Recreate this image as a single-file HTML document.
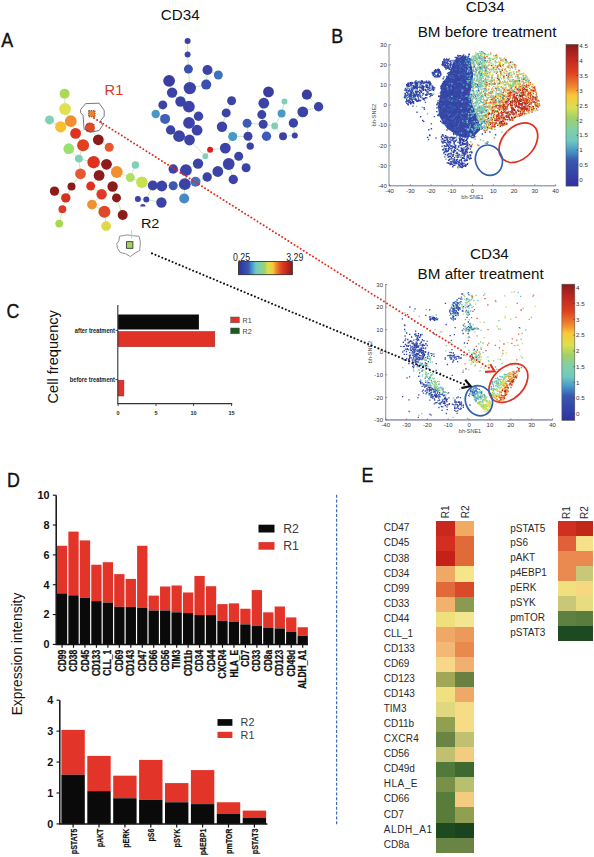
<!DOCTYPE html><html><head><meta charset="utf-8"><style>html,body{margin:0;padding:0;background:#fff;}body{width:594px;height:857px;overflow:hidden;}svg{display:block;}text{font-family:"Liberation Sans", sans-serif;}</style></head><body>
<svg width="594" height="857" viewBox="0 0 594 857">
<defs><linearGradient id="cb" x1="0" y1="0" x2="0" y2="1"><stop offset="0.000" stop-color="#8b1a1a"/><stop offset="0.100" stop-color="#c02820"/><stop offset="0.200" stop-color="#e04020"/><stop offset="0.300" stop-color="#f08830"/><stop offset="0.360" stop-color="#f8c838"/><stop offset="0.450" stop-color="#d8e050"/><stop offset="0.520" stop-color="#a0d068"/><stop offset="0.600" stop-color="#80d0a8"/><stop offset="0.680" stop-color="#70c8c0"/><stop offset="0.750" stop-color="#4898c8"/><stop offset="0.820" stop-color="#3858b0"/><stop offset="1.000" stop-color="#3030a0"/></linearGradient>
<linearGradient id="cbh" x1="0" y1="0" x2="1" y2="0"><stop offset="0.000" stop-color="#3030a0"/><stop offset="0.180" stop-color="#3858b0"/><stop offset="0.250" stop-color="#4898c8"/><stop offset="0.320" stop-color="#70c8c0"/><stop offset="0.400" stop-color="#80d0a8"/><stop offset="0.480" stop-color="#a0d068"/><stop offset="0.550" stop-color="#d8e050"/><stop offset="0.640" stop-color="#f8c838"/><stop offset="0.700" stop-color="#f08830"/><stop offset="0.800" stop-color="#e04020"/><stop offset="0.900" stop-color="#c02820"/><stop offset="1.000" stop-color="#8b1a1a"/></linearGradient></defs>
<text transform="translate(1.3,47.2) scale(0.87,1)" font-size="20.5" fill="#111" stroke="#111" stroke-width="0.35">A</text>
<text transform="translate(331.2,42.9) scale(0.87,1)" font-size="20.5" fill="#111" stroke="#111" stroke-width="0.35">B</text>
<text transform="translate(6.4,318.3) scale(0.87,1)" font-size="20.5" fill="#111" stroke="#111" stroke-width="0.35">C</text>
<text transform="translate(7.0,487.2) scale(0.87,1)" font-size="20.5" fill="#111" stroke="#111" stroke-width="0.35">D</text>
<text transform="translate(361.6,482) scale(0.87,1)" font-size="20.5" fill="#111" stroke="#111" stroke-width="0.35">E</text>
<text transform="translate(160.8,20.4) scale(1.05,1)" font-size="14.5" fill="#111">CD34</text>
<text transform="translate(465.8,12.1) scale(1.05,1)" font-size="14.5" fill="#111">CD34</text>
<text transform="translate(417.7,36.9) scale(1.05,1)" font-size="14.5" fill="#111">BM before treatment</text>
<text transform="translate(469.9,258.7) scale(1.05,1)" font-size="14.5" fill="#111">CD34</text>
<text transform="translate(417.6,278.6) scale(1.05,1)" font-size="14.5" fill="#111">BM after treatment</text>
<g>
<text transform="translate(58,356.8) rotate(-90)" text-anchor="middle" font-size="14.6" fill="#111">Cell frequency</text>
<rect x="118.1" y="314.5" width="80.8" height="15" fill="#0a0a0a"/>
<rect x="118.1" y="331.5" width="96.7" height="15.2" fill="#e03228" stroke="#9a2018" stroke-width="0.5"/>
<rect x="118.1" y="380.2" width="5.8" height="15.8" fill="#e03228" stroke="#9a2018" stroke-width="0.5"/>
<path d="M117.8 305 V403.6 H232.2" fill="none" stroke="#333" stroke-width="1.1"/>
<path d="M115.5 330.4 H118 M115.5 379.6 H118 M118.1 403.6 v2.5 M156 403.6 v2.5 M193.6 403.6 v2.5 M231.6 403.6 v2.5" stroke="#333" stroke-width="0.9"/>
<text x="115" y="333" text-anchor="end" font-size="7" font-weight="bold" fill="#222" transform="translate(115,0) scale(0.82,1) translate(-115,0)">after treatment</text>
<text x="115" y="382.3" text-anchor="end" font-size="7" font-weight="bold" fill="#222" transform="translate(115,0) scale(0.82,1) translate(-115,0)">before treatment</text>
<text x="118.1" y="415" text-anchor="middle" font-size="5.5" font-weight="bold" fill="#222">0</text>
<text x="156" y="415" text-anchor="middle" font-size="5.5" font-weight="bold" fill="#222">5</text>
<text x="193.6" y="415" text-anchor="middle" font-size="5.5" font-weight="bold" fill="#222">10</text>
<text x="231.6" y="415" text-anchor="middle" font-size="5.5" font-weight="bold" fill="#222">15</text>
<rect x="230.7" y="317" width="8.6" height="5.8" fill="#e03228" stroke="#555" stroke-width="0.5"/>
<rect x="230.7" y="328" width="8.6" height="5.8" fill="#1d5a20" stroke="#555" stroke-width="0.5"/>
<text x="242.5" y="322.8" font-size="7.2" fill="#444">R1</text>
<text x="242.5" y="333.8" font-size="7.2" fill="#444">R2</text>
</g>
<g>
<rect x="56.90" y="545.78" width="10.3" height="47.59" fill="#e3342a"/>
<rect x="56.90" y="593.37" width="10.3" height="51.03" fill="#0a0a0a"/>
<path d="M62.05 644.4 v3.4" stroke="#111" stroke-width="1.2"/>
<text transform="translate(65.65,649.8) rotate(-90) scale(0.83,1)" text-anchor="end" font-size="10.2" font-weight="bold" fill="#111" stroke="#111" stroke-width="0.25">CD99</text>
<rect x="68.36" y="531.60" width="10.3" height="63.71" fill="#e3342a"/>
<rect x="68.36" y="595.31" width="10.3" height="49.09" fill="#0a0a0a"/>
<path d="M73.51 644.4 v3.4" stroke="#111" stroke-width="1.2"/>
<text transform="translate(77.11,649.8) rotate(-90) scale(0.83,1)" text-anchor="end" font-size="10.2" font-weight="bold" fill="#111" stroke="#111" stroke-width="0.25">CD38</text>
<rect x="79.82" y="540.41" width="10.3" height="57.29" fill="#e3342a"/>
<rect x="79.82" y="597.70" width="10.3" height="46.70" fill="#0a0a0a"/>
<path d="M84.97 644.4 v3.4" stroke="#111" stroke-width="1.2"/>
<text transform="translate(88.57,649.8) rotate(-90) scale(0.83,1)" text-anchor="end" font-size="10.2" font-weight="bold" fill="#111" stroke="#111" stroke-width="0.25">CD45</text>
<rect x="91.28" y="564.73" width="10.3" height="36.40" fill="#e3342a"/>
<rect x="91.28" y="601.13" width="10.3" height="43.27" fill="#0a0a0a"/>
<path d="M96.43 644.4 v3.4" stroke="#111" stroke-width="1.2"/>
<text transform="translate(100.03,649.8) rotate(-90) scale(0.83,1)" text-anchor="end" font-size="10.2" font-weight="bold" fill="#111" stroke="#111" stroke-width="0.25">CD133</text>
<rect x="102.74" y="562.19" width="10.3" height="40.43" fill="#e3342a"/>
<rect x="102.74" y="602.62" width="10.3" height="41.78" fill="#0a0a0a"/>
<path d="M107.89 644.4 v3.4" stroke="#111" stroke-width="1.2"/>
<text transform="translate(111.49,649.8) rotate(-90) scale(0.83,1)" text-anchor="end" font-size="10.2" font-weight="bold" fill="#111" stroke="#111" stroke-width="0.25">CLL_1</text>
<rect x="114.20" y="574.13" width="10.3" height="32.67" fill="#e3342a"/>
<rect x="114.20" y="606.80" width="10.3" height="37.60" fill="#0a0a0a"/>
<path d="M119.35 644.4 v3.4" stroke="#111" stroke-width="1.2"/>
<text transform="translate(122.95,649.8) rotate(-90) scale(0.83,1)" text-anchor="end" font-size="10.2" font-weight="bold" fill="#111" stroke="#111" stroke-width="0.25">CD69</text>
<rect x="125.66" y="578.90" width="10.3" height="28.05" fill="#e3342a"/>
<rect x="125.66" y="606.95" width="10.3" height="37.45" fill="#0a0a0a"/>
<path d="M130.81 644.4 v3.4" stroke="#111" stroke-width="1.2"/>
<text transform="translate(134.41,649.8) rotate(-90) scale(0.83,1)" text-anchor="end" font-size="10.2" font-weight="bold" fill="#111" stroke="#111" stroke-width="0.25">CD143</text>
<rect x="137.12" y="545.78" width="10.3" height="61.92" fill="#e3342a"/>
<rect x="137.12" y="607.70" width="10.3" height="36.70" fill="#0a0a0a"/>
<path d="M142.27 644.4 v3.4" stroke="#111" stroke-width="1.2"/>
<text transform="translate(145.87,649.8) rotate(-90) scale(0.83,1)" text-anchor="end" font-size="10.2" font-weight="bold" fill="#111" stroke="#111" stroke-width="0.25">CD47</text>
<rect x="148.58" y="595.61" width="10.3" height="14.92" fill="#e3342a"/>
<rect x="148.58" y="610.53" width="10.3" height="33.87" fill="#0a0a0a"/>
<path d="M153.73 644.4 v3.4" stroke="#111" stroke-width="1.2"/>
<text transform="translate(157.33,649.8) rotate(-90) scale(0.83,1)" text-anchor="end" font-size="10.2" font-weight="bold" fill="#111" stroke="#111" stroke-width="0.25">CD66</text>
<rect x="160.04" y="586.51" width="10.3" height="24.02" fill="#e3342a"/>
<rect x="160.04" y="610.53" width="10.3" height="33.87" fill="#0a0a0a"/>
<path d="M165.19 644.4 v3.4" stroke="#111" stroke-width="1.2"/>
<text transform="translate(168.79,649.8) rotate(-90) scale(0.83,1)" text-anchor="end" font-size="10.2" font-weight="bold" fill="#111" stroke="#111" stroke-width="0.25">CD56</text>
<rect x="171.50" y="585.47" width="10.3" height="26.86" fill="#e3342a"/>
<rect x="171.50" y="612.32" width="10.3" height="32.08" fill="#0a0a0a"/>
<path d="M176.65 644.4 v3.4" stroke="#111" stroke-width="1.2"/>
<text transform="translate(180.25,649.8) rotate(-90) scale(0.83,1)" text-anchor="end" font-size="10.2" font-weight="bold" fill="#111" stroke="#111" stroke-width="0.25">TIM3</text>
<rect x="182.96" y="592.48" width="10.3" height="20.59" fill="#e3342a"/>
<rect x="182.96" y="613.07" width="10.3" height="31.33" fill="#0a0a0a"/>
<path d="M188.11 644.4 v3.4" stroke="#111" stroke-width="1.2"/>
<text transform="translate(191.71,649.8) rotate(-90) scale(0.83,1)" text-anchor="end" font-size="10.2" font-weight="bold" fill="#111" stroke="#111" stroke-width="0.25">CD11b</text>
<rect x="194.42" y="575.92" width="10.3" height="39.09" fill="#e3342a"/>
<rect x="194.42" y="615.01" width="10.3" height="29.39" fill="#0a0a0a"/>
<path d="M199.57 644.4 v3.4" stroke="#111" stroke-width="1.2"/>
<text transform="translate(203.17,649.8) rotate(-90) scale(0.83,1)" text-anchor="end" font-size="10.2" font-weight="bold" fill="#111" stroke="#111" stroke-width="0.25">CD34</text>
<rect x="205.88" y="586.21" width="10.3" height="28.80" fill="#e3342a"/>
<rect x="205.88" y="615.01" width="10.3" height="29.39" fill="#0a0a0a"/>
<path d="M211.03 644.4 v3.4" stroke="#111" stroke-width="1.2"/>
<text transform="translate(214.63,649.8) rotate(-90) scale(0.83,1)" text-anchor="end" font-size="10.2" font-weight="bold" fill="#111" stroke="#111" stroke-width="0.25">CD44</text>
<rect x="217.34" y="604.12" width="10.3" height="16.71" fill="#e3342a"/>
<rect x="217.34" y="620.83" width="10.3" height="23.57" fill="#0a0a0a"/>
<path d="M222.49 644.4 v3.4" stroke="#111" stroke-width="1.2"/>
<text transform="translate(226.09,649.8) rotate(-90) scale(0.83,1)" text-anchor="end" font-size="10.2" font-weight="bold" fill="#111" stroke="#111" stroke-width="0.25">CXCR4</text>
<rect x="228.80" y="603.37" width="10.3" height="18.50" fill="#e3342a"/>
<rect x="228.80" y="621.87" width="10.3" height="22.53" fill="#0a0a0a"/>
<path d="M233.95 644.4 v3.4" stroke="#111" stroke-width="1.2"/>
<text transform="translate(237.55,649.8) rotate(-90) scale(0.83,1)" text-anchor="end" font-size="10.2" font-weight="bold" fill="#111" stroke="#111" stroke-width="0.25">HLA_E</text>
<rect x="240.26" y="608.74" width="10.3" height="15.67" fill="#e3342a"/>
<rect x="240.26" y="624.41" width="10.3" height="19.99" fill="#0a0a0a"/>
<path d="M245.41 644.4 v3.4" stroke="#111" stroke-width="1.2"/>
<text transform="translate(249.01,649.8) rotate(-90) scale(0.83,1)" text-anchor="end" font-size="10.2" font-weight="bold" fill="#111" stroke="#111" stroke-width="0.25">CD7</text>
<rect x="251.72" y="590.09" width="10.3" height="35.96" fill="#e3342a"/>
<rect x="251.72" y="626.05" width="10.3" height="18.35" fill="#0a0a0a"/>
<path d="M256.87 644.4 v3.4" stroke="#111" stroke-width="1.2"/>
<text transform="translate(260.47,649.8) rotate(-90) scale(0.83,1)" text-anchor="end" font-size="10.2" font-weight="bold" fill="#111" stroke="#111" stroke-width="0.25">CD33</text>
<rect x="263.18" y="612.32" width="10.3" height="15.67" fill="#e3342a"/>
<rect x="263.18" y="627.99" width="10.3" height="16.41" fill="#0a0a0a"/>
<path d="M268.33 644.4 v3.4" stroke="#111" stroke-width="1.2"/>
<text transform="translate(271.93,649.8) rotate(-90) scale(0.83,1)" text-anchor="end" font-size="10.2" font-weight="bold" fill="#111" stroke="#111" stroke-width="0.25">CD8a</text>
<rect x="274.64" y="606.50" width="10.3" height="21.93" fill="#e3342a"/>
<rect x="274.64" y="628.44" width="10.3" height="15.96" fill="#0a0a0a"/>
<path d="M279.79 644.4 v3.4" stroke="#111" stroke-width="1.2"/>
<text transform="translate(283.39,649.8) rotate(-90) scale(0.83,1)" text-anchor="end" font-size="10.2" font-weight="bold" fill="#111" stroke="#111" stroke-width="0.25">CD123</text>
<rect x="286.10" y="617.39" width="10.3" height="14.32" fill="#e3342a"/>
<rect x="286.10" y="631.72" width="10.3" height="12.68" fill="#0a0a0a"/>
<path d="M291.25 644.4 v3.4" stroke="#111" stroke-width="1.2"/>
<text transform="translate(294.85,649.8) rotate(-90) scale(0.83,1)" text-anchor="end" font-size="10.2" font-weight="bold" fill="#111" stroke="#111" stroke-width="0.25">CD49d</text>
<rect x="297.56" y="627.24" width="10.3" height="8.50" fill="#e3342a"/>
<rect x="297.56" y="635.75" width="10.3" height="8.65" fill="#0a0a0a"/>
<path d="M302.71 644.4 v3.4" stroke="#111" stroke-width="1.2"/>
<text transform="translate(306.31,649.8) rotate(-90) scale(0.83,1)" text-anchor="end" font-size="10.2" font-weight="bold" fill="#111" stroke="#111" stroke-width="0.25">ALDH_A1</text>
<path d="M56.2 495.2 V644.4 H308" fill="none" stroke="#111" stroke-width="1.5"/>
<path d="M52.8 644.40 H56.2" stroke="#111" stroke-width="1.1"/>
<text x="49.6" y="648.30" text-anchor="end" font-size="10.8" font-weight="bold" fill="#111">0</text>
<path d="M52.8 614.56 H56.2" stroke="#111" stroke-width="1.1"/>
<text x="49.6" y="618.46" text-anchor="end" font-size="10.8" font-weight="bold" fill="#111">2</text>
<path d="M52.8 584.72 H56.2" stroke="#111" stroke-width="1.1"/>
<text x="49.6" y="588.62" text-anchor="end" font-size="10.8" font-weight="bold" fill="#111">4</text>
<path d="M52.8 554.88 H56.2" stroke="#111" stroke-width="1.1"/>
<text x="49.6" y="558.78" text-anchor="end" font-size="10.8" font-weight="bold" fill="#111">6</text>
<path d="M52.8 525.04 H56.2" stroke="#111" stroke-width="1.1"/>
<text x="49.6" y="528.94" text-anchor="end" font-size="10.8" font-weight="bold" fill="#111">8</text>
<path d="M52.8 495.20 H56.2" stroke="#111" stroke-width="1.1"/>
<text x="49.6" y="499.10" text-anchor="end" font-size="10.8" font-weight="bold" fill="#111">10</text>
<rect x="258.5" y="524.7" width="16" height="7.8" fill="#0a0a0a"/>
<rect x="258.5" y="542.1" width="16" height="7.6" fill="#e3342a"/>
<text transform="translate(283.2,532.6) scale(0.94,1)" font-size="13" fill="#3a3a3a">R2</text>
<text transform="translate(283.2,550.1) scale(0.94,1)" font-size="13" fill="#3a3a3a">R1</text>
</g>
<text transform="translate(21.5,654) rotate(-90)" text-anchor="middle" font-size="13.8" fill="#111">Expression intensity</text>
<g>
<rect x="61.40" y="729.90" width="23.4" height="44.83" fill="#e3342a"/>
<rect x="61.40" y="774.74" width="23.4" height="49.16" fill="#0a0a0a"/>
<path d="M73.10 823.9 v3.6" stroke="#111" stroke-width="1.2"/>
<text transform="translate(76.70,828.6) rotate(-90) scale(0.75,1)" text-anchor="end" font-size="9.4" font-weight="bold" fill="#111" stroke="#111" stroke-width="0.2">pSTAT5</text>
<rect x="87.30" y="755.88" width="23.4" height="35.25" fill="#e3342a"/>
<rect x="87.30" y="791.12" width="23.4" height="32.78" fill="#0a0a0a"/>
<path d="M99.00 823.9 v3.6" stroke="#111" stroke-width="1.2"/>
<text transform="translate(102.60,828.6) rotate(-90) scale(0.75,1)" text-anchor="end" font-size="9.4" font-weight="bold" fill="#111" stroke="#111" stroke-width="0.2">pAKT</text>
<rect x="113.20" y="775.66" width="23.4" height="22.57" fill="#e3342a"/>
<rect x="113.20" y="798.24" width="23.4" height="25.66" fill="#0a0a0a"/>
<path d="M124.90 823.9 v3.6" stroke="#111" stroke-width="1.2"/>
<text transform="translate(128.50,828.6) rotate(-90) scale(0.75,1)" text-anchor="end" font-size="9.4" font-weight="bold" fill="#111" stroke="#111" stroke-width="0.2">pERK</text>
<rect x="139.10" y="759.90" width="23.4" height="39.89" fill="#e3342a"/>
<rect x="139.10" y="799.78" width="23.4" height="24.12" fill="#0a0a0a"/>
<path d="M150.80 823.9 v3.6" stroke="#111" stroke-width="1.2"/>
<text transform="translate(154.40,828.6) rotate(-90) scale(0.75,1)" text-anchor="end" font-size="9.4" font-weight="bold" fill="#111" stroke="#111" stroke-width="0.2">pS6</text>
<rect x="165.00" y="783.09" width="23.4" height="19.17" fill="#e3342a"/>
<rect x="165.00" y="802.26" width="23.4" height="21.64" fill="#0a0a0a"/>
<path d="M176.70 823.9 v3.6" stroke="#111" stroke-width="1.2"/>
<text transform="translate(180.30,828.6) rotate(-90) scale(0.75,1)" text-anchor="end" font-size="9.4" font-weight="bold" fill="#111" stroke="#111" stroke-width="0.2">pSYK</text>
<rect x="190.90" y="770.10" width="23.4" height="34.01" fill="#e3342a"/>
<rect x="190.90" y="804.11" width="23.4" height="19.79" fill="#0a0a0a"/>
<path d="M202.60 823.9 v3.6" stroke="#111" stroke-width="1.2"/>
<text transform="translate(206.20,828.6) rotate(-90) scale(0.75,1)" text-anchor="end" font-size="9.4" font-weight="bold" fill="#111" stroke="#111" stroke-width="0.2">p4EBP1</text>
<rect x="216.80" y="802.26" width="23.4" height="11.75" fill="#e3342a"/>
<rect x="216.80" y="814.01" width="23.4" height="9.89" fill="#0a0a0a"/>
<path d="M228.50 823.9 v3.6" stroke="#111" stroke-width="1.2"/>
<text transform="translate(232.10,828.6) rotate(-90) scale(0.75,1)" text-anchor="end" font-size="9.4" font-weight="bold" fill="#111" stroke="#111" stroke-width="0.2">pmTOR</text>
<rect x="242.70" y="810.60" width="23.4" height="7.42" fill="#e3342a"/>
<rect x="242.70" y="818.03" width="23.4" height="5.87" fill="#0a0a0a"/>
<path d="M254.40 823.9 v3.6" stroke="#111" stroke-width="1.2"/>
<text transform="translate(258.00,828.6) rotate(-90) scale(0.75,1)" text-anchor="end" font-size="9.4" font-weight="bold" fill="#111" stroke="#111" stroke-width="0.2">pSTAT3</text>
<path d="M59.8 700.2 V823.9 H267.4" fill="none" stroke="#111" stroke-width="1.5"/>
<path d="M56.5 823.90 H59.8" stroke="#111" stroke-width="1.1"/>
<text x="53.2" y="827.80" text-anchor="end" font-size="10.8" font-weight="bold" fill="#111">0</text>
<path d="M56.5 792.98 H59.8" stroke="#111" stroke-width="1.1"/>
<text x="53.2" y="796.88" text-anchor="end" font-size="10.8" font-weight="bold" fill="#111">1</text>
<path d="M56.5 762.06 H59.8" stroke="#111" stroke-width="1.1"/>
<text x="53.2" y="765.96" text-anchor="end" font-size="10.8" font-weight="bold" fill="#111">2</text>
<path d="M56.5 731.14 H59.8" stroke="#111" stroke-width="1.1"/>
<text x="53.2" y="735.04" text-anchor="end" font-size="10.8" font-weight="bold" fill="#111">3</text>
<path d="M56.5 700.22 H59.8" stroke="#111" stroke-width="1.1"/>
<text x="53.2" y="704.12" text-anchor="end" font-size="10.8" font-weight="bold" fill="#111">4</text>
<rect x="217.5" y="719.1" width="14.9" height="6.7" fill="#0a0a0a"/>
<rect x="217.5" y="731.8" width="14.9" height="6.2" fill="#e3342a"/>
<text transform="translate(240.6,726.2) scale(0.94,1)" font-size="11.5" fill="#3a3a3a">R2</text>
<text transform="translate(240.6,738.7) scale(0.94,1)" font-size="11.5" fill="#3a3a3a">R1</text>
</g>
<path d="M336.6 494.8 V824.4" stroke="#3a6cc0" stroke-width="1.2" stroke-dasharray="3,1.8"/>
<g shape-rendering="crispEdges">
<g>
<rect x="436" y="521.30" width="18.9" height="15.3" fill="#c8281e"/>
<rect x="454.8" y="521.30" width="19.4" height="15.3" fill="#f0aa62"/>
<rect x="436" y="536.36" width="18.9" height="15.3" fill="#d42e20"/>
<rect x="454.8" y="536.36" width="19.4" height="15.3" fill="#e06a38"/>
<rect x="436" y="551.42" width="18.9" height="15.3" fill="#c42218"/>
<rect x="454.8" y="551.42" width="19.4" height="15.3" fill="#e06a38"/>
<rect x="436" y="566.48" width="18.9" height="15.3" fill="#f0a866"/>
<rect x="454.8" y="566.48" width="19.4" height="15.3" fill="#f5e68a"/>
<rect x="436" y="581.54" width="18.9" height="15.3" fill="#e06a3a"/>
<rect x="454.8" y="581.54" width="19.4" height="15.3" fill="#d84a2a"/>
<rect x="436" y="596.60" width="18.9" height="15.3" fill="#f0b26e"/>
<rect x="454.8" y="596.60" width="19.4" height="15.3" fill="#8a9a52"/>
<rect x="436" y="611.66" width="18.9" height="15.3" fill="#efe07e"/>
<rect x="454.8" y="611.66" width="19.4" height="15.3" fill="#f3e690"/>
<rect x="436" y="626.72" width="18.9" height="15.3" fill="#f0a866"/>
<rect x="454.8" y="626.72" width="19.4" height="15.3" fill="#eb9a5c"/>
<rect x="436" y="641.78" width="18.9" height="15.3" fill="#f3b876"/>
<rect x="454.8" y="641.78" width="19.4" height="15.3" fill="#e88a4c"/>
<rect x="436" y="656.84" width="18.9" height="15.3" fill="#f7d888"/>
<rect x="454.8" y="656.84" width="19.4" height="15.3" fill="#f0b070"/>
<rect x="436" y="671.90" width="18.9" height="15.3" fill="#a0a858"/>
<rect x="454.8" y="671.90" width="19.4" height="15.3" fill="#6a8040"/>
<rect x="436" y="686.96" width="18.9" height="15.3" fill="#f0e080"/>
<rect x="454.8" y="686.96" width="19.4" height="15.3" fill="#f0a868"/>
<rect x="436" y="702.02" width="18.9" height="15.3" fill="#e0d880"/>
<rect x="454.8" y="702.02" width="19.4" height="15.3" fill="#f7dc88"/>
<rect x="436" y="717.08" width="18.9" height="15.3" fill="#90a050"/>
<rect x="454.8" y="717.08" width="19.4" height="15.3" fill="#f7dc88"/>
<rect x="436" y="732.14" width="18.9" height="15.3" fill="#6a8444"/>
<rect x="454.8" y="732.14" width="19.4" height="15.3" fill="#c0c070"/>
<rect x="436" y="747.20" width="18.9" height="15.3" fill="#c0c070"/>
<rect x="454.8" y="747.20" width="19.4" height="15.3" fill="#f3cc80"/>
<rect x="436" y="762.26" width="18.9" height="15.3" fill="#507a3a"/>
<rect x="454.8" y="762.26" width="19.4" height="15.3" fill="#3e6a30"/>
<rect x="436" y="777.32" width="18.9" height="15.3" fill="#7a9048"/>
<rect x="454.8" y="777.32" width="19.4" height="15.3" fill="#b8c070"/>
<rect x="436" y="792.38" width="18.9" height="15.3" fill="#587c3a"/>
<rect x="454.8" y="792.38" width="19.4" height="15.3" fill="#f3cc80"/>
<rect x="436" y="807.44" width="18.9" height="15.3" fill="#5a7c3a"/>
<rect x="454.8" y="807.44" width="19.4" height="15.3" fill="#90a050"/>
<rect x="436" y="822.50" width="18.9" height="15.3" fill="#1e4a20"/>
<rect x="454.8" y="822.50" width="19.4" height="15.3" fill="#1a4420"/>
<rect x="436" y="837.56" width="18.9" height="15.3" fill="#6a8444"/>
<rect x="454.8" y="837.56" width="19.4" height="15.3" fill="#6a8444"/>
</g>
<text transform="translate(449.2,518.3) rotate(-90)" font-size="10" fill="#2a2a2a">R1</text>
<text transform="translate(469,518.3) rotate(-90)" font-size="10" fill="#2a2a2a">R2</text>
<g shape-rendering="crispEdges">
<rect x="558.1" y="521.40" width="17.6" height="15.2" fill="#d03020"/>
<rect x="575.5" y="521.40" width="17.3" height="15.2" fill="#c02818"/>
<rect x="558.1" y="536.34" width="17.6" height="15.2" fill="#e0603a"/>
<rect x="575.5" y="536.34" width="17.3" height="15.2" fill="#f7e08a"/>
<rect x="558.1" y="551.28" width="17.6" height="15.2" fill="#eb8a50"/>
<rect x="575.5" y="551.28" width="17.3" height="15.2" fill="#eb8a50"/>
<rect x="558.1" y="566.22" width="17.6" height="15.2" fill="#eb8a50"/>
<rect x="575.5" y="566.22" width="17.3" height="15.2" fill="#c8c878"/>
<rect x="558.1" y="581.16" width="17.6" height="15.2" fill="#f0e080"/>
<rect x="575.5" y="581.16" width="17.3" height="15.2" fill="#f7d880"/>
<rect x="558.1" y="596.10" width="17.6" height="15.2" fill="#c8c878"/>
<rect x="575.5" y="596.10" width="17.3" height="15.2" fill="#e8dc80"/>
<rect x="558.1" y="611.04" width="17.6" height="15.2" fill="#5e8040"/>
<rect x="575.5" y="611.04" width="17.3" height="15.2" fill="#5a7c3c"/>
<rect x="558.1" y="625.98" width="17.6" height="15.2" fill="#1e4a22"/>
<rect x="575.5" y="625.98" width="17.3" height="15.2" fill="#1e4a22"/>
</g>
<text transform="translate(570.3,519) rotate(-90)" font-size="10" fill="#2a2a2a">R1</text>
<text transform="translate(588,519) rotate(-90)" font-size="10" fill="#2a2a2a">R2</text>
</g>
<text x="383.7" y="531.40" font-size="10" fill="#2a2a2a">CD47</text>
<text x="383.7" y="546.46" font-size="10" fill="#2a2a2a">CD45</text>
<text x="383.7" y="561.52" font-size="10" fill="#2a2a2a">CD38</text>
<text x="383.7" y="576.58" font-size="10" fill="#2a2a2a">CD34</text>
<text x="383.7" y="591.64" font-size="10" fill="#2a2a2a">CD99</text>
<text x="383.7" y="606.70" font-size="10" fill="#2a2a2a">CD33</text>
<text x="383.7" y="621.76" font-size="10" fill="#2a2a2a">CD44</text>
<text x="383.7" y="636.82" font-size="10" fill="#2a2a2a">CLL_1</text>
<text x="383.7" y="651.88" font-size="10" fill="#2a2a2a">CD133</text>
<text x="383.7" y="666.94" font-size="10" fill="#2a2a2a">CD69</text>
<text x="383.7" y="682.00" font-size="10" fill="#2a2a2a">CD123</text>
<text x="383.7" y="697.06" font-size="10" fill="#2a2a2a">CD143</text>
<text x="383.7" y="712.12" font-size="10" fill="#2a2a2a">TIM3</text>
<text x="383.7" y="727.18" font-size="10" fill="#2a2a2a">CD11b</text>
<text x="383.7" y="742.24" font-size="10" fill="#2a2a2a" letter-spacing="0.3">CXCR4</text>
<text x="383.7" y="757.30" font-size="10" fill="#2a2a2a">CD56</text>
<text x="383.7" y="772.36" font-size="10" fill="#2a2a2a">CD49d</text>
<text x="383.7" y="787.42" font-size="10" fill="#2a2a2a" letter-spacing="0.5">HLA_E</text>
<text x="383.7" y="802.48" font-size="10" fill="#2a2a2a">CD66</text>
<text x="383.7" y="817.54" font-size="10" fill="#2a2a2a">CD7</text>
<text x="383.7" y="832.60" font-size="10" fill="#2a2a2a" letter-spacing="0.65">ALDH_A1</text>
<text x="383.7" y="847.66" font-size="10" fill="#2a2a2a">CD8a</text>
<text x="510.2" y="531.50" font-size="10" fill="#2a2a2a">pSTAT5</text>
<text x="510.2" y="546.44" font-size="10" fill="#2a2a2a">pS6</text>
<text x="510.2" y="561.38" font-size="10" fill="#2a2a2a">pAKT</text>
<text x="510.2" y="576.32" font-size="10" fill="#2a2a2a">p4EBP1</text>
<text x="510.2" y="591.26" font-size="10" fill="#2a2a2a">pERK</text>
<text x="510.2" y="606.20" font-size="10" fill="#2a2a2a">pSYK</text>
<text x="510.2" y="621.14" font-size="10" fill="#2a2a2a">pmTOR</text>
<text x="510.2" y="636.08" font-size="10" fill="#2a2a2a">pSTAT3</text>
<path d="M456.8 58.0 L463.9 56.2 L469.8 58.0 L471.0 62.7 L473.3 74.5 L472.1 83.9 L469.8 94.5 L472.1 103.9 L475.7 113.3 L479.2 122.8 L480.4 129.8 L474.5 135.7 L465.1 138.1 L455.6 134.6 L446.2 127.5 L439.1 115.7 L438.0 106.3 L440.3 94.5 L441.5 83.9 L448.6 74.5 L453.3 62.7 Z" fill="#3844a4"/>
<path d="M389 44 V185.7 H555.8" fill="none" stroke="#999" stroke-width="1.1"/>
<path d="M389.5 185.7 H555.8" stroke="#9a9ac8" stroke-width="1.1"/>
<path d="M389.5 44.6 h1.5" stroke="#555" stroke-width="0.6"/>
<text x="386.8" y="46.7" text-anchor="end" font-size="6" fill="#333">30</text>
<path d="M389.5 64.8 h1.5" stroke="#555" stroke-width="0.6"/>
<text x="386.8" y="66.9" text-anchor="end" font-size="6" fill="#333">20</text>
<path d="M389.5 84.9 h1.5" stroke="#555" stroke-width="0.6"/>
<text x="386.8" y="87.0" text-anchor="end" font-size="6" fill="#333">10</text>
<path d="M389.5 105.1 h1.5" stroke="#555" stroke-width="0.6"/>
<text x="386.8" y="107.2" text-anchor="end" font-size="6" fill="#333">0</text>
<path d="M389.5 125.2 h1.5" stroke="#555" stroke-width="0.6"/>
<text x="386.8" y="127.3" text-anchor="end" font-size="6" fill="#333">-10</text>
<path d="M389.5 145.4 h1.5" stroke="#555" stroke-width="0.6"/>
<text x="386.8" y="147.5" text-anchor="end" font-size="6" fill="#333">-20</text>
<path d="M389.5 165.6 h1.5" stroke="#555" stroke-width="0.6"/>
<text x="386.8" y="167.7" text-anchor="end" font-size="6" fill="#333">-30</text>
<path d="M389.5 185.7 h1.5" stroke="#555" stroke-width="0.6"/>
<text x="386.8" y="187.8" text-anchor="end" font-size="6" fill="#333">-40</text>
<path d="M389.5 185.7 v-1.5" stroke="#555" stroke-width="0.6"/>
<text x="389.5" y="192.6" text-anchor="middle" font-size="6" fill="#333">-40</text>
<path d="M410.3 185.7 v-1.5" stroke="#555" stroke-width="0.6"/>
<text x="410.3" y="192.6" text-anchor="middle" font-size="6" fill="#333">-30</text>
<path d="M431.0 185.7 v-1.5" stroke="#555" stroke-width="0.6"/>
<text x="431.0" y="192.6" text-anchor="middle" font-size="6" fill="#333">-20</text>
<path d="M451.8 185.7 v-1.5" stroke="#555" stroke-width="0.6"/>
<text x="451.8" y="192.6" text-anchor="middle" font-size="6" fill="#333">-10</text>
<path d="M472.5 185.7 v-1.5" stroke="#555" stroke-width="0.6"/>
<text x="472.5" y="192.6" text-anchor="middle" font-size="6" fill="#333">0</text>
<path d="M493.3 185.7 v-1.5" stroke="#555" stroke-width="0.6"/>
<text x="493.3" y="192.6" text-anchor="middle" font-size="6" fill="#333">10</text>
<path d="M514.1 185.7 v-1.5" stroke="#555" stroke-width="0.6"/>
<text x="514.1" y="192.6" text-anchor="middle" font-size="6" fill="#333">20</text>
<path d="M534.8 185.7 v-1.5" stroke="#555" stroke-width="0.6"/>
<text x="534.8" y="192.6" text-anchor="middle" font-size="6" fill="#333">30</text>
<path d="M555.6 185.7 v-1.5" stroke="#555" stroke-width="0.6"/>
<text x="555.6" y="192.6" text-anchor="middle" font-size="6" fill="#333">40</text>
<text transform="translate(375.5,115) rotate(-90)" text-anchor="middle" font-size="5.5" fill="#444">bh-SNE2</text>
<text x="472.5" y="199" text-anchor="middle" font-size="5.5" fill="#444">bh-SNE1</text>
<ellipse cx="518.4" cy="142.7" rx="22.6" ry="15.9" transform="rotate(-47 518.4 142.7)" fill="none" stroke="#e03020" stroke-width="1.7"/>
<ellipse cx="488.9" cy="160.2" rx="13.3" ry="15.4" transform="rotate(-20 488.9 160.2)" fill="none" stroke="#3060b0" stroke-width="1.7"/>
<rect x="566" y="44.4" width="12.1" height="141.7" fill="url(#cb)" stroke="#555" stroke-width="0.6"/>
<path d="M578 45.7 h-1.5" stroke="#333" stroke-width="0.6"/>
<text x="579.3" y="47.9" font-size="6.2" fill="#333">4.5</text>
<path d="M578 60.6 h-1.5" stroke="#333" stroke-width="0.6"/>
<text x="579.3" y="62.8" font-size="6.2" fill="#333">4</text>
<path d="M578 75.5 h-1.5" stroke="#333" stroke-width="0.6"/>
<text x="579.3" y="77.7" font-size="6.2" fill="#333">3.5</text>
<path d="M578 90.4 h-1.5" stroke="#333" stroke-width="0.6"/>
<text x="579.3" y="92.6" font-size="6.2" fill="#333">3</text>
<path d="M578 105.3 h-1.5" stroke="#333" stroke-width="0.6"/>
<text x="579.3" y="107.5" font-size="6.2" fill="#333">2.5</text>
<path d="M578 120.2 h-1.5" stroke="#333" stroke-width="0.6"/>
<text x="579.3" y="122.5" font-size="6.2" fill="#333">2</text>
<path d="M578 135.2 h-1.5" stroke="#333" stroke-width="0.6"/>
<text x="579.3" y="137.4" font-size="6.2" fill="#333">1.5</text>
<path d="M578 150.1 h-1.5" stroke="#333" stroke-width="0.6"/>
<text x="579.3" y="152.3" font-size="6.2" fill="#333">1</text>
<path d="M578 165.0 h-1.5" stroke="#333" stroke-width="0.6"/>
<text x="579.3" y="167.2" font-size="6.2" fill="#333">0.5</text>
<path d="M578 179.9 h-1.5" stroke="#333" stroke-width="0.6"/>
<text x="579.3" y="182.1" font-size="6.2" fill="#333">0</text>
<path d="M385.7 284 V419.9 H552.5" fill="none" stroke="#999" stroke-width="1.1"/>
<path d="M385.7 419.9 H552.5" stroke="#9a9ac8" stroke-width="1.1"/>
<path d="M385.7 284.5 h1.5" stroke="#555" stroke-width="0.6"/>
<text x="383" y="286.6" text-anchor="end" font-size="6" fill="#333">30</text>
<path d="M385.7 307.1 h1.5" stroke="#555" stroke-width="0.6"/>
<text x="383" y="309.2" text-anchor="end" font-size="6" fill="#333">20</text>
<path d="M385.7 329.6 h1.5" stroke="#555" stroke-width="0.6"/>
<text x="383" y="331.7" text-anchor="end" font-size="6" fill="#333">10</text>
<path d="M385.7 352.2 h1.5" stroke="#555" stroke-width="0.6"/>
<text x="383" y="354.3" text-anchor="end" font-size="6" fill="#333">0</text>
<path d="M385.7 374.8 h1.5" stroke="#555" stroke-width="0.6"/>
<text x="383" y="376.9" text-anchor="end" font-size="6" fill="#333">-10</text>
<path d="M385.7 397.4 h1.5" stroke="#555" stroke-width="0.6"/>
<text x="383" y="399.5" text-anchor="end" font-size="6" fill="#333">-20</text>
<path d="M385.7 419.9 h1.5" stroke="#555" stroke-width="0.6"/>
<text x="383" y="422.0" text-anchor="end" font-size="6" fill="#333">-30</text>
<path d="M385.7 419.9 v-1.5" stroke="#555" stroke-width="0.6"/>
<text x="385.7" y="426.8" text-anchor="middle" font-size="6" fill="#333">-40</text>
<path d="M406.6 419.9 v-1.5" stroke="#555" stroke-width="0.6"/>
<text x="406.6" y="426.8" text-anchor="middle" font-size="6" fill="#333">-30</text>
<path d="M427.4 419.9 v-1.5" stroke="#555" stroke-width="0.6"/>
<text x="427.4" y="426.8" text-anchor="middle" font-size="6" fill="#333">-20</text>
<path d="M448.2 419.9 v-1.5" stroke="#555" stroke-width="0.6"/>
<text x="448.2" y="426.8" text-anchor="middle" font-size="6" fill="#333">-10</text>
<path d="M469.1 419.9 v-1.5" stroke="#555" stroke-width="0.6"/>
<text x="469.1" y="426.8" text-anchor="middle" font-size="6" fill="#333">0</text>
<path d="M489.9 419.9 v-1.5" stroke="#555" stroke-width="0.6"/>
<text x="489.9" y="426.8" text-anchor="middle" font-size="6" fill="#333">10</text>
<path d="M510.8 419.9 v-1.5" stroke="#555" stroke-width="0.6"/>
<text x="510.8" y="426.8" text-anchor="middle" font-size="6" fill="#333">20</text>
<path d="M531.6 419.9 v-1.5" stroke="#555" stroke-width="0.6"/>
<text x="531.6" y="426.8" text-anchor="middle" font-size="6" fill="#333">30</text>
<path d="M552.5 419.9 v-1.5" stroke="#555" stroke-width="0.6"/>
<text x="552.5" y="426.8" text-anchor="middle" font-size="6" fill="#333">40</text>
<text transform="translate(371.8,352) rotate(-90)" text-anchor="middle" font-size="5.5" fill="#444">bh-SNE2</text>
<text x="470" y="433" text-anchor="middle" font-size="5.5" fill="#444">bh-SNE1</text>
<rect x="561.9" y="284.2" width="12.9" height="136.1" fill="url(#cb)" stroke="#555" stroke-width="0.6"/>
<path d="M574.8 287.7 h-1.5" stroke="#333" stroke-width="0.6"/>
<text x="576" y="289.9" font-size="6.2" fill="#333">4</text>
<path d="M574.8 303.5 h-1.5" stroke="#333" stroke-width="0.6"/>
<text x="576" y="305.7" font-size="6.2" fill="#333">3.5</text>
<path d="M574.8 319.3 h-1.5" stroke="#333" stroke-width="0.6"/>
<text x="576" y="321.5" font-size="6.2" fill="#333">3</text>
<path d="M574.8 335.1 h-1.5" stroke="#333" stroke-width="0.6"/>
<text x="576" y="337.3" font-size="6.2" fill="#333">2.5</text>
<path d="M574.8 350.9 h-1.5" stroke="#333" stroke-width="0.6"/>
<text x="576" y="353.1" font-size="6.2" fill="#333">2</text>
<path d="M574.8 366.6 h-1.5" stroke="#333" stroke-width="0.6"/>
<text x="576" y="368.8" font-size="6.2" fill="#333">1.5</text>
<path d="M574.8 382.4 h-1.5" stroke="#333" stroke-width="0.6"/>
<text x="576" y="384.6" font-size="6.2" fill="#333">1</text>
<path d="M574.8 398.2 h-1.5" stroke="#333" stroke-width="0.6"/>
<text x="576" y="400.4" font-size="6.2" fill="#333">0.5</text>
<path d="M574.8 414.0 h-1.5" stroke="#333" stroke-width="0.6"/>
<text x="576" y="416.2" font-size="6.2" fill="#333">0</text>
<path d="M465.1 58.2h1.4M449.8 108.3h1.4M449.4 73.5h1.4M459.2 70.8h1.4M470.3 100.4h1.4M458.6 61.9h1.4M447.0 100.4h1.4M447.5 83.9h1.4M441.0 107.9h1.4M457.0 90.8h1.4M473.4 135.6h1.4M450.7 110.5h1.4M442.5 101.5h1.4M465.0 77.7h1.4M451.1 129.8h1.4M472.4 128.4h1.4M449.3 120.7h1.4M455.3 89.2h1.4M464.8 83.7h1.4M448.4 95.1h1.4M441.1 90.1h1.4M465.0 118.9h1.4M447.8 113.0h1.4M461.0 90.3h1.4M470.5 87.4h1.4M452.9 117.9h1.4M457.6 60.3h1.4M470.3 87.3h1.4M465.6 120.2h1.4M453.7 97.6h1.4M448.3 94.3h1.4M465.4 96.4h1.4M467.3 81.3h1.4M460.7 118.6h1.4M461.9 81.1h1.4M443.0 118.8h1.4M457.1 104.8h1.4M465.5 130.6h1.4M451.0 117.5h1.4M467.2 113.5h1.4M478.8 124.7h1.4M465.9 100.6h1.4M470.1 107.4h1.4M459.6 78.6h1.4M450.7 104.3h1.4M461.0 93.5h1.4M446.0 113.3h1.4M463.0 127.4h1.4M467.4 109.4h1.4M456.4 64.3h1.4M464.3 75.9h1.4M444.1 94.0h1.4M469.6 60.2h1.4M460.5 131.0h1.4M443.8 93.4h1.4M457.3 110.5h1.4M463.3 57.9h1.4M461.9 61.8h1.4M469.4 99.3h1.4M474.2 109.5h1.4M455.6 64.0h1.4M453.0 110.7h1.4M447.0 110.0h1.4M453.6 118.7h1.4M464.0 108.8h1.4M447.1 90.6h1.4M462.3 114.3h1.4M451.8 121.8h1.4M451.2 84.0h1.4M442.8 98.0h1.4M452.8 115.8h1.4M445.5 119.5h1.4M459.5 94.1h1.4M451.6 95.2h1.4M451.1 87.1h1.4M442.3 119.3h1.4M454.0 69.5h1.4M470.4 78.5h1.4M447.4 93.1h1.4M477.5 124.9h1.4M463.3 57.5h1.4M440.9 99.3h1.4M454.6 94.7h1.4M452.6 116.2h1.4M472.5 70.5h1.4M453.6 129.0h1.4M459.1 131.9h1.4M441.2 108.4h1.4M463.8 120.2h1.4M461.0 129.2h1.4M461.5 86.4h1.4M461.4 106.3h1.4M461.9 123.8h1.4M450.3 87.7h1.4M459.4 135.4h1.4M475.4 115.8h1.4M445.2 107.7h1.4M444.4 112.8h1.4M453.0 119.4h1.4M465.3 113.0h1.4M461.7 74.6h1.4M460.8 132.6h1.4M443.8 106.6h1.4M461.3 132.3h1.4M444.9 93.8h1.4M451.7 76.5h1.4M458.0 100.2h1.4M447.3 76.5h1.4M444.4 83.1h1.4M462.7 63.6h1.4M460.4 115.8h1.4M450.7 111.4h1.4M455.8 118.9h1.4M444.1 110.3h1.4M455.7 68.4h1.4M446.6 109.2h1.4M466.6 105.6h1.4M448.3 105.7h1.4M453.7 90.1h1.4M467.0 77.3h1.4M466.3 118.8h1.4M458.5 96.2h1.4M446.1 99.3h1.4M453.8 89.5h1.4M467.0 125.6h1.4M462.9 117.8h1.4M466.0 63.2h1.4M476.2 130.3h1.4M443.9 80.9h1.4M448.7 76.4h1.4M446.5 81.9h1.4M453.9 123.1h1.4M463.1 100.9h1.4M467.3 100.7h1.4M466.7 88.9h1.4M463.0 97.2h1.4M444.0 81.7h1.4M451.5 80.8h1.4M461.7 134.7h1.4M464.0 72.4h1.4M454.5 113.9h1.4M445.8 113.0h1.4M455.7 67.5h1.4M443.8 123.0h1.4M453.6 123.6h1.4M465.8 76.7h1.4M467.5 123.1h1.4M455.5 112.4h1.4M460.0 97.9h1.4M459.0 65.4h1.4M464.7 97.2h1.4M459.7 72.8h1.4M460.7 88.2h1.4M459.6 59.8h1.4M453.8 97.3h1.4M458.9 61.1h1.4M441.2 102.7h1.4M446.6 120.1h1.4M457.8 89.5h1.4M444.7 112.4h1.4M453.8 107.8h1.4M462.7 77.4h1.4M445.1 103.2h1.4M464.3 76.3h1.4M460.3 107.9h1.4M471.2 85.6h1.4M465.9 78.0h1.4M443.5 114.9h1.4M439.4 105.5h1.4M469.1 135.6h1.4M454.1 100.9h1.4M450.5 82.3h1.4M453.9 116.1h1.4M467.6 115.3h1.4M449.9 75.7h1.4M450.5 110.4h1.4M454.9 96.3h1.4M453.7 92.7h1.4M443.1 118.2h1.4M454.2 96.0h1.4M444.1 106.0h1.4M447.0 123.7h1.4M446.2 124.4h1.4M449.6 123.6h1.4M462.3 135.2h1.4M463.5 56.9h1.4M448.7 94.4h1.4M465.4 106.1h1.4M444.4 118.9h1.4M439.5 114.2h1.4M449.0 122.4h1.4M446.5 89.7h1.4M443.5 87.6h1.4M463.3 83.9h1.4M449.4 105.8h1.4M446.5 77.7h1.4M466.5 130.5h1.4M453.2 92.0h1.4M442.8 113.2h1.4M451.3 113.9h1.4M448.5 84.5h1.4M454.3 124.9h1.4M465.3 69.1h1.4M447.4 108.9h1.4M457.0 65.9h1.4M465.7 64.6h1.4M441.9 105.7h1.4M464.3 94.9h1.4M442.5 106.2h1.4M442.6 90.1h1.4M465.9 134.5h1.4M445.5 103.6h1.4M463.5 128.5h1.4M462.2 110.8h1.4M460.2 58.3h1.4M464.3 120.2h1.4M466.1 96.4h1.4M459.4 90.3h1.4M447.0 83.4h1.4M444.5 93.8h1.4M462.4 74.8h1.4M460.7 108.7h1.4M454.6 121.5h1.4M460.8 133.8h1.4M459.7 69.4h1.4M443.4 109.9h1.4M461.4 70.6h1.4M454.8 97.3h1.4M466.0 135.5h1.4M453.3 94.7h1.4M451.7 113.8h1.4M449.2 100.8h1.4M465.7 86.1h1.4M441.3 108.9h1.4M463.0 75.0h1.4M455.8 68.4h1.4M459.3 65.8h1.4M439.8 99.6h1.4M447.9 126.6h1.4M444.6 109.6h1.4M448.8 81.3h1.4M467.9 116.5h1.4M446.6 110.0h1.4M463.4 98.4h1.4M448.6 58.9h1.4M442.1 65.4h1.4M447.7 63.6h1.4M443.8 62.1h1.4M443.9 67.0h1.4M448.2 67.9h1.4M447.8 60.5h1.4M446.9 60.0h1.4M443.9 60.5h1.4M443.8 62.2h1.4M447.2 66.9h1.4M444.3 66.8h1.4M437.5 75.6h1.4M437.6 73.3h1.4M438.6 70.6h1.4M432.9 75.6h1.4M435.1 69.7h1.4M434.9 72.3h1.4M433.9 74.3h1.4M438.1 70.3h1.4M437.6 73.8h1.4M435.2 70.8h1.4M437.7 70.4h1.4M437.8 75.1h1.4M433.0 73.0h1.4M431.6 72.5h1.4M411.0 87.2h1.4M411.8 88.6h1.4M412.5 94.4h1.4M412.9 103.5h1.4M425.3 94.7h1.4M406.1 85.0h1.4M411.0 85.1h1.4M407.1 86.4h1.4M432.9 89.7h1.4M425.0 86.0h1.4M405.2 95.0h1.4M418.0 100.6h1.4M410.6 97.0h1.4M413.4 88.2h1.4M407.1 92.7h1.4M407.4 90.7h1.4M405.3 97.3h1.4M408.1 102.8h1.4M411.3 99.5h1.4M419.3 87.8h1.4M420.8 97.1h1.4M410.8 84.1h1.4M419.1 95.5h1.4M423.3 82.1h1.4M407.0 95.4h1.4M408.2 102.3h1.4M429.1 85.7h1.4M410.3 91.8h1.4M417.4 91.4h1.4M415.4 83.2h1.4M425.9 93.9h1.4M413.5 97.4h1.4M429.2 88.3h1.4M413.1 98.9h1.4M428.1 81.1h1.4M407.6 91.3h1.4M426.0 97.9h1.4M408.1 100.6h1.4M412.3 89.7h1.4M422.4 87.1h1.4M428.9 87.5h1.4M410.1 99.2h1.4M422.7 86.4h1.4M407.3 88.2h1.4M417.7 91.6h1.4M411.4 87.6h1.4M430.1 90.3h1.4M420.8 87.9h1.4M416.7 96.4h1.4M414.5 87.0h1.4M409.1 90.4h1.4M409.5 94.6h1.4M406.6 85.8h1.4M421.5 88.7h1.4M421.1 91.0h1.4M415.5 94.7h1.4M411.9 91.3h1.4M405.5 96.2h1.4M411.5 95.5h1.4M413.0 87.3h1.4M408.1 101.1h1.4M426.3 85.5h1.4M408.6 90.6h1.4M409.0 86.2h1.4M405.8 90.3h1.4M426.2 82.3h1.4M413.2 94.1h1.4M429.9 84.5h1.4M414.7 99.7h1.4M420.0 100.4h1.4M414.3 99.6h1.4M415.1 83.8h1.4M415.8 93.8h1.4M409.0 98.1h1.4M407.3 84.0h1.4M408.4 84.3h1.4M427.2 91.4h1.4M407.1 100.7h1.4M431.8 86.9h1.4M410.0 94.2h1.4M423.7 82.9h1.4M421.1 81.2h1.4M418.5 100.3h1.4M445.1 151.0h1.4M463.7 155.5h1.4M451.4 139.4h1.4M451.7 147.7h1.4M460.0 145.0h1.4M462.1 163.9h1.4M443.7 152.2h1.4M449.4 153.4h1.4M464.7 164.4h1.4M470.3 151.8h1.4M469.8 147.1h1.4M468.8 159.0h1.4M443.3 148.1h1.4M468.7 152.4h1.4M458.2 150.5h1.4M448.2 156.5h1.4M466.0 158.9h1.4M444.0 152.1h1.4M453.5 160.7h1.4M452.7 163.0h1.4M446.6 151.2h1.4M462.7 166.3h1.4M458.7 138.4h1.4M453.8 149.5h1.4M450.4 140.6h1.4M450.9 150.7h1.4M465.0 151.4h1.4M456.5 157.3h1.4M469.7 156.9h1.4M449.3 139.6h1.4M459.3 140.9h1.4M466.6 145.6h1.4M443.6 142.4h1.4M445.3 146.5h1.4M451.2 146.0h1.4M447.4 137.3h1.4M465.1 149.5h1.4M453.6 142.2h1.4M449.3 139.3h1.4M461.7 153.4h1.4M447.6 142.6h1.4M452.1 140.5h1.4M465.5 165.0h1.4M442.1 149.8h1.4M456.3 163.5h1.4M463.4 151.1h1.4M465.2 143.6h1.4M447.5 157.0h1.4M441.4 146.4h1.4M447.7 153.6h1.4M454.1 159.7h1.4M470.1 147.0h1.4M454.7 140.8h1.4M445.9 151.9h1.4M455.3 163.5h1.4M443.0 153.0h1.4M444.0 140.7h1.4M448.1 154.2h1.4M444.3 151.2h1.4M450.7 148.6h1.4M442.5 141.4h1.4M453.1 163.0h1.4M466.6 149.7h1.4M450.9 148.7h1.4M467.8 157.8h1.4M468.1 156.0h1.4M462.5 140.4h1.4M441.7 142.5h1.4M465.2 152.8h1.4M449.1 144.8h1.4M459.0 140.1h1.4M444.1 156.9h1.4M455.1 137.6h1.4M449.1 159.5h1.4M458.9 154.6h1.4M463.4 156.6h1.4M463.4 58.5h1.4M462.3 56.4h1.4M468.5 54.3h1.4M470.1 58.8h1.4M471.0 133.7h1.4M470.5 136.9h1.4M473.8 136.7h1.4M456.6 133.0h1.4M461.9 137.1h1.4M455.0 133.8h1.4M460.7 138.5h1.4M446.3 130.0h1.4M447.0 128.3h1.4M448.4 129.4h1.4M441.4 122.1h1.4M446.0 126.1h1.4M439.3 112.3h1.4M437.1 115.2h1.4M436.0 104.9h1.4M437.5 107.7h1.4M437.4 100.9h1.4M437.8 103.5h1.4M437.7 106.2h1.4M440.5 96.0h1.4M441.2 96.4h1.4M440.2 88.2h1.4M442.2 86.2h1.4M441.0 90.8h1.4M442.5 86.9h1.4M440.9 85.6h1.4M440.2 86.4h1.4M449.0 75.3h1.4M446.9 73.5h1.4M442.4 78.7h1.4M442.8 81.8h1.4M452.6 63.9h1.4M450.3 74.2h1.4M447.9 72.7h1.4M452.7 63.6h1.4M452.5 62.0h1.4M456.6 58.5h1.4M455.5 58.1h1.4M454.5 57.4h1.4M456.0 57.4h1.4M416.3 112.3h1.4M428.1 129.7h1.4M423.7 109.3h1.4M427.8 139.5h1.4" stroke="#3651ad" stroke-width="1.4"/>
<path d="M466.7 129.3h1.4M468.5 80.8h1.4M467.9 122.7h1.4M471.1 108.6h1.4M475.9 125.5h1.4M465.2 154.5h1.4M470.1 141.8h1.4M501.3 132.3h1.4M491.2 129.6h1.4M484.6 143.3h1.4M469.8 149.6h1.4" stroke="#94d07f" stroke-width="1.4"/>
<path d="M447.3 97.6h1.4M459.6 63.6h1.4M456.6 98.6h1.4M447.1 89.0h1.4M468.4 75.7h1.4M448.8 114.2h1.4M450.8 101.1h1.4M451.6 100.4h1.4M439.1 108.8h1.4M449.5 76.8h1.4M461.5 113.3h1.4M472.1 130.0h1.4M471.9 105.9h1.4M467.1 96.4h1.4M448.8 83.1h1.4M469.7 70.6h1.4M456.6 99.0h1.4M458.6 74.8h1.4M466.7 75.7h1.4M472.6 121.8h1.4M467.5 107.9h1.4M471.7 78.6h1.4M468.7 71.8h1.4M462.6 90.4h1.4M465.2 96.4h1.4M468.2 62.9h1.4M453.3 78.3h1.4M461.5 89.6h1.4M450.4 88.0h1.4M465.5 111.7h1.4M472.5 114.0h1.4M464.1 63.1h1.4M458.7 63.0h1.4M470.3 80.1h1.4M461.3 65.5h1.4M468.5 100.9h1.4M464.8 69.8h1.4M464.9 128.3h1.4M466.2 85.5h1.4M467.2 67.0h1.4M468.6 107.6h1.4M470.3 134.4h1.4M469.4 116.9h1.4M471.2 115.2h1.4M476.8 116.9h1.4M469.6 75.7h1.4M465.6 112.5h1.4M445.2 80.1h1.4M467.5 64.2h1.4M462.9 84.8h1.4M471.4 83.3h1.4M448.8 100.0h1.4M461.2 95.1h1.4M467.5 107.8h1.4M457.7 64.4h1.4M467.0 124.9h1.4M474.1 127.4h1.4M470.2 74.4h1.4M467.7 117.5h1.4M467.4 82.6h1.4M470.0 58.8h1.4M470.1 104.2h1.4M469.4 91.9h1.4M469.1 128.1h1.4M473.7 126.5h1.4M470.9 86.2h1.4M459.3 67.6h1.4M472.4 115.2h1.4M469.2 61.8h1.4M414.3 82.2h1.4M413.2 87.1h1.4M421.9 82.2h1.4M427.1 87.3h1.4M411.3 94.7h1.4M406.4 89.4h1.4M421.6 89.8h1.4M418.9 81.8h1.4M416.5 95.2h1.4M416.0 94.2h1.4M467.2 157.6h1.4M463.9 139.1h1.4" stroke="#4898c8" stroke-width="1.4"/>
<path d="M461.1 74.3h1.4M463.6 122.3h1.4M453.7 73.4h1.4M465.1 106.1h1.4M458.0 120.5h1.4M456.8 126.7h1.4M461.0 117.5h1.4M467.8 106.3h1.4M441.9 90.9h1.4M464.3 68.9h1.4M469.2 83.4h1.4M459.7 87.7h1.4M459.0 76.2h1.4M460.0 60.3h1.4M472.0 110.9h1.4M464.6 78.7h1.4M447.3 91.9h1.4M455.1 69.7h1.4M443.4 107.2h1.4M467.7 119.0h1.4M466.7 134.7h1.4M468.3 62.4h1.4M460.8 95.8h1.4M469.0 78.2h1.4M447.0 121.5h1.4M468.7 136.2h1.4M458.3 123.5h1.4M467.8 93.4h1.4M458.9 62.8h1.4M457.3 82.0h1.4M461.4 101.4h1.4M466.1 123.4h1.4M440.9 107.9h1.4M458.4 122.3h1.4M452.4 65.6h1.4M474.5 115.5h1.4M472.9 133.2h1.4M455.3 134.1h1.4M451.7 70.5h1.4M457.4 135.2h1.4M441.4 106.0h1.4M461.3 82.8h1.4M460.5 93.4h1.4M455.0 67.8h1.4M442.8 91.4h1.4M466.8 96.1h1.4M473.3 122.2h1.4M459.5 81.6h1.4M476.4 127.7h1.4M462.7 67.8h1.4M452.3 119.0h1.4M457.0 99.9h1.4M461.1 82.5h1.4M465.5 76.6h1.4M458.8 66.2h1.4M457.2 129.8h1.4M468.5 99.3h1.4M464.9 101.3h1.4M459.3 70.0h1.4M448.5 127.1h1.4M451.3 118.7h1.4M459.8 97.0h1.4M454.7 121.3h1.4M451.9 106.4h1.4M466.9 58.8h1.4M466.7 87.3h1.4M455.5 115.0h1.4M451.6 109.1h1.4M461.0 96.7h1.4M474.3 129.7h1.4M438.5 109.7h1.4M451.0 89.4h1.4M464.1 74.1h1.4M456.9 113.8h1.4M459.8 93.6h1.4M454.2 127.4h1.4M463.3 113.8h1.4M449.1 98.2h1.4M457.9 125.0h1.4M454.1 101.5h1.4M442.0 99.5h1.4M454.9 62.5h1.4M454.5 129.6h1.4M469.4 82.1h1.4M463.2 72.2h1.4M452.1 107.0h1.4M452.0 83.6h1.4M465.9 85.3h1.4M467.4 109.0h1.4M466.8 64.0h1.4M470.8 116.2h1.4M447.9 109.9h1.4M454.2 116.0h1.4M443.8 119.5h1.4M444.1 99.6h1.4M463.2 99.5h1.4M443.4 120.2h1.4M468.2 103.4h1.4M454.2 68.5h1.4M440.9 94.3h1.4M458.9 119.5h1.4M473.6 128.0h1.4M451.1 77.9h1.4M455.5 101.3h1.4M473.6 125.4h1.4M467.6 131.1h1.4M467.7 133.8h1.4M454.8 64.5h1.4M478.2 121.1h1.4M467.4 132.3h1.4M462.0 132.9h1.4M449.2 76.6h1.4M463.2 106.5h1.4M457.7 74.7h1.4M464.6 124.5h1.4M455.8 90.1h1.4M462.9 118.3h1.4M452.1 75.7h1.4M464.9 66.3h1.4M453.1 117.2h1.4M458.0 127.2h1.4M458.7 107.9h1.4M449.6 118.5h1.4M450.6 80.0h1.4M447.7 115.8h1.4M469.1 104.5h1.4M446.6 113.8h1.4M459.7 115.5h1.4M472.0 81.8h1.4M454.1 85.6h1.4M452.3 99.0h1.4M473.2 135.2h1.4M466.4 72.6h1.4M471.3 121.6h1.4M456.9 130.3h1.4M460.9 79.4h1.4M446.2 98.3h1.4M440.8 111.1h1.4M442.4 100.2h1.4M454.5 107.8h1.4M470.7 116.3h1.4M474.0 122.3h1.4M444.8 124.5h1.4M439.8 103.2h1.4M463.4 102.4h1.4M471.7 123.4h1.4M443.5 105.6h1.4M467.7 69.5h1.4M472.8 108.6h1.4M471.1 85.1h1.4M449.7 105.9h1.4M445.1 63.0h1.4M449.5 66.6h1.4M442.2 61.9h1.4M450.5 64.8h1.4M447.4 60.0h1.4M438.7 71.8h1.4M407.9 85.4h1.4M422.3 93.6h1.4M416.1 100.3h1.4M418.3 95.9h1.4M431.7 88.4h1.4M425.5 84.2h1.4M417.7 97.8h1.4M430.4 93.8h1.4M417.6 87.2h1.4M405.9 100.4h1.4M423.3 83.4h1.4M419.8 96.1h1.4M407.5 94.1h1.4M416.4 90.0h1.4M416.2 101.4h1.4M405.9 95.4h1.4M421.4 87.8h1.4M412.2 99.4h1.4M429.2 82.5h1.4M409.6 91.2h1.4M414.7 96.4h1.4M414.1 96.1h1.4M413.0 93.7h1.4M416.5 85.0h1.4M452.3 156.0h1.4M465.8 142.7h1.4M451.8 138.2h1.4M449.2 143.3h1.4M458.3 161.3h1.4M466.8 147.3h1.4M465.1 165.7h1.4M464.7 159.9h1.4M455.1 155.6h1.4M445.6 148.8h1.4M457.3 142.2h1.4M447.5 145.0h1.4M453.9 144.8h1.4M457.7 146.0h1.4M446.5 162.7h1.4M462.4 163.9h1.4M463.0 56.5h1.4M458.3 55.6h1.4M467.1 60.2h1.4M467.3 59.3h1.4M458.6 132.7h1.4M459.6 137.2h1.4M458.7 137.0h1.4M453.6 132.0h1.4M445.4 125.0h1.4M440.0 107.8h1.4M438.0 114.3h1.4M443.2 77.0h1.4M451.3 60.5h1.4M424.7 102.4h1.4M430.7 123.7h1.4M435.3 138.0h1.4M428.9 135.5h1.4" stroke="#3c6ab6" stroke-width="1.4"/>
<path d="M472.2 113.4h1.4M468.5 68.9h1.4M475.3 128.2h1.4M476.2 121.4h1.4M470.6 64.9h1.4M471.2 84.6h1.4M471.5 109.2h1.4M470.7 116.4h1.4M469.6 103.6h1.4M468.0 113.7h1.4M469.7 125.1h1.4M409.6 96.3h1.4M449.2 142.6h1.4M453.2 150.7h1.4M456.1 147.6h1.4M452.4 143.9h1.4M455.9 138.0h1.4M457.1 155.2h1.4M459.9 155.7h1.4M455.3 156.1h1.4M415.8 106.4h1.4M421.6 107.3h1.4" stroke="#80d0a8" stroke-width="1.4"/>
<path d="M460.7 135.9h1.4M455.1 84.0h1.4M449.2 120.4h1.4M464.9 124.1h1.4M457.6 65.8h1.4M461.4 87.6h1.4M451.1 92.3h1.4M457.0 131.9h1.4M445.0 92.0h1.4M457.6 79.3h1.4M441.3 105.5h1.4M444.5 110.2h1.4M455.7 108.5h1.4M464.6 79.9h1.4M450.7 83.7h1.4M470.9 103.5h1.4M454.8 96.8h1.4M457.6 122.3h1.4M453.9 112.1h1.4M461.7 95.5h1.4M452.0 87.3h1.4M459.2 91.7h1.4M443.8 82.5h1.4M446.8 95.8h1.4M451.8 93.7h1.4M459.4 96.7h1.4M457.1 84.7h1.4M468.2 124.1h1.4M459.9 79.0h1.4M468.8 64.7h1.4M457.2 117.5h1.4M470.8 125.5h1.4M461.0 135.7h1.4M444.7 81.7h1.4M463.4 110.3h1.4M446.1 115.7h1.4M470.4 63.4h1.4M448.0 93.8h1.4M447.5 93.4h1.4M468.2 132.8h1.4M465.6 134.7h1.4M461.4 57.3h1.4M467.9 109.2h1.4M466.7 131.1h1.4M452.6 90.0h1.4M451.5 93.1h1.4M454.2 104.4h1.4M456.5 61.4h1.4M464.0 98.9h1.4M450.1 124.2h1.4M445.8 63.1h1.4M449.6 63.7h1.4M442.8 64.8h1.4M443.8 63.0h1.4M443.9 62.7h1.4M445.1 67.6h1.4M446.5 61.7h1.4M442.2 62.7h1.4M443.3 62.4h1.4M450.0 65.3h1.4M448.5 61.4h1.4M446.2 65.4h1.4M442.1 61.9h1.4M445.9 63.0h1.4M444.4 65.8h1.4M441.7 64.3h1.4M447.3 63.4h1.4M449.4 64.7h1.4M445.4 69.0h1.4M436.8 75.5h1.4M432.9 73.1h1.4M434.1 76.6h1.4M436.3 76.8h1.4M438.8 72.2h1.4M437.0 70.1h1.4M434.9 70.4h1.4M437.8 71.5h1.4M433.8 72.9h1.4M438.2 72.1h1.4M436.4 75.5h1.4M434.8 69.9h1.4M434.6 71.5h1.4M433.7 76.9h1.4M426.2 82.3h1.4M414.5 83.7h1.4M424.6 89.5h1.4M411.9 94.1h1.4M410.0 82.7h1.4M422.5 83.5h1.4M428.2 83.0h1.4M404.7 93.4h1.4M417.3 94.5h1.4M407.3 104.1h1.4M425.6 87.4h1.4M420.7 92.4h1.4M411.0 102.9h1.4M411.7 97.7h1.4M411.0 89.8h1.4M407.9 93.9h1.4M419.3 93.9h1.4M414.0 88.3h1.4M419.6 90.9h1.4M409.0 102.1h1.4M421.8 95.1h1.4M413.0 96.2h1.4M420.0 83.9h1.4M433.1 89.2h1.4M407.8 86.1h1.4M419.8 84.2h1.4M428.5 94.3h1.4M411.0 95.9h1.4M429.8 93.7h1.4M412.9 95.3h1.4M415.6 94.0h1.4M406.1 103.2h1.4M406.0 99.3h1.4M410.5 88.2h1.4M411.5 100.6h1.4M417.9 99.1h1.4M409.5 83.4h1.4M431.4 95.2h1.4M428.7 88.6h1.4M425.0 90.0h1.4M413.7 96.0h1.4M410.9 94.3h1.4M429.6 93.6h1.4M408.8 89.7h1.4M416.5 88.0h1.4M414.7 81.8h1.4M416.6 101.3h1.4M408.5 100.1h1.4M417.5 100.7h1.4M410.5 88.1h1.4M420.0 82.9h1.4M429.0 84.0h1.4M412.9 101.8h1.4M409.7 85.0h1.4M410.7 98.9h1.4M428.4 87.3h1.4M422.7 89.3h1.4M428.9 82.8h1.4M409.5 94.7h1.4M413.5 86.6h1.4M409.1 95.8h1.4M413.0 85.7h1.4M426.2 86.5h1.4M421.3 86.3h1.4M430.6 93.9h1.4M410.0 103.7h1.4M415.2 99.6h1.4M410.6 92.7h1.4M426.2 94.8h1.4M405.7 90.5h1.4M403.8 97.2h1.4M425.7 81.3h1.4M419.9 97.4h1.4M419.4 100.9h1.4M421.3 85.5h1.4M427.3 82.9h1.4M412.0 83.4h1.4M417.2 96.0h1.4M424.9 94.8h1.4M431.4 89.3h1.4M425.6 91.1h1.4M420.3 81.5h1.4M410.5 82.4h1.4M408.4 96.2h1.4M431.7 86.0h1.4M415.5 94.6h1.4M413.3 88.4h1.4M416.0 86.4h1.4M410.5 84.0h1.4M413.3 86.5h1.4M421.6 88.5h1.4M413.5 95.2h1.4M458.9 165.5h1.4M450.9 146.1h1.4M442.1 134.9h1.4M461.2 161.9h1.4M461.8 149.5h1.4M447.1 151.4h1.4M447.9 160.3h1.4M444.6 149.3h1.4M444.5 137.3h1.4M454.2 161.8h1.4M463.7 158.6h1.4M461.9 143.4h1.4M462.4 144.0h1.4M464.8 140.8h1.4M455.6 160.8h1.4M456.0 159.9h1.4M450.7 157.7h1.4M458.0 147.0h1.4M463.5 154.2h1.4M446.8 145.6h1.4M462.8 141.1h1.4M452.8 139.0h1.4M446.5 139.3h1.4M462.9 139.8h1.4M464.3 144.2h1.4M453.7 138.2h1.4M451.7 155.3h1.4M462.5 150.1h1.4M444.3 146.2h1.4M446.0 143.9h1.4M450.7 164.0h1.4M461.6 138.9h1.4M464.4 165.4h1.4M459.0 142.2h1.4M460.6 167.2h1.4M448.4 141.7h1.4M453.6 142.5h1.4M461.4 155.2h1.4M457.4 167.5h1.4M452.8 154.7h1.4M462.0 149.7h1.4M457.2 155.3h1.4M458.6 142.5h1.4M440.9 136.5h1.4M452.7 162.1h1.4M459.3 143.2h1.4M454.3 163.2h1.4M460.6 147.7h1.4M447.3 140.6h1.4M465.9 151.3h1.4M448.9 147.7h1.4M461.7 165.8h1.4M463.1 153.0h1.4M463.2 143.8h1.4M458.0 164.0h1.4M457.9 157.0h1.4M463.1 154.9h1.4M461.9 142.5h1.4M442.0 138.8h1.4M449.6 146.0h1.4M453.9 157.6h1.4M456.9 153.4h1.4M462.0 158.4h1.4M467.0 163.6h1.4M464.8 166.2h1.4M443.5 145.6h1.4M446.2 137.0h1.4M446.5 144.5h1.4M467.4 157.3h1.4M444.7 154.5h1.4M470.0 155.2h1.4M445.0 137.4h1.4M461.8 151.1h1.4M460.7 160.0h1.4M454.7 146.2h1.4M447.7 148.8h1.4M461.7 157.8h1.4M463.6 155.0h1.4M463.7 160.8h1.4M463.3 141.6h1.4M461.4 167.6h1.4M448.9 141.7h1.4M461.2 139.9h1.4M460.9 163.7h1.4M459.2 145.1h1.4M467.7 148.5h1.4M459.2 160.2h1.4M460.2 139.1h1.4M470.8 146.0h1.4M456.7 159.8h1.4M459.9 156.8h1.4M445.6 137.8h1.4M464.8 140.6h1.4M459.9 140.7h1.4M462.3 144.8h1.4M464.8 153.9h1.4M448.0 163.2h1.4M459.9 142.1h1.4M461.5 151.9h1.4M456.9 149.3h1.4M464.8 146.7h1.4M456.7 155.8h1.4M456.5 149.2h1.4M464.3 57.4h1.4M466.9 138.5h1.4M461.1 135.1h1.4M454.5 131.7h1.4M442.7 123.6h1.4M440.0 121.3h1.4M437.2 102.6h1.4M440.1 102.3h1.4M447.9 74.4h1.4M447.7 77.6h1.4M452.5 64.6h1.4M452.7 66.4h1.4M453.4 60.4h1.4M455.5 60.7h1.4M423.8 100.1h1.4" stroke="#323ba4" stroke-width="1.4"/>
<path d="M464.2 126.8h1.4M463.8 70.2h1.4M444.9 87.3h1.4M467.0 125.2h1.4M465.8 88.6h1.4M457.5 77.9h1.4M462.8 129.7h1.4M468.6 112.0h1.4M456.4 93.4h1.4M458.2 101.2h1.4M456.3 90.9h1.4M445.9 104.9h1.4M463.2 106.9h1.4M447.0 77.9h1.4M463.6 115.0h1.4M458.7 130.3h1.4M450.9 121.3h1.4M451.9 127.0h1.4M442.6 91.8h1.4M468.5 117.0h1.4M441.0 110.6h1.4M450.2 91.4h1.4M456.7 73.7h1.4M464.0 115.1h1.4M455.8 130.3h1.4M469.7 100.9h1.4M466.4 102.4h1.4M456.5 116.3h1.4M468.5 96.2h1.4M460.5 91.0h1.4M457.9 92.3h1.4M460.2 93.1h1.4M450.9 107.1h1.4M466.0 69.1h1.4M471.4 107.4h1.4M465.6 131.2h1.4M458.8 63.7h1.4M452.1 111.1h1.4M461.3 132.2h1.4M458.8 68.4h1.4M456.7 99.3h1.4M465.8 68.8h1.4M451.4 115.1h1.4M453.9 68.1h1.4M456.7 84.5h1.4M448.6 125.4h1.4M454.3 95.8h1.4M449.6 102.5h1.4M465.0 107.1h1.4M443.6 100.4h1.4M460.8 93.4h1.4M455.3 67.6h1.4M455.6 64.3h1.4M467.1 100.8h1.4M442.6 97.5h1.4M447.1 93.2h1.4M442.1 116.7h1.4M461.6 104.2h1.4M474.8 115.3h1.4M453.7 115.3h1.4M464.2 111.4h1.4M463.0 99.1h1.4M463.5 118.5h1.4M464.9 107.3h1.4M440.9 92.4h1.4M453.8 79.4h1.4M442.0 111.8h1.4M454.6 104.9h1.4M473.1 116.7h1.4M465.4 90.9h1.4M448.6 108.7h1.4M459.3 75.5h1.4M448.9 124.6h1.4M456.2 106.6h1.4M448.7 117.9h1.4M453.1 120.2h1.4M463.6 91.1h1.4M453.5 87.6h1.4M470.4 103.2h1.4M454.4 102.2h1.4M449.0 92.7h1.4M468.2 132.1h1.4M465.2 93.1h1.4M445.0 82.6h1.4M439.9 108.7h1.4M458.5 72.9h1.4M453.7 102.2h1.4M459.0 128.5h1.4M455.0 102.9h1.4M459.4 118.8h1.4M446.4 97.9h1.4M452.1 95.0h1.4M450.7 123.0h1.4M466.6 136.5h1.4M475.0 116.5h1.4M451.8 110.4h1.4M450.6 79.9h1.4M450.3 79.8h1.4M452.7 92.4h1.4M441.8 103.2h1.4M462.1 65.0h1.4M448.0 117.9h1.4M444.5 117.4h1.4M461.9 61.3h1.4M452.7 70.8h1.4M460.6 123.6h1.4M459.4 79.9h1.4M469.0 82.3h1.4M478.2 128.2h1.4M468.0 122.2h1.4M470.9 87.4h1.4M468.5 96.2h1.4M459.4 86.8h1.4M461.4 57.2h1.4M447.0 127.3h1.4M458.8 85.3h1.4M453.0 63.8h1.4M440.7 91.8h1.4M467.5 96.4h1.4M461.3 134.3h1.4M450.4 112.9h1.4M459.2 108.1h1.4M455.0 97.7h1.4M465.1 63.2h1.4M449.0 98.0h1.4M456.9 88.2h1.4M455.2 71.3h1.4M465.1 105.1h1.4M458.8 67.7h1.4M457.4 117.0h1.4M470.9 75.6h1.4M449.9 100.3h1.4M449.3 126.5h1.4M458.8 103.5h1.4M456.2 73.6h1.4M462.5 102.6h1.4M454.8 81.2h1.4M441.6 101.5h1.4M467.3 125.6h1.4M462.1 86.1h1.4M467.8 63.0h1.4M440.8 113.4h1.4M441.7 91.8h1.4M457.3 85.7h1.4M462.3 115.4h1.4M461.5 56.9h1.4M464.4 94.2h1.4M455.4 75.3h1.4M477.1 129.7h1.4M449.1 82.0h1.4M453.1 98.3h1.4M454.5 70.9h1.4M438.9 104.2h1.4M463.0 70.6h1.4M468.9 133.9h1.4M468.1 108.5h1.4M444.5 85.8h1.4M460.7 127.2h1.4M468.3 97.3h1.4M454.8 82.9h1.4M457.4 127.7h1.4M460.7 84.4h1.4M450.8 79.2h1.4M455.7 109.1h1.4M475.9 117.5h1.4M465.4 111.7h1.4M456.0 87.0h1.4M442.3 98.1h1.4M468.6 109.9h1.4M459.5 125.4h1.4M451.4 114.8h1.4M451.7 124.4h1.4M448.6 113.0h1.4M465.7 57.8h1.4M454.4 125.9h1.4M455.6 104.6h1.4M455.4 60.0h1.4M462.0 136.3h1.4M450.9 97.8h1.4M444.0 114.9h1.4M457.4 120.2h1.4M458.5 97.8h1.4M457.2 67.1h1.4M464.5 80.0h1.4M474.7 117.0h1.4M463.6 119.8h1.4M459.8 87.1h1.4M462.8 77.1h1.4M464.3 134.7h1.4M465.4 133.2h1.4M454.8 110.3h1.4M445.7 121.7h1.4M474.1 132.6h1.4M451.0 104.0h1.4M459.5 58.8h1.4M455.2 104.5h1.4M458.5 85.6h1.4M454.0 130.5h1.4M453.0 127.3h1.4M462.3 60.8h1.4M466.0 77.9h1.4M465.5 99.0h1.4M446.0 114.3h1.4M453.5 78.8h1.4M470.0 90.0h1.4M455.0 83.9h1.4M445.4 60.5h1.4M449.8 61.9h1.4M443.2 65.8h1.4M447.5 59.6h1.4M448.3 68.4h1.4M445.2 59.8h1.4M446.5 67.9h1.4M444.0 61.6h1.4M444.6 65.2h1.4M448.0 68.3h1.4M449.2 68.9h1.4M449.8 61.0h1.4M447.2 65.1h1.4M443.6 62.6h1.4M441.6 64.7h1.4M444.4 62.5h1.4M448.1 67.6h1.4M450.4 63.0h1.4M442.7 63.3h1.4M448.6 69.2h1.4M446.9 63.1h1.4M449.3 65.1h1.4M446.8 63.8h1.4M446.5 68.2h1.4M443.0 60.0h1.4M443.7 59.0h1.4M446.0 59.0h1.4M447.8 66.3h1.4M447.4 66.5h1.4M442.9 64.4h1.4M447.7 68.1h1.4M445.0 65.6h1.4M446.1 67.0h1.4M439.5 71.8h1.4M439.0 71.8h1.4M437.2 76.7h1.4M435.9 70.8h1.4M432.7 73.5h1.4M435.2 75.8h1.4M439.3 75.7h1.4M433.9 74.5h1.4M438.6 69.6h1.4M440.2 74.0h1.4M437.6 76.8h1.4M436.9 69.7h1.4M433.6 74.4h1.4M436.1 72.1h1.4M438.4 69.9h1.4M440.0 73.1h1.4M438.2 71.9h1.4M431.8 73.9h1.4M433.4 72.3h1.4M432.6 75.3h1.4M435.7 71.4h1.4M437.0 74.5h1.4M436.6 72.1h1.4M439.0 71.2h1.4M437.6 69.3h1.4M440.0 75.1h1.4M438.9 76.8h1.4M434.4 71.2h1.4M435.1 76.9h1.4M419.0 81.7h1.4M415.3 86.3h1.4M416.3 101.0h1.4M421.2 80.8h1.4M408.1 100.2h1.4M419.4 87.4h1.4M427.6 89.6h1.4M422.1 81.8h1.4M407.3 93.8h1.4M422.9 99.1h1.4M424.1 82.2h1.4M412.4 85.6h1.4M426.1 85.7h1.4M415.0 83.5h1.4M414.6 92.0h1.4M409.7 101.3h1.4M424.9 97.6h1.4M416.1 85.1h1.4M425.2 90.1h1.4M416.9 91.9h1.4M432.6 90.3h1.4M416.7 85.6h1.4M427.2 89.5h1.4M417.1 83.9h1.4M404.2 97.8h1.4M421.2 83.1h1.4M429.3 82.2h1.4M414.9 82.4h1.4M415.1 98.9h1.4M416.8 85.4h1.4M404.6 93.8h1.4M415.4 80.7h1.4M413.2 96.8h1.4M415.4 88.5h1.4M405.2 89.9h1.4M418.9 95.5h1.4M428.8 85.4h1.4M404.4 97.5h1.4M430.2 83.8h1.4M416.6 91.8h1.4M424.3 98.2h1.4M416.0 86.5h1.4M414.7 95.8h1.4M417.2 101.0h1.4M428.7 81.9h1.4M421.4 82.4h1.4M421.9 97.9h1.4M417.8 82.4h1.4M404.5 94.9h1.4M412.4 102.6h1.4M415.8 93.2h1.4M406.1 84.7h1.4M419.7 83.1h1.4M409.2 93.6h1.4M422.8 87.9h1.4M411.3 90.9h1.4M410.2 99.4h1.4M422.4 86.7h1.4M428.1 87.6h1.4M425.5 94.8h1.4M410.5 84.8h1.4M429.0 83.8h1.4M409.8 95.5h1.4M428.2 83.4h1.4M422.1 85.7h1.4M414.8 82.1h1.4M422.6 89.2h1.4M431.7 87.3h1.4M414.1 83.3h1.4M407.2 97.4h1.4M406.1 97.6h1.4M410.8 91.1h1.4M408.3 83.0h1.4M415.6 93.4h1.4M429.0 90.5h1.4M413.4 97.5h1.4M411.9 82.8h1.4M412.9 94.9h1.4M416.2 86.6h1.4M406.5 85.6h1.4M415.5 100.4h1.4M414.5 86.5h1.4M416.5 88.3h1.4M415.8 83.0h1.4M407.1 83.5h1.4M422.5 87.9h1.4M415.1 84.7h1.4M420.7 83.3h1.4M416.0 92.3h1.4M432.7 87.2h1.4M429.3 96.6h1.4M406.8 101.2h1.4M409.1 90.9h1.4M427.5 83.3h1.4M404.2 96.1h1.4M425.0 82.5h1.4M423.3 98.6h1.4M414.4 95.0h1.4M406.4 86.0h1.4M427.4 93.0h1.4M426.6 92.4h1.4M407.8 85.2h1.4M421.3 87.8h1.4M420.2 91.6h1.4M410.1 102.3h1.4M432.3 88.2h1.4M416.5 83.4h1.4M411.9 101.7h1.4M415.7 91.6h1.4M426.5 85.1h1.4M414.7 98.3h1.4M404.3 90.3h1.4M409.0 98.2h1.4M415.3 87.1h1.4M408.6 100.2h1.4M409.6 93.1h1.4M409.6 96.6h1.4M419.3 86.0h1.4M440.8 137.0h1.4M466.7 147.9h1.4M466.2 160.3h1.4M445.0 135.6h1.4M470.0 146.5h1.4M447.7 142.5h1.4M460.7 149.1h1.4M445.9 145.9h1.4M451.0 162.1h1.4M465.0 160.9h1.4M442.6 149.8h1.4M445.0 142.6h1.4M466.4 156.1h1.4M452.1 156.3h1.4M467.1 155.2h1.4M447.8 163.1h1.4M460.0 163.8h1.4M464.2 152.7h1.4M455.7 153.4h1.4M452.4 146.4h1.4M444.6 140.4h1.4M453.1 152.5h1.4M458.8 139.6h1.4M453.4 147.4h1.4M461.5 164.3h1.4M441.7 134.8h1.4M447.0 138.9h1.4M471.3 152.2h1.4M461.6 144.2h1.4M458.2 163.2h1.4M451.8 164.4h1.4M463.5 144.0h1.4M447.7 146.2h1.4M460.7 150.7h1.4M455.6 162.5h1.4M462.5 150.9h1.4M469.7 148.9h1.4M471.0 152.8h1.4M462.6 153.1h1.4M458.5 154.8h1.4M464.9 150.9h1.4M453.7 151.0h1.4M454.8 150.8h1.4M459.0 162.4h1.4M454.6 163.0h1.4M463.9 160.4h1.4M441.5 139.0h1.4M449.3 141.6h1.4M452.8 160.9h1.4M461.8 152.3h1.4M452.2 158.9h1.4M454.7 141.0h1.4M442.4 143.0h1.4M455.0 145.8h1.4M457.8 163.9h1.4M453.0 146.8h1.4M464.5 143.8h1.4M460.6 159.4h1.4M450.2 148.7h1.4M442.9 136.0h1.4M456.7 159.4h1.4M461.6 149.0h1.4M459.6 151.4h1.4M460.7 160.5h1.4M466.0 148.9h1.4M452.7 165.4h1.4M463.3 147.9h1.4M450.5 153.3h1.4M458.9 167.2h1.4M466.9 144.8h1.4M455.8 140.0h1.4M459.2 139.2h1.4M453.6 143.1h1.4M448.1 147.0h1.4M466.6 141.6h1.4M466.6 152.1h1.4M454.7 146.8h1.4M449.6 164.5h1.4M446.3 140.0h1.4M463.6 165.7h1.4M458.9 143.4h1.4M461.7 158.1h1.4M469.1 154.9h1.4M465.8 146.0h1.4M468.9 144.7h1.4M453.4 150.6h1.4M447.9 142.8h1.4M445.3 148.9h1.4M456.4 152.4h1.4M450.7 158.9h1.4M466.3 152.9h1.4M463.2 149.4h1.4M443.2 140.1h1.4M465.2 149.5h1.4M453.9 150.9h1.4M449.3 163.8h1.4M441.1 141.5h1.4M460.4 164.8h1.4M466.6 157.3h1.4M450.0 142.5h1.4M452.4 138.3h1.4M460.7 149.0h1.4M451.9 160.8h1.4M452.5 138.0h1.4M447.7 146.4h1.4M453.3 137.4h1.4M452.4 151.9h1.4M452.3 154.9h1.4M452.1 166.8h1.4M463.3 163.3h1.4M455.6 153.6h1.4M458.6 154.5h1.4M451.1 161.8h1.4M447.7 150.5h1.4M450.5 154.2h1.4M466.7 142.5h1.4M462.4 140.4h1.4M451.5 137.4h1.4M462.6 140.3h1.4M467.2 143.5h1.4M456.8 161.7h1.4M465.3 144.2h1.4M464.3 153.3h1.4M447.8 163.3h1.4M450.0 156.3h1.4M450.4 137.3h1.4M461.4 162.8h1.4M460.6 145.1h1.4M445.6 150.8h1.4M453.1 141.1h1.4M464.3 153.6h1.4M455.1 145.5h1.4M457.6 167.2h1.4M454.6 148.3h1.4M448.3 149.4h1.4M457.1 55.5h1.4M465.3 57.3h1.4M460.3 56.0h1.4M459.2 55.8h1.4M463.0 55.0h1.4M462.2 56.0h1.4M459.8 58.4h1.4M464.9 58.4h1.4M467.0 61.2h1.4M464.9 56.3h1.4M468.4 54.7h1.4M466.7 58.2h1.4M466.2 57.3h1.4M464.3 60.0h1.4M467.8 56.5h1.4M473.6 134.9h1.4M473.5 135.9h1.4M465.9 139.3h1.4M467.2 137.4h1.4M467.7 135.3h1.4M472.8 137.5h1.4M471.3 137.5h1.4M469.0 134.4h1.4M456.0 135.9h1.4M463.4 135.9h1.4M458.9 134.9h1.4M459.5 136.1h1.4M451.7 131.0h1.4M450.1 128.7h1.4M451.7 131.1h1.4M453.1 134.5h1.4M449.5 129.6h1.4M452.8 133.4h1.4M447.4 128.0h1.4M443.6 121.6h1.4M445.0 121.8h1.4M443.5 122.6h1.4M441.6 122.8h1.4M442.7 122.1h1.4M444.5 123.2h1.4M442.8 121.9h1.4M437.5 115.5h1.4M441.1 113.7h1.4M436.1 111.6h1.4M439.9 107.7h1.4M439.2 111.4h1.4M436.1 107.9h1.4M439.1 96.2h1.4M441.9 95.2h1.4M440.9 95.2h1.4M438.2 96.5h1.4M442.4 85.9h1.4M443.2 92.5h1.4M439.7 92.9h1.4M441.5 94.5h1.4M442.4 88.5h1.4M442.7 94.0h1.4M440.4 86.8h1.4M448.2 76.7h1.4M446.1 76.4h1.4M444.9 81.3h1.4M446.6 80.7h1.4M453.1 63.6h1.4M450.0 67.1h1.4M448.8 72.4h1.4M449.8 72.6h1.4M453.1 70.5h1.4M450.6 69.4h1.4M457.7 56.6h1.4M458.2 64.4h1.4M456.7 57.8h1.4M456.2 58.4h1.4M436.6 104.0h1.4M412.3 106.1h1.4M433.7 116.6h1.4M423.4 107.7h1.4M423.0 121.4h1.4M422.0 120.5h1.4M430.7 128.7h1.4M419.9 116.7h1.4M494.9 134.8h1.4M489.2 132.0h1.4M484.6 132.2h1.4M486.3 143.3h1.4M481.7 134.0h1.4" stroke="#3446a8" stroke-width="1.4"/>
<path d="M467.9 60.0h1.4M475.3 124.3h1.4M476.4 126.6h1.4M466.5 80.8h1.4M461.4 91.2h1.4M474.5 129.8h1.4M460.7 133.1h1.4M469.8 111.3h1.4M476.0 117.1h1.4M467.4 130.2h1.4M462.0 121.1h1.4M469.1 63.6h1.4M469.5 133.7h1.4M466.0 58.3h1.4M451.1 84.0h1.4M466.1 96.0h1.4M468.3 97.5h1.4M473.9 125.9h1.4M473.2 113.2h1.4M468.8 99.4h1.4M467.0 80.6h1.4M469.1 126.7h1.4M460.5 108.4h1.4M471.5 102.7h1.4M465.2 61.0h1.4M470.6 134.4h1.4M469.9 104.5h1.4M467.7 116.4h1.4M467.0 70.4h1.4M473.9 121.5h1.4M471.1 119.1h1.4M468.2 129.3h1.4M446.5 86.8h1.4M474.1 110.5h1.4M472.6 71.2h1.4M459.2 99.6h1.4M468.1 68.9h1.4M471.2 82.2h1.4M471.4 80.9h1.4M461.5 101.7h1.4M468.8 96.1h1.4M467.2 82.1h1.4M408.6 88.5h1.4M427.7 83.8h1.4M422.1 94.3h1.4M413.6 98.0h1.4M429.5 87.6h1.4M411.0 87.9h1.4M417.6 81.5h1.4M430.9 85.8h1.4M418.1 95.6h1.4M431.5 93.9h1.4M419.1 83.7h1.4M408.7 84.8h1.4M420.9 97.9h1.4M414.4 89.8h1.4M406.7 87.5h1.4M411.8 98.2h1.4M415.6 81.1h1.4M419.2 81.2h1.4M432.9 94.4h1.4M451.3 155.0h1.4M457.7 162.7h1.4M440.5 139.9h1.4M459.1 167.2h1.4M479.8 139.9h1.4M486.7 141.8h1.4M474.4 139.0h1.4" stroke="#64bac2" stroke-width="1.4"/>
<path d="M479.2 126.7h1.4M471.1 128.6h1.4M475.0 126.5h1.4M478.3 126.3h1.4M466.2 86.9h1.4M477.4 124.1h1.4M473.3 131.5h1.4M471.6 129.6h1.4M477.6 128.1h1.4M466.5 120.6h1.4M466.6 122.2h1.4M468.5 78.4h1.4M451.1 96.4h1.4M466.3 63.2h1.4M468.5 65.8h1.4M473.6 112.8h1.4M466.9 71.5h1.4M468.4 65.9h1.4M470.3 113.3h1.4M413.5 83.9h1.4M405.9 97.4h1.4M404.1 98.6h1.4M408.1 93.1h1.4M417.9 83.0h1.4M411.8 94.5h1.4M420.7 97.6h1.4M447.2 155.1h1.4M445.3 159.2h1.4M461.3 147.2h1.4M457.4 167.0h1.4M469.0 157.3h1.4M451.8 160.0h1.4M460.0 156.5h1.4M457.9 167.6h1.4M426.8 113.7h1.4M488.0 142.1h1.4M470.0 135.3h1.4" stroke="#76cbb7" stroke-width="1.4"/>
<path d="M470.6 118.9h1.4M470.0 67.7h1.4M444.5 64.7h1.4M439.4 73.4h1.4M433.8 71.0h1.4M415.6 83.7h1.4M422.8 93.5h1.4M427.8 82.7h1.4M423.2 86.8h1.4M405.3 101.7h1.4M412.4 92.7h1.4M418.9 92.8h1.4M422.9 90.3h1.4M415.0 91.4h1.4M419.1 90.2h1.4M407.7 84.7h1.4M412.8 87.2h1.4M417.3 82.1h1.4M409.9 102.7h1.4M405.9 92.2h1.4M426.1 94.8h1.4M430.1 95.6h1.4M417.9 94.7h1.4M426.9 87.8h1.4M415.9 83.1h1.4M422.6 99.3h1.4M415.0 87.2h1.4M404.8 88.4h1.4M433.9 87.9h1.4M407.5 104.8h1.4M412.2 102.4h1.4M462.8 140.3h1.4M444.2 137.9h1.4M469.6 158.5h1.4M449.3 137.8h1.4M459.5 139.4h1.4M455.5 162.8h1.4M459.8 166.5h1.4M470.4 158.2h1.4M461.8 167.1h1.4M454.1 165.2h1.4M461.2 148.7h1.4M449.8 162.0h1.4M446.7 141.9h1.4M466.4 160.3h1.4M453.5 159.3h1.4M465.9 140.2h1.4M448.5 156.5h1.4M462.0 157.7h1.4M452.7 152.6h1.4M463.3 158.2h1.4M450.0 164.2h1.4M458.4 165.2h1.4M466.6 164.4h1.4M448.9 159.5h1.4M461.6 142.6h1.4M458.2 162.2h1.4M446.7 155.0h1.4M438.0 96.3h1.4M426.9 137.4h1.4M429.0 135.3h1.4M439.4 107.8h1.4" stroke="#3030a0" stroke-width="1.4"/>
<path d="M476.8 118.6h1.4" stroke="#b0d461" stroke-width="1.4"/>
<path d="M534.7 96.7h1.25M504.9 82.1h1.25M518.7 80.4h1.25M506.3 101.9h1.25M526.2 105.6h1.25M520.1 103.5h1.25M492.3 102.1h1.25M513.4 64.8h1.25M486.1 115.8h1.25M495.9 119.1h1.25M501.8 119.3h1.25M516.7 99.7h1.25M490.7 108.8h1.25M497.0 98.4h1.25M514.6 83.9h1.25M524.9 99.1h1.25M524.1 88.2h1.25M490.0 53.2h1.25M501.1 105.1h1.25M516.2 71.9h1.25M523.7 106.2h1.25M495.1 111.7h1.25M525.4 105.6h1.25M502.9 64.6h1.25M517.0 76.7h1.25M495.3 100.3h1.25M517.1 93.3h1.25M471.4 93.8h1.25M502.8 103.1h1.25M508.3 111.4h1.25M493.4 98.4h1.25M491.8 80.7h1.25M511.8 120.3h1.25M526.6 109.9h1.25M517.7 114.3h1.25M515.0 100.9h1.25M488.8 122.2h1.25M502.7 119.7h1.25M528.7 100.5h1.25M525.4 98.2h1.25M519.2 96.5h1.25M497.0 76.2h1.25M488.6 128.1h1.25M532.9 107.4h1.25M523.9 100.3h1.25M491.7 118.7h1.25M500.6 74.7h1.25M522.5 75.5h1.25M513.6 73.9h1.25M526.4 102.1h1.25M520.0 99.4h1.25M484.1 57.8h1.25M518.4 92.7h1.25M496.0 107.1h1.25M501.7 106.7h1.25M501.0 59.7h1.25M500.1 96.5h1.25M508.6 93.6h1.25M510.6 107.9h1.25M535.8 92.3h1.25M519.1 115.7h1.25M520.5 115.5h1.25M490.5 91.6h1.25M516.4 74.7h1.25M497.1 108.5h1.25M521.7 110.7h1.25M537.8 107.0h1.25M518.6 102.7h1.25M502.3 114.5h1.25M530.4 91.8h1.25M491.1 109.7h1.25M485.1 88.5h1.25M491.7 125.8h1.25M486.2 56.3h1.25M491.0 118.9h1.25M495.0 103.5h1.25M508.1 84.1h1.25M513.8 91.7h1.25M491.6 92.5h1.25M491.4 112.1h1.25M487.7 103.0h1.25M537.3 101.3h1.25M532.6 90.0h1.25M509.5 98.3h1.25M507.7 67.7h1.25M522.5 98.9h1.25M531.3 110.0h1.25M501.8 104.0h1.25M503.9 99.2h1.25M530.3 103.7h1.25M480.8 51.6h1.25M510.1 86.8h1.25M499.2 101.8h1.25M511.8 98.0h1.25M499.2 82.1h1.25M523.6 94.5h1.25M492.3 59.4h1.25M485.6 102.6h1.25M485.0 78.2h1.25M495.7 106.8h1.25M499.3 96.4h1.25M485.5 101.0h1.25M497.6 108.7h1.25M483.4 120.8h1.25M508.1 112.0h1.25M497.2 74.9h1.25M492.6 116.9h1.25M504.2 104.4h1.25M495.5 122.8h1.25M525.3 104.2h1.25M531.7 106.4h1.25M531.0 107.6h1.25M518.9 114.2h1.25M495.9 123.1h1.25M514.5 87.0h1.25M491.4 113.0h1.25M510.7 106.7h1.25M497.3 87.8h1.25M512.0 103.7h1.25M484.0 100.1h1.25M487.6 68.8h1.25M476.2 54.6h1.25M473.4 98.1h1.25M470.4 94.0h1.25M500.2 60.3h1.25M498.8 89.6h1.25M528.6 98.3h1.25M534.8 92.0h1.25M499.4 95.6h1.25M499.2 100.7h1.25M506.1 103.4h1.25M488.8 122.9h1.25M496.0 54.9h1.25M501.0 122.2h1.25M510.9 108.4h1.25M511.6 106.1h1.25M506.2 107.2h1.25M528.8 92.9h1.25M515.0 69.1h1.25M492.5 100.3h1.25M504.0 122.6h1.25M501.9 88.0h1.25M528.4 98.1h1.25M509.2 65.0h1.25M529.8 103.5h1.25M494.6 111.7h1.25M507.1 93.3h1.25M507.9 100.1h1.25M518.3 78.7h1.25M522.8 89.0h1.25M538.6 103.6h1.25M533.3 91.3h1.25M534.2 98.1h1.25M528.1 94.8h1.25M529.0 88.3h1.25M531.2 110.4h1.25M509.8 120.1h1.25M495.7 69.2h1.25M499.0 115.9h1.25M518.6 111.7h1.25M525.3 108.9h1.25M520.3 105.7h1.25M493.8 114.3h1.25M528.6 110.2h1.25M488.4 62.6h1.25M522.9 98.4h1.25M491.9 75.3h1.25M500.1 107.4h1.25M529.7 96.0h1.25M504.0 89.4h1.25M513.6 118.1h1.25M501.7 65.2h1.25M505.2 110.0h1.25M503.6 106.3h1.25M486.9 128.7h1.25M491.9 91.3h1.25M510.2 94.9h1.25M489.1 128.0h1.25M504.7 107.1h1.25M515.7 81.7h1.25M506.9 99.4h1.25M522.7 106.8h1.25M498.3 113.8h1.25M515.0 101.5h1.25M484.2 106.6h1.25M518.3 105.5h1.25" stroke="#e86428" stroke-width="1.25"/>
<path d="M474.9 74.1h1.25M487.1 57.9h1.25M503.5 100.4h1.25M512.6 71.3h1.25M490.1 72.0h1.25M488.8 86.3h1.25M495.7 112.0h1.25M507.5 62.5h1.25M530.3 102.7h1.25M488.9 113.2h1.25M496.2 81.1h1.25M499.6 94.8h1.25M489.8 99.5h1.25M525.0 75.2h1.25M524.6 113.1h1.25M500.8 60.9h1.25M534.8 96.7h1.25M478.7 74.1h1.25M478.2 119.4h1.25M476.1 93.5h1.25M485.1 112.5h1.25M479.1 74.2h1.25M486.0 126.8h1.25M504.7 62.1h1.25M491.0 95.5h1.25M498.9 90.0h1.25M530.4 101.0h1.25M503.6 77.8h1.25M487.5 55.7h1.25M481.0 90.8h1.25M475.1 111.0h1.25M472.0 85.1h1.25M484.4 114.5h1.25M500.2 76.1h1.25M486.9 117.1h1.25M508.9 85.6h1.25M510.6 81.8h1.25M482.0 128.6h1.25M491.6 122.3h1.25M537.5 103.3h1.25M510.8 87.1h1.25M522.5 79.5h1.25M504.6 84.5h1.25M478.7 107.7h1.25M478.0 67.5h1.25M507.3 84.6h1.25M504.3 94.9h1.25M487.5 95.5h1.25M484.4 57.0h1.25M480.5 127.2h1.25M484.2 85.2h1.25M515.2 80.1h1.25M501.6 105.3h1.25M497.6 75.2h1.25M484.6 111.1h1.25M476.0 110.1h1.25M484.5 109.5h1.25M519.3 87.3h1.25M482.3 54.6h1.25M499.1 62.8h1.25M519.2 70.5h1.25M531.8 106.6h1.25M502.1 100.2h1.25M494.5 58.6h1.25M483.0 53.6h1.25M521.3 85.4h1.25M478.9 110.3h1.25M519.2 92.7h1.25M497.6 66.1h1.25M495.9 105.4h1.25M502.6 60.4h1.25M505.5 62.7h1.25M489.4 82.1h1.25M531.4 84.6h1.25M495.9 101.4h1.25M492.3 109.3h1.25M488.8 58.3h1.25M490.9 75.4h1.25M502.5 84.9h1.25M477.3 84.0h1.25M475.0 96.8h1.25M487.3 94.2h1.25M520.5 81.1h1.25M482.6 112.1h1.25M494.5 56.8h1.25M490.8 68.9h1.25M512.0 62.6h1.25M486.0 80.2h1.25M502.1 125.9h1.25M479.2 92.7h1.25M491.6 65.5h1.25M491.5 58.0h1.25M495.9 57.0h1.25M500.2 82.6h1.25M476.5 60.8h1.25M497.3 56.2h1.25M493.5 116.8h1.25M515.5 84.7h1.25M500.8 87.6h1.25M476.6 68.0h1.25M504.3 87.8h1.25M476.1 80.2h1.25M520.5 74.0h1.25M514.0 88.7h1.25M484.6 74.8h1.25M487.7 110.0h1.25M486.8 76.6h1.25M482.5 52.5h1.25M478.7 103.3h1.25M478.6 68.7h1.25M480.4 86.1h1.25M521.7 87.0h1.25M506.6 96.8h1.25M483.8 76.2h1.25M531.1 109.8h1.25M532.8 89.8h1.25M501.6 124.5h1.25M508.3 63.0h1.25M508.4 89.8h1.25M477.3 56.4h1.25M503.3 90.7h1.25M483.4 114.8h1.25M514.6 82.3h1.25M501.1 59.7h1.25M484.7 93.6h1.25M487.5 127.1h1.25M486.6 129.7h1.25M478.7 91.5h1.25M474.4 57.2h1.25M491.3 126.8h1.25M481.9 108.8h1.25M483.0 125.7h1.25M504.6 100.0h1.25M500.1 98.6h1.25M490.9 127.3h1.25M481.7 81.9h1.25M520.5 77.9h1.25M524.3 102.4h1.25M488.0 94.6h1.25M485.7 76.3h1.25M533.9 99.7h1.25M496.1 88.5h1.25M484.0 81.9h1.25M527.8 102.1h1.25M530.7 108.8h1.25M491.2 98.2h1.25M480.9 122.3h1.25M487.0 127.1h1.25M477.7 89.2h1.25M492.4 112.7h1.25M525.1 86.7h1.25M479.8 118.2h1.25M503.3 76.3h1.25M523.9 104.4h1.25M514.5 69.4h1.25M499.0 89.8h1.25M532.7 88.2h1.25M505.1 96.3h1.25M489.2 74.7h1.25M490.9 88.9h1.25M471.0 58.2h1.25M474.3 86.1h1.25M494.6 84.7h1.25M516.5 98.4h1.25M486.2 105.6h1.25M510.0 84.6h1.25M502.0 94.8h1.25M497.5 77.3h1.25M514.2 80.1h1.25M486.8 74.1h1.25M505.9 91.9h1.25M529.1 101.3h1.25M497.7 125.0h1.25M509.4 88.1h1.25M520.6 85.7h1.25M518.3 69.9h1.25M510.9 75.6h1.25M487.4 72.8h1.25M487.5 66.3h1.25M538.2 105.6h1.25M506.7 83.1h1.25M479.3 80.1h1.25M482.8 108.9h1.25M494.4 122.4h1.25M496.1 116.6h1.25M521.8 75.2h1.25M481.2 111.6h1.25M528.6 105.1h1.25M484.4 103.8h1.25M505.0 100.5h1.25M486.2 121.2h1.25M490.2 109.2h1.25M505.0 95.3h1.25M499.4 110.5h1.25M520.1 109.1h1.25M512.2 98.5h1.25M475.7 72.6h1.25M477.5 85.6h1.25M473.5 63.2h1.25M475.3 58.4h1.25M481.1 127.5h1.25M480.1 70.0h1.25M474.9 97.3h1.25M476.5 94.7h1.25M478.3 69.0h1.25M483.2 97.0h1.25M476.0 84.6h1.25M474.5 69.5h1.25M486.2 70.7h1.25M481.0 55.5h1.25M487.3 123.7h1.25M474.2 80.3h1.25M484.3 111.4h1.25M485.0 89.4h1.25M482.1 83.6h1.25M476.1 105.0h1.25M484.3 87.2h1.25M481.7 72.6h1.25M472.9 81.1h1.25M484.0 56.9h1.25M474.5 57.8h1.25M480.2 78.0h1.25M481.7 105.4h1.25M475.5 112.3h1.25M477.6 81.3h1.25" stroke="#d8e050" stroke-width="1.25"/>
<path d="M526.6 96.7h1.25M525.6 89.0h1.25M529.1 92.1h1.25M495.1 97.7h1.25M502.6 65.9h1.25M503.7 58.4h1.25M515.7 92.8h1.25M504.1 122.1h1.25M530.3 89.9h1.25M490.7 80.1h1.25M503.5 90.7h1.25M528.2 106.8h1.25M502.3 61.0h1.25M518.6 104.0h1.25M524.5 85.5h1.25M517.4 75.9h1.25M536.1 101.8h1.25M498.1 114.1h1.25M500.7 105.9h1.25M484.3 88.7h1.25M505.6 96.8h1.25M503.3 75.5h1.25M485.3 119.5h1.25M484.1 123.0h1.25M537.6 100.1h1.25M518.4 97.8h1.25M493.3 55.8h1.25M495.1 108.1h1.25M535.5 106.1h1.25M488.0 105.8h1.25M505.6 89.9h1.25M512.6 85.4h1.25M506.4 73.8h1.25M529.0 109.8h1.25M532.1 84.0h1.25M521.1 114.6h1.25M524.6 108.0h1.25M491.0 89.6h1.25M500.8 115.4h1.25M510.7 90.1h1.25M514.2 66.8h1.25M535.0 89.3h1.25M522.3 86.9h1.25M491.0 108.3h1.25M503.3 115.5h1.25M509.8 101.8h1.25M529.7 84.4h1.25M485.4 69.0h1.25M492.9 110.1h1.25M517.1 80.9h1.25M497.8 124.6h1.25M496.0 96.9h1.25M505.1 87.7h1.25M518.3 110.8h1.25M484.9 106.6h1.25M515.8 81.3h1.25M519.9 109.7h1.25M518.9 98.7h1.25M518.9 80.8h1.25M478.5 111.1h1.25M510.1 106.4h1.25M515.7 116.5h1.25M488.9 120.4h1.25M499.7 65.1h1.25M487.2 112.2h1.25M515.5 65.7h1.25M487.4 121.1h1.25M527.5 111.9h1.25M502.1 121.7h1.25M507.7 92.6h1.25M515.1 100.1h1.25M528.3 81.9h1.25M482.3 96.1h1.25M526.7 100.6h1.25M487.9 113.7h1.25M505.0 124.1h1.25M487.8 89.6h1.25M504.5 70.1h1.25M489.6 119.6h1.25M509.4 101.0h1.25M496.0 121.0h1.25M473.7 60.2h1.25M493.5 108.0h1.25M502.7 124.3h1.25M488.0 77.4h1.25M485.9 110.2h1.25M471.6 99.5h1.25M488.3 64.8h1.25M477.8 53.5h1.25M486.6 109.5h1.25M479.0 120.3h1.25M500.4 91.4h1.25M490.6 77.9h1.25M530.2 89.9h1.25M485.6 101.1h1.25M523.7 98.1h1.25M508.9 80.8h1.25M484.7 95.5h1.25M497.9 117.9h1.25M482.9 121.6h1.25M517.2 74.6h1.25M502.7 105.8h1.25M512.3 112.3h1.25M499.2 63.6h1.25M510.8 101.6h1.25M504.1 69.3h1.25M504.7 59.4h1.25M495.9 120.2h1.25M490.7 120.3h1.25M502.7 119.4h1.25M524.7 107.7h1.25M506.9 114.8h1.25M522.3 112.2h1.25M519.8 88.9h1.25M505.0 82.4h1.25M496.5 71.7h1.25M512.6 93.1h1.25M511.8 111.6h1.25M491.2 97.8h1.25M532.1 107.8h1.25M492.7 126.4h1.25M527.9 112.8h1.25M475.6 99.0h1.25M502.2 122.9h1.25M492.3 101.4h1.25M492.3 111.3h1.25M501.8 81.9h1.25M485.8 86.2h1.25M502.9 89.0h1.25M491.3 97.1h1.25M517.8 97.1h1.25M497.5 107.6h1.25M490.8 103.0h1.25M504.3 112.5h1.25M499.1 103.4h1.25M488.9 114.4h1.25M520.4 113.7h1.25M520.5 108.8h1.25M516.4 93.9h1.25M499.0 122.3h1.25M526.0 113.6h1.25M491.7 77.6h1.25M499.2 116.9h1.25M492.0 88.1h1.25M486.1 84.7h1.25M518.3 86.0h1.25M514.7 105.4h1.25M503.8 105.2h1.25M485.4 66.0h1.25M504.0 90.7h1.25M495.4 91.9h1.25M487.5 115.7h1.25M526.5 111.1h1.25M525.2 82.4h1.25M515.5 115.3h1.25M487.2 60.5h1.25M496.3 57.3h1.25M487.2 71.7h1.25M498.2 94.1h1.25M513.0 85.9h1.25M505.7 71.3h1.25M528.1 83.0h1.25M510.9 85.7h1.25M524.6 93.0h1.25M534.8 91.0h1.25M485.7 124.6h1.25M507.6 77.3h1.25M499.2 104.9h1.25M534.3 87.2h1.25M500.1 112.7h1.25M535.2 106.5h1.25M515.6 85.9h1.25M486.6 56.7h1.25M493.8 80.2h1.25M492.1 103.8h1.25M514.5 112.5h1.25M484.4 128.6h1.25M486.7 122.7h1.25M499.7 108.5h1.25M491.3 126.2h1.25M500.0 74.9h1.25M530.1 93.0h1.25M508.6 85.1h1.25M490.5 65.2h1.25M533.8 102.2h1.25M487.4 79.0h1.25M505.3 97.2h1.25M535.9 98.6h1.25M503.6 124.3h1.25M488.2 112.7h1.25M519.0 87.9h1.25M530.5 108.4h1.25M490.6 102.7h1.25M504.6 110.9h1.25M501.6 118.8h1.25M505.8 99.8h1.25M504.6 103.9h1.25M497.2 120.3h1.25M507.8 116.8h1.25M498.7 115.5h1.25M498.7 109.0h1.25M512.6 91.1h1.25M498.7 124.0h1.25" stroke="#f08830" stroke-width="1.25"/>
<path d="M523.5 111.5h1.25M480.2 115.3h1.25M509.0 96.2h1.25M495.0 95.6h1.25M490.0 101.7h1.25M476.2 100.3h1.25M476.6 108.8h1.25M481.4 64.9h1.25M506.4 61.3h1.25M517.8 88.8h1.25M478.7 58.7h1.25M482.8 99.1h1.25M498.5 94.4h1.25M493.4 106.0h1.25M500.6 90.0h1.25M507.5 75.2h1.25M502.7 89.4h1.25M514.9 76.7h1.25M491.9 78.1h1.25M510.4 72.4h1.25M500.0 93.9h1.25M496.9 123.7h1.25M489.6 105.0h1.25M478.4 57.9h1.25M499.5 58.0h1.25M490.4 82.8h1.25M472.6 62.8h1.25M500.3 83.8h1.25M502.2 83.2h1.25M488.9 105.2h1.25M481.3 75.5h1.25M474.0 75.5h1.25M511.7 77.1h1.25M498.0 83.1h1.25M477.4 96.3h1.25M521.3 73.6h1.25M523.7 112.2h1.25M538.3 106.5h1.25M486.0 100.1h1.25M522.7 81.9h1.25M506.7 99.5h1.25M470.8 94.9h1.25M471.3 98.7h1.25M485.2 107.5h1.25M488.6 97.3h1.25M474.8 70.2h1.25M527.1 81.4h1.25M475.3 56.6h1.25M499.4 63.0h1.25M502.5 75.6h1.25M480.4 101.0h1.25M511.8 81.1h1.25M486.7 128.9h1.25M517.8 80.6h1.25M488.5 89.2h1.25M497.7 95.2h1.25M497.9 98.3h1.25M512.5 85.3h1.25M489.9 128.5h1.25M475.8 72.2h1.25M484.1 62.0h1.25M490.9 82.2h1.25M477.8 118.7h1.25M481.1 116.0h1.25M527.7 85.4h1.25M481.0 54.0h1.25M475.3 56.6h1.25M502.8 92.7h1.25M499.0 71.6h1.25M480.8 93.6h1.25M510.6 75.0h1.25M480.4 109.3h1.25M480.5 109.7h1.25M476.6 94.3h1.25M482.8 98.0h1.25M527.8 107.3h1.25M492.5 101.7h1.25M474.5 95.0h1.25M517.9 87.2h1.25M480.6 63.0h1.25M519.8 74.2h1.25M482.5 121.3h1.25M475.5 58.0h1.25M492.3 96.5h1.25M511.6 79.6h1.25M489.1 70.7h1.25M487.5 116.4h1.25M482.5 102.7h1.25M482.2 62.4h1.25M492.2 107.7h1.25M481.6 119.0h1.25M482.8 73.6h1.25M494.4 87.9h1.25M492.6 69.2h1.25M488.9 72.6h1.25M491.8 108.5h1.25M528.2 80.5h1.25M476.9 116.3h1.25M473.5 87.9h1.25M507.6 79.7h1.25M507.9 84.0h1.25M488.2 77.3h1.25M508.4 74.4h1.25M503.1 88.2h1.25M473.0 64.9h1.25M474.9 83.9h1.25M532.7 98.1h1.25M474.4 106.5h1.25M497.9 68.9h1.25M476.9 58.0h1.25M522.7 76.8h1.25M482.7 116.5h1.25M474.7 60.3h1.25M478.8 113.3h1.25M491.0 95.1h1.25M526.2 82.9h1.25M516.4 91.8h1.25M481.1 108.0h1.25M490.3 53.9h1.25M489.7 54.7h1.25M485.8 110.9h1.25M490.2 60.9h1.25M522.5 81.8h1.25M513.6 89.4h1.25M492.5 64.3h1.25M484.3 59.9h1.25M476.0 59.5h1.25M509.7 85.2h1.25M479.3 93.1h1.25M492.1 68.2h1.25M502.9 82.7h1.25M525.8 85.0h1.25M512.4 118.4h1.25M475.6 58.5h1.25M479.7 80.2h1.25M498.5 61.5h1.25M488.3 81.4h1.25M500.8 86.9h1.25M471.6 62.6h1.25M482.1 108.5h1.25M483.3 101.2h1.25M479.2 82.7h1.25M479.7 89.0h1.25M481.9 69.0h1.25M501.1 94.8h1.25M505.0 94.9h1.25M498.6 88.5h1.25M487.1 106.6h1.25M523.9 90.3h1.25M505.3 92.3h1.25M480.5 97.0h1.25M485.3 119.8h1.25M484.1 90.5h1.25M481.2 64.4h1.25M480.9 57.9h1.25M484.8 128.5h1.25M478.3 60.4h1.25M486.5 79.9h1.25M481.0 113.6h1.25M482.4 116.9h1.25M480.9 81.3h1.25M476.2 103.5h1.25M480.7 59.1h1.25M476.8 53.4h1.25M471.5 95.7h1.25M486.1 75.6h1.25M483.1 73.5h1.25M481.7 74.4h1.25M476.1 103.1h1.25M478.6 69.4h1.25M483.5 117.1h1.25M472.4 67.8h1.25M482.2 77.7h1.25M479.7 115.8h1.25M488.1 122.6h1.25M480.0 78.6h1.25M479.2 80.1h1.25M479.9 78.4h1.25M476.9 108.7h1.25M471.8 101.8h1.25M480.3 86.4h1.25M472.9 59.3h1.25M477.0 79.8h1.25M485.1 93.5h1.25M481.0 66.7h1.25M485.8 71.1h1.25M472.1 102.0h1.25M477.7 73.5h1.25M483.7 65.5h1.25M479.4 106.1h1.25M479.0 117.4h1.25M474.4 71.3h1.25M479.9 77.6h1.25M481.5 65.8h1.25M481.1 84.6h1.25M471.9 102.6h1.25" stroke="#94d07f" stroke-width="1.25"/>
<path d="M501.8 87.5h1.25M493.3 101.3h1.25M525.0 77.0h1.25M535.2 92.4h1.25M514.4 66.4h1.25M503.0 98.5h1.25M509.1 67.6h1.25M492.4 124.9h1.25M494.4 100.8h1.25M536.9 99.8h1.25M492.0 121.3h1.25M501.3 117.1h1.25M505.9 61.9h1.25M489.0 92.9h1.25M493.1 95.6h1.25M525.4 102.4h1.25M507.2 67.2h1.25M534.9 105.8h1.25M525.1 93.3h1.25M521.9 111.0h1.25M496.3 107.3h1.25M483.9 60.7h1.25M530.9 92.4h1.25M528.6 86.3h1.25M510.9 85.8h1.25M479.8 82.7h1.25M487.3 90.5h1.25M516.0 89.9h1.25M491.0 107.3h1.25M503.0 119.3h1.25M509.3 100.9h1.25M527.3 106.7h1.25M490.1 71.5h1.25M495.6 105.6h1.25M492.4 106.3h1.25M489.5 121.1h1.25M506.5 96.4h1.25M492.5 109.4h1.25M502.2 68.5h1.25M513.3 71.8h1.25M484.4 102.7h1.25M519.7 93.0h1.25M479.0 74.0h1.25M478.8 66.5h1.25M499.9 100.2h1.25M477.2 99.6h1.25M529.0 85.8h1.25M520.4 110.0h1.25M531.8 88.8h1.25M536.2 98.9h1.25M516.7 78.9h1.25M489.4 124.7h1.25M499.2 108.8h1.25M483.8 123.6h1.25M512.8 84.1h1.25M507.2 114.0h1.25M517.9 89.8h1.25M485.1 74.7h1.25M532.7 92.2h1.25M533.0 109.6h1.25M513.6 83.0h1.25M495.2 94.3h1.25M525.5 90.9h1.25M499.2 94.7h1.25M484.6 88.4h1.25M483.9 108.5h1.25M488.7 114.1h1.25M487.2 116.8h1.25M482.5 65.3h1.25M525.2 77.3h1.25M510.8 81.2h1.25M490.6 107.8h1.25M501.5 101.3h1.25M503.6 99.9h1.25M532.1 84.4h1.25M508.8 120.8h1.25M504.9 91.3h1.25M503.1 75.0h1.25M506.6 71.8h1.25M491.1 85.1h1.25M514.3 84.5h1.25M507.7 96.0h1.25M521.6 94.5h1.25M494.9 83.3h1.25M527.9 96.4h1.25M495.5 66.0h1.25M485.7 110.6h1.25M494.2 103.2h1.25M489.2 81.4h1.25M509.8 96.2h1.25M505.1 124.1h1.25M506.0 96.8h1.25M526.6 109.5h1.25M488.5 109.1h1.25M498.4 96.5h1.25M515.6 88.4h1.25M509.0 89.4h1.25M492.9 55.3h1.25M480.0 63.7h1.25M494.3 77.9h1.25M509.3 87.7h1.25M507.3 67.4h1.25M506.9 81.3h1.25M511.0 66.3h1.25M528.1 109.5h1.25M513.4 63.8h1.25M480.7 119.1h1.25M524.1 114.0h1.25M524.5 92.6h1.25M478.1 83.5h1.25M496.4 86.4h1.25M473.0 80.8h1.25M522.6 93.8h1.25M507.0 82.4h1.25M520.6 107.9h1.25M492.9 96.3h1.25M508.5 77.7h1.25M521.4 93.5h1.25M527.5 80.4h1.25M478.1 116.7h1.25M506.7 95.3h1.25M518.4 77.5h1.25M505.2 73.4h1.25M495.0 105.3h1.25M528.4 86.7h1.25M486.3 116.5h1.25M488.4 86.6h1.25M489.1 61.9h1.25M507.2 116.8h1.25M476.6 80.1h1.25M483.9 71.9h1.25M517.0 83.3h1.25M518.5 74.6h1.25M517.9 100.4h1.25M509.3 70.3h1.25M527.4 92.1h1.25M487.4 128.3h1.25M519.5 86.1h1.25M493.9 81.1h1.25M512.0 83.6h1.25M485.6 85.8h1.25M502.3 121.5h1.25M487.8 95.4h1.25M512.5 99.7h1.25M483.8 120.0h1.25M526.0 97.6h1.25M487.3 98.6h1.25M510.7 77.0h1.25M491.6 104.6h1.25M489.3 73.8h1.25M523.7 109.3h1.25M498.2 94.9h1.25M499.0 57.8h1.25M506.1 83.2h1.25M508.7 62.9h1.25M528.7 113.0h1.25M512.5 116.8h1.25M498.3 64.7h1.25M535.2 104.8h1.25M483.3 92.3h1.25M510.1 90.2h1.25M494.5 87.2h1.25M525.8 80.4h1.25M472.2 66.8h1.25M520.7 82.0h1.25M518.8 70.1h1.25M523.2 73.1h1.25M493.7 71.4h1.25M533.6 102.0h1.25M519.0 87.8h1.25M525.9 101.0h1.25M473.1 88.6h1.25M489.6 122.4h1.25M479.4 71.2h1.25M484.7 108.4h1.25M475.4 72.2h1.25M521.5 95.3h1.25M491.5 84.5h1.25M521.1 115.2h1.25M503.3 72.5h1.25M503.5 84.3h1.25M501.7 107.3h1.25M484.2 65.1h1.25M490.4 126.4h1.25M495.9 96.1h1.25M519.9 88.9h1.25M504.1 80.8h1.25M491.3 119.4h1.25M493.5 69.4h1.25M473.5 58.1h1.25M478.2 80.1h1.25M502.5 59.4h1.25M500.2 82.7h1.25M513.1 95.5h1.25M488.1 123.0h1.25M509.5 73.0h1.25M473.1 93.9h1.25M476.9 64.5h1.25M497.5 101.6h1.25M510.3 106.8h1.25M507.0 99.3h1.25M502.1 98.4h1.25M495.5 103.8h1.25M487.1 103.1h1.25M518.0 96.3h1.25M523.6 103.1h1.25M499.0 104.4h1.25M506.8 94.6h1.25M519.3 88.2h1.25M497.9 105.2h1.25M504.2 98.3h1.25M488.2 105.4h1.25M530.4 94.7h1.25M517.1 107.3h1.25" stroke="#f6bd36" stroke-width="1.25"/>
<path d="M503.1 78.9h1.25M488.6 69.4h1.25M498.5 95.6h1.25M488.6 108.0h1.25M486.1 62.5h1.25M500.4 66.0h1.25M487.5 127.9h1.25M494.6 61.6h1.25M516.7 84.5h1.25M480.0 54.0h1.25M506.3 71.2h1.25M479.5 94.0h1.25M479.9 125.6h1.25M485.9 69.1h1.25M527.6 87.6h1.25M486.4 97.9h1.25M513.5 118.3h1.25M510.1 75.6h1.25M499.6 64.8h1.25M502.6 109.5h1.25M477.6 64.5h1.25M488.4 58.3h1.25M482.3 57.6h1.25M476.6 109.9h1.25M489.1 106.6h1.25M481.8 71.4h1.25M482.8 81.2h1.25M481.2 72.4h1.25M517.6 74.7h1.25M478.9 56.7h1.25M502.0 120.0h1.25M493.3 90.9h1.25M484.0 83.6h1.25M478.1 107.9h1.25M481.2 113.2h1.25M481.4 62.7h1.25M526.3 77.9h1.25M489.3 92.9h1.25M476.1 75.1h1.25M487.0 95.1h1.25M528.4 81.0h1.25M504.6 87.8h1.25M526.7 105.5h1.25M497.9 75.9h1.25M486.7 93.9h1.25M502.2 87.0h1.25M509.3 66.1h1.25M533.5 108.6h1.25M524.0 78.2h1.25M495.5 100.2h1.25M505.0 60.7h1.25M487.8 88.8h1.25M479.9 126.4h1.25M511.6 64.9h1.25M494.9 60.8h1.25M487.6 81.2h1.25M497.0 78.2h1.25M531.4 92.6h1.25M504.8 124.8h1.25M530.5 101.5h1.25M476.9 115.5h1.25M495.4 118.5h1.25M480.1 120.1h1.25M476.6 68.0h1.25M477.7 64.6h1.25M509.0 81.5h1.25M512.5 82.1h1.25M476.9 109.6h1.25M524.6 78.4h1.25M492.3 97.0h1.25M490.2 99.3h1.25M473.8 59.2h1.25M500.8 91.6h1.25M479.8 76.7h1.25M478.5 93.7h1.25M498.3 86.7h1.25M492.0 118.2h1.25M486.0 73.9h1.25M504.5 82.1h1.25M500.2 74.1h1.25M495.7 102.8h1.25M506.3 66.9h1.25M505.5 85.8h1.25M499.9 72.5h1.25M493.9 67.1h1.25M522.2 84.1h1.25M523.5 79.7h1.25M488.1 116.9h1.25M485.2 80.3h1.25M483.9 103.9h1.25M503.8 73.0h1.25M504.1 96.7h1.25M525.9 82.7h1.25M508.6 75.5h1.25M505.2 88.7h1.25M493.8 58.1h1.25M518.0 83.9h1.25M513.5 82.3h1.25M477.4 68.8h1.25M514.8 81.9h1.25M496.4 95.8h1.25M479.7 59.2h1.25M481.7 52.0h1.25M492.2 93.1h1.25M483.6 62.0h1.25M491.3 63.2h1.25M497.4 76.7h1.25M480.5 120.6h1.25M526.9 79.5h1.25M493.1 90.7h1.25M489.3 103.1h1.25M486.7 83.1h1.25M504.8 87.7h1.25M489.3 95.3h1.25M478.2 63.5h1.25M504.0 78.0h1.25M503.6 72.2h1.25M510.5 72.7h1.25M501.4 74.0h1.25M482.1 94.6h1.25M483.4 107.8h1.25M472.5 97.4h1.25M487.4 65.4h1.25M527.3 90.8h1.25M491.9 75.6h1.25M487.2 119.4h1.25M492.5 83.5h1.25M492.7 106.0h1.25M528.2 86.3h1.25M483.5 74.2h1.25M486.6 54.5h1.25M522.9 87.5h1.25M487.8 75.8h1.25M478.2 108.8h1.25M490.0 96.7h1.25M510.5 86.1h1.25M482.8 111.8h1.25M491.3 76.6h1.25M484.5 110.0h1.25M489.0 84.6h1.25M497.6 111.9h1.25M512.4 90.8h1.25M471.6 88.1h1.25M518.8 73.2h1.25M493.5 122.3h1.25M478.7 120.9h1.25M505.7 62.9h1.25M476.1 109.1h1.25M481.5 60.2h1.25M485.5 73.1h1.25M493.1 97.8h1.25M527.3 78.3h1.25M477.4 116.2h1.25M485.9 110.9h1.25M496.3 71.0h1.25M485.8 103.8h1.25M515.0 80.8h1.25M501.5 97.7h1.25M535.4 96.8h1.25M483.7 66.4h1.25M476.2 54.3h1.25M476.8 102.4h1.25M515.0 83.1h1.25M507.8 78.8h1.25M499.2 95.6h1.25M500.6 59.3h1.25M485.3 67.0h1.25M503.7 101.0h1.25M473.1 93.2h1.25M494.2 99.7h1.25M496.4 110.6h1.25M518.3 84.8h1.25M492.0 120.7h1.25M494.8 97.6h1.25M486.0 102.4h1.25M508.6 85.1h1.25M510.2 100.5h1.25M496.9 93.8h1.25M477.5 55.2h1.25M484.0 109.0h1.25M479.0 98.2h1.25M480.5 112.2h1.25M482.7 67.0h1.25M476.9 61.7h1.25M488.1 125.6h1.25M479.8 67.2h1.25M484.1 56.0h1.25M484.9 60.8h1.25M478.2 62.8h1.25M471.9 85.1h1.25M476.6 77.6h1.25M480.0 113.0h1.25M477.8 61.8h1.25M484.5 103.6h1.25M478.3 53.7h1.25M481.5 69.1h1.25M485.4 87.2h1.25M473.2 92.1h1.25M482.7 118.0h1.25M480.8 83.2h1.25M484.4 63.0h1.25M481.9 64.1h1.25" stroke="#b0d461" stroke-width="1.25"/>
<path d="M533.3 90.6h1.25M530.4 90.0h1.25M520.6 103.8h1.25M498.6 119.2h1.25M514.8 106.9h1.25M526.5 100.8h1.25M511.0 107.8h1.25M509.3 103.6h1.25M520.7 101.1h1.25M506.3 112.9h1.25M502.8 110.2h1.25M514.0 109.7h1.25M514.3 99.7h1.25M511.1 117.9h1.25M502.7 112.3h1.25M531.3 109.7h1.25M513.1 114.9h1.25M518.2 104.1h1.25M503.0 105.1h1.25M515.0 98.2h1.25M512.7 112.4h1.25M506.2 117.2h1.25M499.4 105.4h1.25M529.6 98.8h1.25M522.3 103.1h1.25M521.4 95.8h1.25M518.1 102.5h1.25M510.7 105.1h1.25M510.7 112.1h1.25M488.8 113.4h1.25M523.6 102.3h1.25M513.6 100.7h1.25M511.7 102.3h1.25M503.2 117.2h1.25M506.7 106.9h1.25M521.9 108.0h1.25M507.4 112.2h1.25M497.5 105.6h1.25M518.8 103.8h1.25M508.5 117.3h1.25M509.1 114.1h1.25M516.4 100.1h1.25M532.4 90.9h1.25M511.4 109.6h1.25M516.9 110.0h1.25M523.1 99.3h1.25M521.3 94.9h1.25M518.5 91.0h1.25M495.8 116.2h1.25M520.2 115.1h1.25M524.5 103.2h1.25M504.8 109.2h1.25M513.8 117.4h1.25M518.7 101.1h1.25M527.0 94.1h1.25M516.7 99.1h1.25M510.4 119.8h1.25M504.9 119.4h1.25M509.8 111.9h1.25M500.9 121.7h1.25M529.6 93.7h1.25M490.5 123.0h1.25M524.3 107.5h1.25M488.2 114.4h1.25M512.8 110.0h1.25M520.0 96.3h1.25M523.6 106.7h1.25M499.0 109.5h1.25M535.9 96.1h1.25M530.5 100.2h1.25M518.7 107.1h1.25M524.7 95.1h1.25M522.2 100.7h1.25M515.3 111.8h1.25M511.3 111.5h1.25M501.7 125.5h1.25M497.5 116.8h1.25M503.8 123.4h1.25M520.4 108.1h1.25M514.9 111.3h1.25M512.1 108.3h1.25M506.5 117.4h1.25M514.7 106.8h1.25M516.2 106.4h1.25M502.9 121.2h1.25M498.8 123.4h1.25M509.7 104.2h1.25M504.0 117.9h1.25M512.0 108.4h1.25M519.7 100.8h1.25M513.4 101.7h1.25M521.2 93.0h1.25M509.5 114.3h1.25M502.4 125.1h1.25M505.6 124.2h1.25M510.9 117.1h1.25M504.1 109.3h1.25M513.7 102.6h1.25M514.9 92.2h1.25M503.0 118.6h1.25M524.7 109.1h1.25M512.7 110.1h1.25M508.5 99.3h1.25M528.3 110.9h1.25M513.3 109.2h1.25M516.4 98.5h1.25M518.6 88.7h1.25M510.9 111.3h1.25M519.7 111.4h1.25M505.3 116.1h1.25M529.0 104.0h1.25M532.6 102.2h1.25M513.8 94.5h1.25M512.7 109.8h1.25M521.5 91.9h1.25M515.2 102.1h1.25M499.8 66.0h1.25M520.8 104.1h1.25M523.2 107.2h1.25M507.7 100.9h1.25M494.6 123.2h1.25M515.2 97.4h1.25M507.1 105.7h1.25M487.9 118.4h1.25M506.7 101.0h1.25M505.3 101.6h1.25M509.5 114.8h1.25M522.3 109.2h1.25M518.9 100.1h1.25M523.9 88.9h1.25M509.1 118.8h1.25M510.2 105.4h1.25M511.8 100.3h1.25M507.1 113.3h1.25M519.5 95.6h1.25M493.9 112.2h1.25M520.4 104.1h1.25M504.8 109.2h1.25M507.8 99.0h1.25M514.8 107.2h1.25" stroke="#8b1a1a" stroke-width="1.25"/>
<path d="M534.0 104.9h1.25M526.6 88.8h1.25M489.8 101.3h1.25M492.5 88.8h1.25M499.3 69.7h1.25M504.5 94.8h1.25M498.8 80.1h1.25M497.2 86.3h1.25M485.3 73.8h1.25M479.7 106.7h1.25M491.6 99.7h1.25M497.4 109.7h1.25M523.5 86.4h1.25M486.9 94.5h1.25M502.0 64.2h1.25M493.6 116.0h1.25M508.3 86.7h1.25M489.1 84.8h1.25M497.8 101.4h1.25M477.2 90.5h1.25M472.4 64.9h1.25M500.1 77.3h1.25M500.8 102.4h1.25M534.3 107.8h1.25M519.0 88.6h1.25M520.6 86.2h1.25M498.4 124.1h1.25M476.5 97.2h1.25M496.2 81.9h1.25M479.6 59.4h1.25M491.4 127.7h1.25M476.0 80.1h1.25M517.3 82.2h1.25M494.7 63.2h1.25M498.7 83.4h1.25M500.9 66.9h1.25M495.8 100.9h1.25M495.0 58.3h1.25M523.0 91.1h1.25M509.6 65.7h1.25M516.8 83.7h1.25M518.9 111.9h1.25M531.6 108.3h1.25M484.0 120.0h1.25M486.1 102.4h1.25M513.8 99.0h1.25M489.6 69.2h1.25M482.0 70.5h1.25M493.3 65.9h1.25M492.0 119.0h1.25M510.6 81.2h1.25M535.8 110.0h1.25M481.5 86.0h1.25M504.0 102.1h1.25M479.3 93.5h1.25M492.1 79.8h1.25M483.4 119.4h1.25M515.4 80.7h1.25M509.8 96.6h1.25M482.9 74.6h1.25M505.3 109.3h1.25M503.8 62.9h1.25M521.5 79.5h1.25M532.3 86.5h1.25M481.0 68.0h1.25M498.3 99.7h1.25M521.9 81.2h1.25M473.7 106.2h1.25M499.6 62.3h1.25M489.2 57.7h1.25M518.8 88.8h1.25M517.5 72.1h1.25M492.8 99.8h1.25M530.0 111.1h1.25M527.0 96.1h1.25M483.3 127.4h1.25M529.8 100.1h1.25M516.4 81.9h1.25M529.5 91.0h1.25M474.2 103.3h1.25M532.1 111.3h1.25M487.3 107.1h1.25M536.1 98.6h1.25M489.1 99.6h1.25M494.5 108.3h1.25M523.4 79.6h1.25M532.3 98.2h1.25M484.2 118.0h1.25M514.3 89.4h1.25M497.2 79.2h1.25M522.5 73.6h1.25M495.3 88.0h1.25M479.0 84.2h1.25M490.4 106.6h1.25M523.6 74.8h1.25M492.3 74.0h1.25M485.7 97.6h1.25M492.1 128.9h1.25M500.0 75.0h1.25M489.1 80.2h1.25M491.9 65.8h1.25M491.2 100.8h1.25M537.8 104.3h1.25M483.4 118.1h1.25M494.5 98.8h1.25M535.9 93.2h1.25M498.4 62.0h1.25M501.4 93.8h1.25M496.8 83.3h1.25M532.0 107.3h1.25M534.6 94.6h1.25M483.4 103.4h1.25M512.8 86.6h1.25M537.9 103.9h1.25M497.3 62.4h1.25M486.5 75.1h1.25M489.5 96.0h1.25M514.9 86.7h1.25M496.6 93.8h1.25M476.9 61.6h1.25M488.1 126.9h1.25M498.6 95.5h1.25M522.3 92.6h1.25M515.9 85.9h1.25M509.5 84.1h1.25M526.7 85.4h1.25M519.1 82.7h1.25M493.0 103.5h1.25M501.6 108.4h1.25M498.2 100.9h1.25M487.5 71.8h1.25M497.5 85.1h1.25M483.4 130.3h1.25M497.0 111.4h1.25M484.6 114.9h1.25M526.4 94.6h1.25M522.8 93.3h1.25M497.3 102.8h1.25M476.0 62.3h1.25M524.5 93.8h1.25M480.3 116.8h1.25M471.4 57.2h1.25M520.1 113.9h1.25M484.7 80.1h1.25M482.6 96.5h1.25M524.3 78.0h1.25M484.6 102.4h1.25M524.3 113.0h1.25M517.7 83.0h1.25M509.6 76.8h1.25M512.8 72.6h1.25M526.5 84.9h1.25M529.2 92.7h1.25M525.6 103.4h1.25M500.1 59.3h1.25M483.8 82.8h1.25M514.4 102.6h1.25M520.8 93.7h1.25M522.5 98.7h1.25M482.7 84.1h1.25M507.0 92.1h1.25M502.9 92.0h1.25M478.4 95.3h1.25M530.4 95.1h1.25M528.9 99.3h1.25M488.1 84.9h1.25M516.5 84.4h1.25M499.8 94.6h1.25M508.8 92.3h1.25M498.4 127.0h1.25M487.7 106.9h1.25M497.6 84.9h1.25M492.7 68.0h1.25M494.9 99.0h1.25M478.1 113.7h1.25M495.3 55.0h1.25M471.6 93.0h1.25M515.1 103.5h1.25M505.1 63.2h1.25M485.1 81.5h1.25M498.2 78.9h1.25M512.5 82.3h1.25M521.0 87.6h1.25M534.9 98.6h1.25M486.8 112.7h1.25M486.1 121.4h1.25M490.7 110.5h1.25M518.7 85.5h1.25M490.7 92.2h1.25M495.3 95.8h1.25M486.7 97.4h1.25M522.0 100.2h1.25M487.4 103.6h1.25M525.3 95.0h1.25M494.1 110.9h1.25M484.7 115.2h1.25M475.1 110.8h1.25M475.2 67.3h1.25M472.5 60.3h1.25M479.9 109.8h1.25M480.1 117.9h1.25M477.0 86.0h1.25M486.7 116.6h1.25M470.3 95.9h1.25M475.3 76.8h1.25M482.5 104.5h1.25M479.8 85.6h1.25M478.2 65.2h1.25M483.1 118.7h1.25M479.1 88.1h1.25M470.8 90.0h1.25M474.1 56.0h1.25M477.2 75.1h1.25M479.5 83.1h1.25" stroke="#e9d242" stroke-width="1.25"/>
<path d="M501.9 106.0h1.25M531.1 94.6h1.25M472.1 87.5h1.25M489.1 60.0h1.25M474.7 74.9h1.25M477.2 101.9h1.25M475.3 54.9h1.25M496.9 72.3h1.25M476.8 75.8h1.25M501.8 125.1h1.25M482.7 111.9h1.25M477.8 86.6h1.25M517.7 77.9h1.25M519.6 92.5h1.25M486.0 68.4h1.25M498.7 100.4h1.25M477.4 116.0h1.25M532.8 101.7h1.25M480.0 62.4h1.25M491.1 126.4h1.25M473.5 107.1h1.25M520.1 89.6h1.25M524.6 93.9h1.25M478.0 115.5h1.25M472.4 61.8h1.25M510.0 61.5h1.25M512.5 113.1h1.25M479.9 125.2h1.25M501.4 69.8h1.25M477.7 89.0h1.25M474.2 78.2h1.25M508.3 75.2h1.25M480.1 119.2h1.25M476.4 111.1h1.25M523.1 78.0h1.25M477.9 73.3h1.25M476.6 78.2h1.25M512.7 79.7h1.25M537.0 110.2h1.25M482.1 119.1h1.25M478.3 115.4h1.25M487.6 97.9h1.25M480.8 92.0h1.25M488.0 107.3h1.25M480.5 56.9h1.25M484.6 54.3h1.25M473.7 56.1h1.25M477.9 64.2h1.25M480.4 106.0h1.25M477.2 101.2h1.25M480.8 73.9h1.25M480.4 111.1h1.25M525.3 79.6h1.25M476.3 94.9h1.25M490.6 109.8h1.25M478.3 78.5h1.25M508.6 72.9h1.25M517.4 78.0h1.25M501.9 98.7h1.25M482.2 112.3h1.25M489.2 84.3h1.25M511.7 103.6h1.25M491.3 78.0h1.25M479.9 124.9h1.25M483.2 80.9h1.25M525.1 75.6h1.25M510.8 90.9h1.25M479.8 55.6h1.25M475.1 58.9h1.25M493.0 101.6h1.25M487.2 73.4h1.25M480.5 109.0h1.25M489.3 106.8h1.25M482.9 129.9h1.25M495.5 119.2h1.25M508.0 77.6h1.25M478.9 111.0h1.25M480.1 127.0h1.25M489.0 103.0h1.25M478.2 57.1h1.25M482.1 109.1h1.25M478.6 80.9h1.25M475.3 109.2h1.25M483.7 89.0h1.25M522.2 81.4h1.25M480.7 69.1h1.25M475.6 61.9h1.25M477.2 109.7h1.25M479.9 119.2h1.25M482.6 110.5h1.25M475.2 99.0h1.25M476.4 75.7h1.25M472.5 63.0h1.25M481.0 106.6h1.25M498.6 116.5h1.25M498.7 69.9h1.25M481.9 123.3h1.25M484.0 57.9h1.25M475.3 81.2h1.25M477.0 87.4h1.25M481.5 53.1h1.25M495.9 100.2h1.25M477.1 76.4h1.25M477.1 67.2h1.25M481.3 75.2h1.25M482.9 52.7h1.25M485.6 100.4h1.25M475.2 105.1h1.25M517.7 109.1h1.25M496.1 88.4h1.25M476.5 59.0h1.25M518.6 80.8h1.25M475.8 70.5h1.25M498.3 102.9h1.25M471.6 99.5h1.25M475.5 84.3h1.25M472.2 85.2h1.25M521.4 79.0h1.25M482.3 61.9h1.25M477.5 107.3h1.25M492.2 96.0h1.25M475.5 58.9h1.25M517.6 95.4h1.25M500.7 92.8h1.25M484.3 106.8h1.25M479.6 97.7h1.25M505.2 84.3h1.25M476.1 70.1h1.25M482.9 67.4h1.25M509.9 81.3h1.25M475.7 58.0h1.25M479.5 100.4h1.25M481.1 80.1h1.25M477.6 64.0h1.25M490.2 81.4h1.25M482.0 122.7h1.25M480.8 127.5h1.25M473.0 103.5h1.25M479.2 110.8h1.25M517.1 107.1h1.25M506.6 106.2h1.25M480.5 112.7h1.25M475.7 102.3h1.25M485.1 60.9h1.25M479.8 53.1h1.25M476.8 63.8h1.25M480.4 126.3h1.25M528.3 80.7h1.25M524.1 104.3h1.25M476.1 98.6h1.25M471.3 99.7h1.25M513.0 90.5h1.25M476.7 92.3h1.25M477.1 95.6h1.25M504.6 60.6h1.25M482.4 86.1h1.25M530.9 104.9h1.25M489.4 92.3h1.25M498.2 78.0h1.25M474.2 78.1h1.25M523.2 108.1h1.25M485.7 89.6h1.25M478.8 73.1h1.25M478.2 109.5h1.25M471.8 99.0h1.25M476.0 80.0h1.25M470.5 60.7h1.25M477.5 62.9h1.25M495.4 106.7h1.25M477.7 104.1h1.25M482.6 102.6h1.25M473.4 84.9h1.25M478.1 65.0h1.25M486.8 106.6h1.25M514.5 111.2h1.25M522.1 102.7h1.25M505.9 60.3h1.25M487.6 124.2h1.25M486.3 121.3h1.25M481.1 78.0h1.25M481.6 102.7h1.25M473.9 67.4h1.25M506.6 78.1h1.25M499.1 102.7h1.25M479.1 68.0h1.25M482.2 112.4h1.25M505.0 68.9h1.25M482.3 121.0h1.25M483.1 127.2h1.25M478.3 82.0h1.25M481.7 108.7h1.25M482.1 68.0h1.25M506.3 62.1h1.25M479.6 82.9h1.25M482.3 122.6h1.25M523.5 103.3h1.25M477.2 107.7h1.25M495.5 67.3h1.25M482.4 86.4h1.25M481.9 121.6h1.25M482.7 101.8h1.25M481.2 67.3h1.25M480.2 96.9h1.25M482.4 60.1h1.25M499.9 119.9h1.25M481.1 92.0h1.25M490.8 115.0h1.25M473.3 97.8h1.25M481.3 85.1h1.25M479.4 111.5h1.25M509.7 85.9h1.25M480.8 122.2h1.25M480.3 108.9h1.25M472.9 70.9h1.25M478.6 71.3h1.25M473.9 105.8h1.25M491.7 83.5h1.25M471.8 60.9h1.25M482.1 107.6h1.25M500.8 113.7h1.25M519.0 94.9h1.25M483.7 112.7h1.25M528.8 80.0h1.25M486.6 61.4h1.25M473.9 78.7h1.25M475.8 91.0h1.25M473.3 79.4h1.25M475.6 61.3h1.25M536.6 100.5h1.25M518.0 97.1h1.25M490.0 97.2h1.25M475.9 98.2h1.25M481.1 107.9h1.25M512.0 67.8h1.25M473.6 94.8h1.25M479.0 108.2h1.25M471.4 63.4h1.25M478.1 89.6h1.25M475.7 91.7h1.25M495.0 69.7h1.25M536.9 105.3h1.25M506.3 99.4h1.25M474.5 102.6h1.25M494.8 65.3h1.25M479.0 103.0h1.25M477.8 57.8h1.25M482.9 127.3h1.25M478.2 56.0h1.25M503.3 107.7h1.25M492.7 84.3h1.25M485.4 94.1h1.25M474.3 71.6h1.25M481.2 63.6h1.25M477.2 113.8h1.25M473.3 79.4h1.25M480.7 98.7h1.25M477.7 64.6h1.25M481.4 119.7h1.25M488.2 121.8h1.25M518.2 88.4h1.25M501.0 109.1h1.25M498.6 110.1h1.25M511.8 105.1h1.25M484.7 115.9h1.25M484.7 119.7h1.25M491.5 113.7h1.25M521.2 86.1h1.25M522.3 98.9h1.25M472.7 84.7h1.25M485.9 84.6h1.25M478.9 116.5h1.25M484.5 95.4h1.25M472.5 96.4h1.25M482.2 59.0h1.25M485.4 109.8h1.25M475.7 113.2h1.25M484.8 86.7h1.25M480.6 123.7h1.25M475.2 87.5h1.25M473.6 107.6h1.25M483.7 109.8h1.25M481.3 112.5h1.25M478.1 86.7h1.25M472.9 62.7h1.25M476.8 87.4h1.25M472.7 58.7h1.25M473.4 63.2h1.25M472.3 87.7h1.25M487.6 120.8h1.25M475.3 68.3h1.25M482.0 110.4h1.25M484.8 93.1h1.25M484.2 128.1h1.25M473.1 61.3h1.25M481.1 60.3h1.25M477.7 55.0h1.25M477.8 88.7h1.25M480.0 69.1h1.25M478.4 115.0h1.25M478.5 91.2h1.25M481.7 70.2h1.25M484.7 90.9h1.25M473.4 106.9h1.25M475.8 112.1h1.25M473.2 79.8h1.25M473.7 64.6h1.25M477.8 64.7h1.25M475.4 57.1h1.25M477.9 81.8h1.25M470.3 96.4h1.25M472.6 56.8h1.25M481.7 109.3h1.25M483.9 107.3h1.25M480.4 125.1h1.25M479.2 67.6h1.25M479.4 118.8h1.25M480.1 86.3h1.25M485.9 91.0h1.25M479.9 78.2h1.25M477.4 94.2h1.25M480.3 99.4h1.25M479.6 86.2h1.25M484.0 121.1h1.25M485.4 70.2h1.25M475.8 86.7h1.25" stroke="#64bac2" stroke-width="1.25"/>
<path d="M510.0 102.7h1.25M521.1 108.7h1.25M525.4 108.3h1.25M511.3 113.9h1.25M503.4 106.1h1.25M520.5 95.8h1.25M500.5 101.8h1.25M524.6 89.5h1.25M520.0 101.3h1.25M501.5 112.6h1.25M508.5 73.8h1.25M515.9 105.6h1.25M515.9 102.1h1.25M519.2 95.6h1.25M496.6 114.5h1.25M499.7 126.3h1.25M514.7 117.0h1.25M494.2 118.8h1.25M518.9 80.8h1.25M531.0 102.8h1.25M501.2 117.5h1.25M496.4 118.5h1.25M504.4 111.0h1.25M515.4 92.9h1.25M515.2 87.0h1.25M526.4 99.4h1.25M489.9 124.4h1.25M518.4 107.2h1.25M523.3 95.0h1.25M518.0 111.3h1.25M527.0 109.3h1.25M500.8 113.9h1.25M512.3 107.8h1.25M522.3 92.6h1.25M521.9 95.8h1.25M525.0 103.7h1.25M514.0 110.4h1.25M521.4 105.5h1.25M507.6 115.2h1.25M515.8 112.3h1.25M508.4 118.2h1.25M523.3 91.8h1.25M498.0 114.8h1.25M533.1 108.5h1.25M523.3 113.2h1.25M490.8 128.1h1.25M486.9 127.6h1.25M522.4 95.2h1.25M523.2 79.0h1.25M523.1 94.3h1.25M498.1 113.3h1.25M521.5 104.3h1.25M501.6 121.1h1.25M517.5 100.8h1.25M511.0 105.6h1.25M522.5 89.4h1.25M517.7 111.3h1.25M497.2 116.2h1.25M512.3 98.1h1.25M515.5 105.7h1.25M502.6 107.1h1.25M507.1 90.1h1.25M510.9 111.1h1.25M500.7 123.3h1.25M506.0 116.0h1.25M520.0 113.2h1.25M521.4 107.0h1.25M509.8 101.6h1.25M529.5 106.9h1.25M522.6 111.1h1.25M490.6 113.8h1.25M492.0 110.8h1.25M521.0 99.7h1.25M515.2 103.2h1.25M515.5 97.8h1.25M526.6 108.6h1.25M515.9 95.8h1.25" stroke="#a5211d" stroke-width="1.25"/>
<path d="M516.8 89.7h1.25M497.5 112.1h1.25M504.8 112.8h1.25M526.3 100.7h1.25M533.9 101.8h1.25M532.3 106.5h1.25M500.9 122.7h1.25M513.6 113.5h1.25M532.0 98.1h1.25M509.8 62.3h1.25M499.4 122.7h1.25M521.8 97.2h1.25M477.1 85.7h1.25M523.3 83.1h1.25M514.6 101.2h1.25M519.6 107.5h1.25M519.3 89.5h1.25M513.5 114.1h1.25M519.6 103.6h1.25M523.8 109.0h1.25M532.2 101.0h1.25M503.0 108.4h1.25M525.6 104.0h1.25M513.0 96.9h1.25M497.4 120.5h1.25M505.8 113.7h1.25M523.6 106.7h1.25M506.5 123.8h1.25M518.4 102.9h1.25M501.3 116.0h1.25M503.2 104.6h1.25M525.3 103.5h1.25M508.5 90.1h1.25M500.4 118.1h1.25M494.9 120.6h1.25M494.7 100.0h1.25M499.4 106.3h1.25M527.9 105.2h1.25M521.8 90.4h1.25M525.8 90.6h1.25M522.6 100.0h1.25M526.9 103.4h1.25M504.4 119.9h1.25M483.7 121.0h1.25M525.9 89.7h1.25M518.3 70.8h1.25M526.3 87.2h1.25M514.1 99.1h1.25M497.0 125.3h1.25M518.5 104.6h1.25M515.4 114.0h1.25M497.1 66.0h1.25M536.4 96.8h1.25M509.8 92.5h1.25M498.6 118.7h1.25M494.1 120.3h1.25M484.0 67.1h1.25M534.9 99.8h1.25M500.9 111.3h1.25M505.3 59.6h1.25M502.3 123.7h1.25M506.3 116.4h1.25M517.9 106.4h1.25M532.0 96.1h1.25M522.9 108.7h1.25M502.0 114.8h1.25M495.4 105.7h1.25M505.6 115.8h1.25M523.8 110.7h1.25M523.1 93.0h1.25M521.9 104.9h1.25M514.2 96.2h1.25M493.9 83.2h1.25M508.2 96.6h1.25M501.5 106.8h1.25M511.0 112.7h1.25M532.7 96.6h1.25M486.4 84.8h1.25M528.9 106.6h1.25M515.5 97.6h1.25M512.6 108.6h1.25M511.3 102.9h1.25M496.0 120.1h1.25M496.7 111.1h1.25M512.3 114.3h1.25M530.3 97.8h1.25M531.3 112.0h1.25M536.6 103.8h1.25M512.2 119.8h1.25M511.7 105.4h1.25M518.7 116.1h1.25M537.3 106.2h1.25M524.6 103.9h1.25M520.1 98.1h1.25M535.5 105.6h1.25M485.7 114.4h1.25M526.6 108.6h1.25M508.4 115.5h1.25M527.6 102.3h1.25M493.5 125.9h1.25M513.9 96.6h1.25M520.2 111.9h1.25M521.7 103.2h1.25M532.8 106.6h1.25M507.3 102.8h1.25" stroke="#c02820" stroke-width="1.25"/>
<path d="M513.8 101.6h1.25M526.0 86.0h1.25M508.4 95.2h1.25M485.6 103.0h1.25M495.9 111.5h1.25M488.6 83.7h1.25M501.7 70.3h1.25M513.3 91.8h1.25M496.2 90.2h1.25M486.2 107.0h1.25M501.0 115.5h1.25M523.8 110.8h1.25M509.9 91.9h1.25M503.4 96.1h1.25M525.2 87.2h1.25M526.0 84.8h1.25M523.1 98.2h1.25M498.8 106.5h1.25M500.4 125.0h1.25M531.7 99.1h1.25M505.7 112.2h1.25M532.7 93.7h1.25M496.5 105.1h1.25M528.5 93.6h1.25M497.9 68.6h1.25M512.1 118.2h1.25M486.2 67.4h1.25M521.9 99.1h1.25M517.2 116.2h1.25M494.0 106.6h1.25M484.8 116.4h1.25M483.2 105.0h1.25M483.4 57.0h1.25M490.3 93.5h1.25M484.1 53.5h1.25M496.4 119.2h1.25M499.3 117.3h1.25M498.5 121.0h1.25M516.2 80.9h1.25M499.7 125.5h1.25M506.1 96.5h1.25M481.1 95.7h1.25M499.5 106.4h1.25M499.3 81.0h1.25M519.0 94.7h1.25M526.4 107.7h1.25M518.2 110.7h1.25M524.3 106.4h1.25M505.8 109.1h1.25M496.9 67.2h1.25M506.4 104.4h1.25M521.6 109.8h1.25M500.3 73.2h1.25M528.6 101.0h1.25M488.3 125.1h1.25M528.1 92.7h1.25M526.2 109.5h1.25M513.7 104.3h1.25M533.4 102.2h1.25M505.2 102.8h1.25M507.1 119.7h1.25M494.7 124.2h1.25M511.0 111.4h1.25M500.0 71.6h1.25M536.0 99.8h1.25M493.0 115.7h1.25M516.5 88.6h1.25M491.9 107.6h1.25M494.2 102.1h1.25M501.2 124.9h1.25M498.4 101.7h1.25M512.3 94.9h1.25M507.3 113.4h1.25M483.4 115.3h1.25M490.7 99.5h1.25M494.6 126.6h1.25M511.9 101.7h1.25M513.2 94.4h1.25M526.1 89.7h1.25M495.3 102.2h1.25M529.8 92.7h1.25M526.1 99.1h1.25M506.0 123.0h1.25M498.0 79.3h1.25M526.8 89.8h1.25M497.6 93.6h1.25M486.7 100.0h1.25M535.2 102.4h1.25M538.1 100.7h1.25M502.0 120.8h1.25M486.2 126.4h1.25M530.4 94.9h1.25M511.0 67.2h1.25M493.8 124.4h1.25M506.5 106.3h1.25M523.8 85.3h1.25M507.7 76.3h1.25M513.0 96.4h1.25M485.1 115.3h1.25M531.4 90.0h1.25M529.4 102.4h1.25M498.1 118.9h1.25M491.8 124.2h1.25M523.6 101.3h1.25M525.3 102.0h1.25M534.8 99.0h1.25M508.2 94.0h1.25M536.0 97.8h1.25M522.0 92.7h1.25M501.2 100.3h1.25M529.6 95.4h1.25M520.4 93.0h1.25M508.6 90.8h1.25M511.2 101.2h1.25M485.6 121.5h1.25M512.1 91.2h1.25M527.2 91.3h1.25M484.9 95.7h1.25M484.1 130.7h1.25M492.9 115.6h1.25M493.5 97.8h1.25M519.5 99.9h1.25M510.3 95.4h1.25M527.9 93.7h1.25M519.6 86.5h1.25M500.4 112.7h1.25M525.3 80.5h1.25M498.7 109.5h1.25M532.7 108.9h1.25M494.4 123.8h1.25M534.8 98.3h1.25M495.2 88.6h1.25M517.5 90.0h1.25M491.8 119.5h1.25M522.3 85.1h1.25M488.2 92.8h1.25M516.5 93.4h1.25M506.3 119.6h1.25M512.4 96.1h1.25M497.5 116.6h1.25M526.7 99.5h1.25M518.1 104.4h1.25M502.1 113.0h1.25M517.1 101.1h1.25M507.5 66.2h1.25M534.1 88.6h1.25M522.5 90.9h1.25M515.5 104.0h1.25M496.5 116.4h1.25M504.7 106.4h1.25M506.9 108.9h1.25M522.9 94.9h1.25M502.1 106.2h1.25M492.1 106.8h1.25" stroke="#e04020" stroke-width="1.25"/>
<path d="M523.6 86.1h1.25M511.3 74.6h1.25M475.3 101.5h1.25M475.6 91.2h1.25M521.1 78.2h1.25M483.3 108.4h1.25M514.5 92.6h1.25M494.4 71.9h1.25M478.4 118.0h1.25M497.7 88.8h1.25M497.9 100.8h1.25M497.3 80.3h1.25M503.1 95.8h1.25M475.7 75.8h1.25M495.6 92.8h1.25M509.6 68.8h1.25M491.2 122.0h1.25M500.8 78.7h1.25M513.2 84.7h1.25M497.5 68.7h1.25M481.8 119.7h1.25M481.8 127.7h1.25M473.9 65.1h1.25M481.4 74.0h1.25M485.3 82.3h1.25M511.8 62.2h1.25M503.8 82.0h1.25M479.9 68.0h1.25M471.3 62.9h1.25M503.2 91.5h1.25M515.2 67.3h1.25M499.0 125.5h1.25M482.2 82.2h1.25M482.3 112.6h1.25M515.8 72.6h1.25M474.9 103.4h1.25M481.7 76.7h1.25M476.4 115.1h1.25M484.9 116.4h1.25M480.1 121.0h1.25M480.3 128.3h1.25M512.9 82.9h1.25M475.4 94.8h1.25M479.0 51.6h1.25M512.0 86.6h1.25M497.9 95.3h1.25M532.5 98.1h1.25M484.0 126.3h1.25M490.1 91.3h1.25M488.1 76.0h1.25M475.0 108.6h1.25M515.3 76.3h1.25M508.9 89.9h1.25M476.1 112.7h1.25M502.9 77.4h1.25M534.5 110.8h1.25M482.3 63.2h1.25M523.0 76.0h1.25M492.5 70.5h1.25M479.9 77.3h1.25M497.3 84.0h1.25M472.0 91.0h1.25M485.4 104.8h1.25M480.7 106.4h1.25M488.3 76.3h1.25M499.3 103.7h1.25M475.6 58.6h1.25M502.3 96.7h1.25M538.6 101.4h1.25M517.6 83.4h1.25M479.9 87.5h1.25M490.0 58.6h1.25M487.4 111.2h1.25M479.5 75.9h1.25M472.9 95.8h1.25M506.1 96.8h1.25M478.3 65.4h1.25M499.7 97.9h1.25M474.0 85.2h1.25M496.3 94.0h1.25M490.1 69.0h1.25M479.0 119.9h1.25M497.4 94.0h1.25M492.9 104.0h1.25M485.9 75.8h1.25M471.2 60.9h1.25M485.0 107.5h1.25M514.1 67.1h1.25M529.7 103.8h1.25M509.3 79.2h1.25M474.9 105.3h1.25M479.3 109.9h1.25M490.2 63.2h1.25M493.6 79.5h1.25M481.7 96.5h1.25M486.7 84.2h1.25M478.7 98.5h1.25M533.0 110.1h1.25M488.5 65.1h1.25M485.3 126.2h1.25M518.3 78.1h1.25M481.0 108.2h1.25M535.5 96.4h1.25M481.8 70.2h1.25M490.2 83.5h1.25M481.8 115.8h1.25M511.7 84.5h1.25M472.8 79.0h1.25M496.1 59.0h1.25M471.8 96.1h1.25M481.3 115.8h1.25M490.4 80.4h1.25M475.8 57.7h1.25M479.4 74.3h1.25M482.6 105.9h1.25M472.1 56.1h1.25M485.5 68.7h1.25M479.4 70.8h1.25M503.7 80.9h1.25M501.3 97.1h1.25M476.1 103.8h1.25M488.0 121.3h1.25M499.5 99.9h1.25M493.8 109.8h1.25M492.5 114.0h1.25M515.8 80.9h1.25M509.9 88.8h1.25M497.8 90.5h1.25M493.9 104.4h1.25M480.7 121.5h1.25M485.7 110.9h1.25M481.7 111.1h1.25M472.4 62.4h1.25M479.6 99.9h1.25M474.7 56.2h1.25M473.0 69.4h1.25M472.3 61.3h1.25M480.9 89.3h1.25M482.0 69.0h1.25M478.5 110.5h1.25M484.6 127.7h1.25M489.7 127.0h1.25M480.6 64.7h1.25M471.4 63.4h1.25M471.9 86.8h1.25M484.4 72.1h1.25M483.7 60.6h1.25M477.2 79.4h1.25M474.1 82.8h1.25M482.0 111.4h1.25M483.9 125.1h1.25M475.8 63.3h1.25M480.9 59.3h1.25M486.1 62.4h1.25M482.7 111.3h1.25M477.5 63.9h1.25M478.6 109.4h1.25M470.8 95.8h1.25M483.6 83.3h1.25M481.7 119.1h1.25M472.8 66.1h1.25M477.3 74.5h1.25M481.2 109.7h1.25M478.3 90.5h1.25M486.2 114.9h1.25M475.2 73.0h1.25M481.9 62.4h1.25M484.0 59.8h1.25M477.5 96.7h1.25M479.2 94.2h1.25M484.7 65.4h1.25M485.5 80.2h1.25M476.2 81.0h1.25M473.7 57.2h1.25M482.3 62.5h1.25M478.3 105.9h1.25M485.4 80.8h1.25M473.3 82.4h1.25M482.6 109.3h1.25M482.7 96.4h1.25M473.3 97.7h1.25M480.7 66.8h1.25M484.8 73.6h1.25M480.1 77.6h1.25" stroke="#80d0a8" stroke-width="1.25"/>
<path d="M482.8 78.4h1.25M481.9 117.0h1.25M479.2 95.5h1.25M480.4 122.7h1.25M473.2 73.9h1.25M494.5 60.9h1.25M482.4 99.5h1.25M507.3 77.4h1.25M473.0 92.4h1.25M511.1 87.7h1.25M492.0 81.3h1.25M482.9 81.4h1.25M477.3 114.3h1.25M479.2 108.1h1.25M479.3 71.2h1.25M511.8 89.6h1.25M508.5 73.8h1.25M500.4 87.2h1.25M487.1 76.8h1.25M482.3 51.9h1.25M475.2 52.9h1.25M491.1 69.8h1.25M493.5 84.2h1.25M484.1 81.9h1.25M480.8 59.3h1.25M470.7 90.8h1.25M502.8 77.6h1.25M526.2 76.6h1.25M474.1 93.6h1.25M474.7 109.5h1.25M499.0 90.5h1.25M481.3 115.1h1.25M524.6 77.7h1.25M507.9 63.8h1.25M500.3 58.4h1.25M482.4 76.4h1.25M489.6 118.2h1.25M501.0 60.3h1.25M504.3 85.3h1.25M474.3 64.9h1.25M492.5 80.3h1.25M478.1 72.5h1.25M479.4 80.7h1.25M479.7 100.1h1.25M488.2 58.6h1.25M513.9 89.9h1.25M478.9 77.3h1.25M489.5 60.2h1.25M495.8 62.2h1.25M491.0 91.8h1.25M525.6 80.6h1.25M473.2 93.0h1.25M494.6 61.5h1.25M528.0 80.6h1.25M486.7 113.8h1.25M477.0 101.1h1.25M493.6 72.3h1.25M472.6 94.6h1.25M485.6 82.8h1.25M480.3 67.6h1.25M480.4 83.9h1.25M480.4 92.5h1.25M493.4 83.7h1.25M477.7 108.8h1.25M514.4 83.2h1.25M479.5 112.5h1.25M512.1 80.5h1.25M481.2 58.3h1.25M481.5 111.4h1.25M482.0 118.3h1.25M481.4 107.9h1.25M497.5 88.9h1.25M493.4 90.1h1.25M501.3 94.4h1.25M492.7 59.0h1.25M501.1 101.8h1.25M471.5 63.7h1.25M485.3 107.7h1.25M500.5 70.9h1.25M473.1 104.9h1.25M481.6 56.3h1.25M511.4 62.3h1.25M479.6 93.5h1.25M487.8 54.1h1.25M493.1 86.3h1.25M493.3 100.0h1.25M474.1 65.5h1.25M481.1 96.1h1.25M480.7 79.6h1.25M483.0 105.4h1.25M499.1 93.0h1.25M500.3 94.6h1.25M513.1 82.2h1.25M475.0 73.1h1.25M473.3 91.3h1.25M485.5 111.6h1.25M486.8 113.7h1.25M483.8 65.2h1.25M479.4 76.4h1.25M476.5 114.1h1.25M483.0 65.4h1.25M478.3 100.7h1.25M472.4 86.0h1.25M484.5 93.2h1.25M485.0 100.8h1.25M484.6 75.4h1.25M472.2 59.5h1.25M482.8 106.0h1.25M485.3 127.3h1.25M478.3 57.4h1.25M475.4 58.0h1.25M479.6 75.4h1.25M476.6 101.6h1.25M482.8 58.8h1.25M476.8 59.7h1.25M470.8 59.0h1.25M482.6 115.9h1.25M480.4 72.1h1.25M486.2 76.6h1.25M480.9 82.2h1.25M472.3 88.8h1.25M476.6 109.9h1.25M479.1 63.0h1.25M483.6 63.2h1.25M485.5 72.2h1.25M486.1 66.6h1.25M485.1 123.7h1.25M477.9 67.1h1.25M477.4 69.4h1.25M476.4 106.4h1.25M481.6 65.5h1.25M480.7 102.2h1.25M477.6 98.3h1.25M477.4 109.7h1.25M477.7 95.2h1.25M478.8 62.5h1.25M485.2 96.7h1.25M484.9 116.6h1.25M479.4 85.9h1.25M482.2 66.7h1.25M483.9 55.2h1.25M476.0 112.0h1.25M485.3 65.1h1.25M481.4 86.9h1.25M482.0 117.0h1.25M485.2 83.3h1.25M483.4 70.5h1.25M481.5 110.8h1.25M480.7 92.3h1.25" stroke="#76cbb7" stroke-width="1.25"/>
<path d="M514.3 81.0h1.25M527.2 106.0h1.25M524.9 100.2h1.25M498.7 83.5h1.25M511.2 92.7h1.25M519.5 84.2h1.25M529.4 104.2h1.25M535.3 104.9h1.25M519.6 104.5h1.25M517.6 107.6h1.25M531.4 86.9h1.25M508.0 104.6h1.25M520.8 109.7h1.25M535.8 94.1h1.25M514.6 97.4h1.25M492.0 99.2h1.25M495.8 73.3h1.25M532.4 99.8h1.25M505.0 107.4h1.25M523.0 107.2h1.25M530.0 96.9h1.25M498.2 79.7h1.25M498.6 118.2h1.25M498.7 65.1h1.25M534.0 87.0h1.25M511.6 110.7h1.25M480.4 119.2h1.25M516.8 106.0h1.25M511.8 118.3h1.25M486.1 82.3h1.25M496.0 117.1h1.25M513.4 97.1h1.25M522.2 102.4h1.25M519.8 90.3h1.25M505.6 102.3h1.25M518.7 107.8h1.25M501.8 123.8h1.25M492.6 110.7h1.25M484.3 94.1h1.25M522.9 92.4h1.25M513.8 104.9h1.25M510.0 105.1h1.25M521.8 114.4h1.25M508.3 99.4h1.25M506.9 98.3h1.25M521.3 96.2h1.25M503.7 111.7h1.25M525.2 106.3h1.25M504.0 109.2h1.25M503.3 95.8h1.25M532.3 99.1h1.25M511.5 111.4h1.25M491.8 126.4h1.25M526.2 103.1h1.25M529.8 82.7h1.25M517.4 100.4h1.25M502.3 102.2h1.25M494.2 84.2h1.25M495.9 116.2h1.25M514.8 117.2h1.25M524.2 113.8h1.25M489.5 122.5h1.25M489.7 102.3h1.25M502.9 117.5h1.25M508.0 116.6h1.25M502.5 108.7h1.25M534.3 103.9h1.25M500.4 122.7h1.25M525.2 96.2h1.25M503.3 118.5h1.25M492.9 67.8h1.25M493.2 102.6h1.25M521.9 113.1h1.25M524.0 102.6h1.25M484.5 58.2h1.25M514.3 93.8h1.25M496.4 116.0h1.25M516.1 104.2h1.25M502.4 97.5h1.25M518.1 114.4h1.25M485.7 117.2h1.25M495.6 122.9h1.25M508.9 95.5h1.25M509.1 119.7h1.25M490.9 65.6h1.25M521.4 92.6h1.25M493.6 127.0h1.25M514.3 64.5h1.25M497.9 113.4h1.25M533.3 97.4h1.25M534.8 97.5h1.25M522.8 87.3h1.25M514.1 98.1h1.25M526.0 110.3h1.25M513.5 96.1h1.25M512.7 114.1h1.25M524.2 109.1h1.25M534.4 90.2h1.25M511.0 105.4h1.25M527.3 95.1h1.25M503.4 125.2h1.25M500.2 116.1h1.25M494.7 96.5h1.25M486.2 130.1h1.25M535.8 108.9h1.25M535.0 102.7h1.25M509.0 114.4h1.25M521.8 109.3h1.25M505.9 75.4h1.25M528.1 85.2h1.25M507.0 119.5h1.25M508.6 93.1h1.25M494.6 110.9h1.25M539.1 105.1h1.25M512.0 109.2h1.25M505.1 108.3h1.25M495.5 106.5h1.25M527.5 99.7h1.25M507.7 116.2h1.25M510.6 92.7h1.25M490.6 117.3h1.25M527.7 97.7h1.25M493.0 117.3h1.25M499.7 121.4h1.25M525.8 86.4h1.25M515.1 98.1h1.25M516.7 95.4h1.25M502.6 92.5h1.25M517.4 102.1h1.25M492.1 113.2h1.25M520.1 113.9h1.25M525.2 91.9h1.25M525.2 96.0h1.25M502.2 94.8h1.25M494.1 126.0h1.25M509.5 97.0h1.25M522.1 92.7h1.25M521.6 88.3h1.25M533.1 87.5h1.25M504.5 102.2h1.25M517.1 101.3h1.25M503.2 76.5h1.25M523.7 103.0h1.25M495.3 55.5h1.25M536.7 106.5h1.25M496.7 78.4h1.25M492.6 122.9h1.25M485.1 70.8h1.25M491.8 122.8h1.25M498.6 107.8h1.25M510.9 88.1h1.25M502.6 99.2h1.25M511.4 107.7h1.25M509.9 92.6h1.25M528.4 108.7h1.25M525.2 98.7h1.25M515.3 113.0h1.25M525.7 101.7h1.25M524.7 109.4h1.25M510.1 93.8h1.25M499.7 123.9h1.25" stroke="#d03420" stroke-width="1.25"/>
<path d="M480.0 68.0h1.25M479.3 57.9h1.25M479.3 58.1h1.25M480.5 73.6h1.25M484.4 68.8h1.25M480.9 123.6h1.25M480.2 124.8h1.25M478.5 72.0h1.25M472.2 90.3h1.25M471.0 94.5h1.25M473.8 66.4h1.25M481.2 112.9h1.25M479.1 64.3h1.25M475.0 96.5h1.25M485.6 110.5h1.25M479.8 67.4h1.25M481.7 128.7h1.25M481.5 126.9h1.25" stroke="#3c6ab6" stroke-width="1.25"/>
<path d="M474.5 83.5h1.25M480.2 101.6h1.25M486.9 119.1h1.25M484.4 79.7h1.25M470.0 94.5h1.25M476.6 113.7h1.25M481.2 96.5h1.25M475.2 86.0h1.25M472.6 90.5h1.25M479.1 107.7h1.25M475.4 69.0h1.25M476.3 70.6h1.25M475.3 83.5h1.25M483.7 122.4h1.25M474.5 95.4h1.25M482.4 88.8h1.25M480.6 129.3h1.25M482.8 91.3h1.25M471.9 101.0h1.25M484.8 88.7h1.25M474.4 60.7h1.25M479.7 61.4h1.25M473.5 74.3h1.25M485.2 123.0h1.25M471.1 59.9h1.25M480.5 112.4h1.25M484.1 104.3h1.25M480.2 75.4h1.25M472.5 86.6h1.25M472.7 67.6h1.25M473.0 96.5h1.25M482.5 81.1h1.25M480.8 75.4h1.25M472.5 82.8h1.25M478.4 86.9h1.25M470.9 97.2h1.25M479.4 84.7h1.25M477.4 111.2h1.25M478.6 106.9h1.25M474.6 84.0h1.25M484.6 84.7h1.25M479.3 68.0h1.25M481.1 111.5h1.25M475.3 69.3h1.25" stroke="#4898c8" stroke-width="1.25"/>
<path d="M477.8 90.5h1.25M476.9 84.3h1.25M484.4 60.7h1.25" stroke="#3651ad" stroke-width="1.25"/>
<path d="M493.7 137.7h1.4M468.3 145.8h1.4M471.6 144.2h1.4M506.7 131.2h1.4M477.0 145.0h1.4M475.0 136.4h1.4M478.2 145.5h1.4M494.2 129.4h1.4" stroke="#f08830" stroke-width="1.4"/>
<path d="M482.5 140.9h1.4M469.7 147.6h1.4" stroke="#e9d242" stroke-width="1.4"/>
<path d="M455.4 315.3h1.3M460.3 301.6h1.3M453.8 310.3h1.3M455.2 301.7h1.3M458.8 308.0h1.3M457.7 309.3h1.3M453.7 302.4h1.3M459.8 298.9h1.3M455.3 310.6h1.3M457.9 310.0h1.3M450.4 314.4h1.3M454.4 313.3h1.3M454.4 307.8h1.3M451.4 311.1h1.3M457.4 313.4h1.3M457.7 315.2h1.3M454.3 307.7h1.3M452.8 311.6h1.3M433.8 320.4h1.3M432.9 319.1h1.3M434.2 320.2h1.3M434.4 318.4h1.3M429.4 319.1h1.3M430.2 316.9h1.3M433.2 318.5h1.3M433.3 319.4h1.3M411.7 360.0h1.3M421.8 358.7h1.3M411.4 363.4h1.3M433.4 356.3h1.3M416.7 365.9h1.3M403.6 354.4h1.3M419.5 343.6h1.3M416.3 346.2h1.3M417.2 361.9h1.3M414.4 347.1h1.3M412.3 349.3h1.3M422.5 344.5h1.3M424.6 352.4h1.3M417.4 339.2h1.3M408.5 359.2h1.3M421.9 358.2h1.3M414.9 343.9h1.3M430.5 353.7h1.3M411.0 337.0h1.3M404.4 340.5h1.3M423.8 355.6h1.3M412.6 364.4h1.3M412.1 366.5h1.3M418.8 337.3h1.3M417.9 345.8h1.3M421.5 363.3h1.3M416.6 343.1h1.3M414.5 344.2h1.3M416.2 359.4h1.3M414.3 345.9h1.3M413.2 358.8h1.3M420.9 353.2h1.3M406.1 345.4h1.3M416.0 344.5h1.3M413.7 345.3h1.3M404.4 360.0h1.3M422.6 367.0h1.3M408.0 360.2h1.3M409.1 334.4h1.3M417.9 333.6h1.3M419.9 334.7h1.3M415.0 331.2h1.3M420.2 355.7h1.3M418.7 352.0h1.3M423.5 354.9h1.3M409.5 345.4h1.3M422.7 350.6h1.3M407.1 339.5h1.3M416.3 343.3h1.3M411.6 346.3h1.3M413.4 350.4h1.3M409.7 355.1h1.3M426.0 365.4h1.3M402.7 342.4h1.3M418.0 347.1h1.3M416.9 338.4h1.3M414.6 354.4h1.3M416.4 335.7h1.3M422.4 352.0h1.3M414.9 360.1h1.3M409.0 358.1h1.3M414.7 361.0h1.3M406.8 348.6h1.3M414.5 354.3h1.3M415.1 336.0h1.3M410.0 340.9h1.3M413.8 347.1h1.3M455.3 359.4h1.3M452.5 357.1h1.3M444.5 359.2h1.3M452.2 362.0h1.3M452.9 360.1h1.3M452.7 353.0h1.3M429.8 393.7h1.3M443.7 402.9h1.3M444.3 398.3h1.3M441.9 401.0h1.3M425.5 386.4h1.3M446.2 401.7h1.3M437.1 395.9h1.3M438.2 398.0h1.3M433.6 395.1h1.3M439.4 404.1h1.3M434.1 391.4h1.3M424.1 387.0h1.3M434.7 393.9h1.3M440.8 406.5h1.3M445.5 400.3h1.3M430.1 394.9h1.3M446.6 399.1h1.3M440.3 394.3h1.3M448.6 404.4h1.3M448.6 403.6h1.3M429.9 387.2h1.3M435.2 396.6h1.3M426.4 390.4h1.3M443.1 395.5h1.3M438.9 392.7h1.3M457.1 410.9h1.3M459.3 409.3h1.3M460.5 408.7h1.3M454.2 408.0h1.3M460.8 404.0h1.3M454.1 407.6h1.3M458.4 401.7h1.3M457.9 402.4h1.3M459.5 404.6h1.3M458.6 402.6h1.3M456.8 405.8h1.3M470.3 390.7h1.3M478.6 389.4h1.3M471.6 391.3h1.3" stroke="#323ba4" stroke-width="1.3"/>
<path d="M458.9 304.7h1.3M458.3 307.6h1.3M450.6 314.2h1.3M457.0 305.3h1.3M458.5 307.7h1.3M455.9 312.0h1.3M457.0 305.6h1.3M456.0 303.9h1.3M473.3 300.5h1.3M462.8 311.3h1.3M468.7 319.8h1.3M466.6 299.7h1.3M464.2 299.5h1.3M461.7 311.4h1.3M463.2 329.7h1.3M471.3 329.5h1.3M469.2 330.5h1.3M468.6 331.2h1.3M465.9 330.1h1.3M475.8 329.2h1.3M468.7 328.2h1.3M468.3 330.7h1.3M474.0 328.5h1.3M474.3 331.8h1.3M464.4 329.2h1.3M471.8 328.8h1.3M469.7 327.8h1.3M467.7 333.1h1.3M464.3 327.1h1.3M470.5 328.2h1.3M433.5 353.8h1.3M423.8 360.2h1.3M427.3 366.6h1.3M424.5 365.7h1.3M425.3 366.8h1.3M419.5 363.8h1.3M421.5 364.2h1.3M424.4 364.7h1.3M427.7 355.4h1.3M431.6 362.2h1.3M426.8 354.5h1.3M427.5 358.6h1.3M429.6 362.3h1.3M474.5 356.3h1.3M477.9 359.8h1.3M471.8 354.3h1.3M478.1 361.3h1.3M470.9 356.1h1.3M473.9 350.0h1.3M475.4 356.5h1.3M478.5 352.5h1.3M480.5 357.1h1.3M472.9 350.8h1.3M478.7 357.8h1.3M469.9 356.1h1.3M476.5 356.4h1.3M471.9 357.1h1.3M476.5 358.1h1.3M474.4 354.2h1.3M473.6 360.2h1.3M471.0 356.1h1.3M469.8 357.2h1.3M475.1 361.8h1.3M475.2 354.5h1.3M427.4 373.7h1.3M428.7 377.0h1.3M426.6 377.3h1.3M433.8 378.3h1.3M435.0 387.8h1.3M429.2 378.1h1.3M435.1 387.3h1.3M442.6 391.3h1.3M434.3 381.8h1.3M441.4 387.9h1.3M427.5 382.8h1.3M435.8 384.5h1.3M429.2 382.9h1.3M429.9 375.4h1.3M435.0 387.1h1.3M426.6 381.8h1.3M437.3 389.1h1.3M436.6 386.1h1.3M436.9 389.4h1.3M429.6 383.2h1.3M428.4 379.1h1.3M445.3 395.2h1.3M429.6 384.6h1.3M429.0 379.9h1.3M437.9 391.1h1.3M431.0 385.6h1.3M427.8 373.7h1.3M438.1 384.7h1.3M421.8 376.1h1.3M430.3 385.3h1.3M425.5 372.5h1.3M492.8 395.7h1.3M500.1 381.6h1.3M497.2 382.5h1.3M504.5 388.6h1.3M498.1 385.5h1.3M502.8 380.7h1.3M496.1 380.5h1.3M491.6 383.0h1.3M499.7 379.6h1.3M493.6 382.0h1.3M499.1 391.3h1.3M492.7 390.4h1.3M500.4 382.6h1.3M511.9 378.1h1.3M507.7 375.0h1.3M503.7 374.4h1.3M505.9 374.8h1.3M507.5 388.5h1.3M505.0 382.5h1.3M509.8 387.1h1.3M495.6 381.9h1.3M493.7 382.5h1.3M516.2 370.8h1.3M498.2 387.4h1.3M510.8 380.5h1.3M500.5 379.3h1.3M497.8 380.2h1.3M496.7 399.8h1.3M517.9 370.0h1.3M494.4 395.4h1.3M503.4 389.1h1.3M508.7 376.5h1.3M492.9 391.8h1.3M507.8 376.3h1.3M515.8 378.1h1.3M505.2 381.6h1.3M498.3 380.1h1.3M491.1 394.2h1.3M512.2 371.7h1.3M505.0 386.2h1.3M499.3 385.6h1.3M506.4 374.6h1.3M499.0 376.4h1.3M476.3 397.6h1.3M478.9 397.6h1.3M477.0 397.3h1.3M475.5 388.1h1.3M480.4 399.2h1.3M483.0 399.5h1.3M477.9 397.5h1.3M473.3 393.3h1.3M481.4 395.8h1.3M479.8 390.8h1.3M487.3 404.4h1.3M479.4 404.3h1.3M478.0 396.4h1.3M483.8 396.5h1.3M475.2 401.2h1.3M476.3 388.9h1.3M477.4 395.6h1.3M483.7 399.6h1.3M475.1 401.3h1.3M478.9 402.5h1.3M481.1 405.0h1.3M479.1 397.2h1.3M486.2 400.6h1.3M479.1 391.3h1.3M482.7 404.1h1.3M477.2 398.3h1.3M481.8 401.8h1.3M480.5 396.5h1.3M479.1 403.4h1.3M472.8 396.2h1.3M474.3 391.7h1.3M499.7 329.2h1.3M480.2 348.0h1.3M487.3 356.8h1.3M521.7 357.6h1.3M478.7 352.0h1.3M530.8 317.5h1.3M519.4 328.2h1.3M479.4 371.0h1.3M477.3 300.5h1.3M488.4 361.4h1.3M501.3 363.7h1.3M518.9 349.7h1.3M482.6 352.3h1.3M517.6 292.6h1.3M495.3 301.5h1.3M421.0 413.7h1.3M468.6 360.2h1.3M432.5 316.2h1.3M468.8 396.3h1.3M413.4 311.2h1.3M435.7 315.0h1.3M425.7 309.7h1.3M451.0 318.5h1.3M434.2 329.7h1.3M445.3 350.9h1.3M418.6 316.3h1.3M449.3 356.8h1.3M459.0 389.2h1.3M402.2 367.6h1.3M429.9 394.4h1.3M441.4 331.8h1.3M449.8 342.5h1.3" stroke="#76cbb7" stroke-width="1.3"/>
<path d="M456.0 308.4h1.3M452.7 310.5h1.3M456.1 307.5h1.3M452.8 305.6h1.3M451.8 316.0h1.3M454.5 303.3h1.3M421.9 340.6h1.3M422.5 357.6h1.3M411.1 347.3h1.3M428.9 359.0h1.3M420.4 368.4h1.3M422.8 365.5h1.3M425.4 344.1h1.3M430.3 396.6h1.3M439.7 396.8h1.3M430.9 394.1h1.3M426.0 376.4h1.3M439.4 402.6h1.3M434.2 388.0h1.3M440.2 387.1h1.3M428.1 378.6h1.3M432.3 389.4h1.3M427.7 382.4h1.3M441.7 389.0h1.3M430.7 380.5h1.3M439.1 396.4h1.3M443.1 391.9h1.3M444.4 392.3h1.3M484.2 396.0h1.3M475.5 393.5h1.3M471.9 395.2h1.3M476.2 393.9h1.3M475.5 400.4h1.3M479.2 392.9h1.3M483.9 394.9h1.3M476.4 392.3h1.3M473.6 393.7h1.3M479.9 392.4h1.3M471.1 388.9h1.3M477.1 391.7h1.3M481.1 397.9h1.3M474.5 394.5h1.3M481.1 392.4h1.3M475.3 399.0h1.3M481.1 391.6h1.3M477.4 392.6h1.3M477.4 398.8h1.3M475.1 400.3h1.3M476.2 398.5h1.3M481.7 396.6h1.3M474.4 393.7h1.3M476.4 389.2h1.3M475.7 390.6h1.3M471.4 393.9h1.3" stroke="#4898c8" stroke-width="1.3"/>
<path d="M451.9 308.9h1.3M452.6 308.8h1.3M458.2 298.3h1.3M454.6 312.7h1.3M456.5 300.0h1.3M453.6 303.0h1.3M455.5 305.1h1.3M456.6 305.9h1.3M459.4 309.0h1.3M461.2 299.1h1.3M454.8 315.4h1.3M456.7 313.9h1.3M454.6 312.6h1.3M454.5 313.4h1.3M452.8 305.1h1.3M457.3 303.7h1.3M457.1 308.8h1.3M455.3 313.0h1.3M452.9 307.8h1.3M454.0 312.8h1.3M455.6 307.3h1.3M449.0 311.0h1.3M466.4 317.3h1.3M467.3 312.5h1.3M461.9 310.6h1.3M462.9 306.7h1.3M462.0 293.8h1.3M465.9 310.3h1.3M435.3 319.0h1.3M432.8 318.1h1.3M429.5 319.3h1.3M436.3 319.8h1.3M433.7 317.9h1.3M432.4 317.3h1.3M432.5 318.0h1.3M432.0 317.9h1.3M435.3 319.0h1.3M429.9 318.5h1.3M431.2 319.1h1.3M434.4 318.9h1.3M432.9 319.7h1.3M462.9 325.7h1.3M470.2 328.5h1.3M477.4 328.7h1.3M468.8 330.2h1.3M474.2 328.3h1.3M473.2 329.0h1.3M472.1 329.6h1.3M465.8 328.9h1.3M471.3 329.4h1.3M469.0 327.7h1.3M468.0 326.7h1.3M467.4 333.7h1.3M421.6 345.1h1.3M412.9 343.9h1.3M407.6 346.4h1.3M419.5 351.3h1.3M408.1 349.8h1.3M424.4 351.6h1.3M416.9 364.3h1.3M402.1 352.0h1.3M418.5 359.9h1.3M423.9 354.4h1.3M419.1 350.0h1.3M419.5 345.2h1.3M406.7 349.4h1.3M421.4 371.0h1.3M421.6 346.0h1.3M420.5 348.9h1.3M422.5 352.4h1.3M419.7 359.1h1.3M415.8 355.0h1.3M422.1 355.9h1.3M411.2 341.3h1.3M413.3 349.2h1.3M421.7 339.7h1.3M420.6 351.0h1.3M418.4 366.7h1.3M404.9 338.8h1.3M408.5 342.6h1.3M421.1 350.0h1.3M426.0 363.7h1.3M422.8 348.2h1.3M425.2 343.7h1.3M418.0 357.6h1.3M420.7 348.9h1.3M405.9 354.3h1.3M414.4 349.6h1.3M417.0 358.4h1.3M411.2 343.1h1.3M420.7 341.8h1.3M415.6 339.4h1.3M409.1 352.7h1.3M425.1 351.8h1.3M426.6 345.5h1.3M412.9 367.4h1.3M421.2 359.6h1.3M407.5 343.0h1.3M416.9 358.7h1.3M417.0 353.7h1.3M409.9 348.2h1.3M421.4 352.6h1.3M422.7 356.9h1.3M422.9 356.4h1.3M424.1 354.3h1.3M407.9 359.3h1.3M416.0 354.2h1.3M409.0 355.9h1.3M415.3 357.3h1.3M413.7 356.5h1.3M412.0 343.6h1.3M418.4 350.5h1.3M408.4 361.1h1.3M421.5 345.2h1.3M415.7 361.7h1.3M424.6 348.6h1.3M417.2 354.7h1.3M420.3 365.0h1.3M412.8 355.9h1.3M432.3 354.2h1.3M400.3 346.4h1.3M419.3 358.7h1.3M422.2 354.8h1.3M415.0 345.3h1.3M420.7 349.8h1.3M411.5 353.0h1.3M409.0 356.6h1.3M421.1 357.9h1.3M410.1 350.0h1.3M421.4 348.2h1.3M412.7 357.9h1.3M415.4 358.6h1.3M419.0 372.9h1.3M415.6 342.2h1.3M415.0 355.9h1.3M416.5 337.9h1.3M413.6 351.3h1.3M424.9 365.8h1.3M422.8 353.6h1.3M417.5 362.0h1.3M415.4 359.9h1.3M418.1 354.2h1.3M422.1 350.9h1.3M422.4 358.9h1.3M420.5 342.7h1.3M418.2 340.2h1.3M404.8 344.5h1.3M417.5 339.6h1.3M422.4 350.6h1.3M418.9 359.5h1.3M416.3 347.2h1.3M422.9 357.3h1.3M451.4 355.9h1.3M449.5 357.8h1.3M457.8 356.4h1.3M457.8 356.3h1.3M452.7 355.5h1.3M460.8 354.7h1.3M450.7 355.7h1.3M456.9 361.6h1.3M448.6 355.3h1.3M447.2 355.7h1.3M451.1 359.0h1.3M455.2 357.2h1.3M450.5 357.7h1.3M460.2 358.0h1.3M449.2 352.3h1.3M450.7 352.6h1.3M453.3 355.6h1.3M471.8 357.2h1.3M472.3 357.6h1.3M471.0 354.3h1.3M475.5 357.6h1.3M473.7 349.4h1.3M431.1 394.8h1.3M444.7 405.5h1.3M421.5 386.3h1.3M439.9 403.7h1.3M431.0 392.1h1.3M442.8 395.7h1.3M434.7 402.8h1.3M430.3 390.2h1.3M435.8 390.6h1.3M436.7 390.9h1.3M447.2 404.8h1.3M443.6 402.8h1.3M431.6 388.5h1.3M444.6 397.1h1.3M434.0 400.0h1.3M428.7 391.2h1.3M442.1 406.9h1.3M438.4 403.5h1.3M426.7 384.8h1.3M430.3 392.3h1.3M425.3 385.1h1.3M424.1 384.8h1.3M435.9 395.9h1.3M423.0 384.2h1.3M436.3 402.6h1.3M425.4 393.9h1.3M428.7 394.8h1.3M435.9 394.5h1.3M421.6 382.8h1.3M431.3 389.2h1.3M444.4 399.4h1.3M441.3 401.8h1.3M436.1 396.7h1.3M424.7 391.0h1.3M438.5 396.4h1.3M442.3 399.6h1.3M432.9 396.9h1.3M430.4 397.5h1.3M435.2 390.0h1.3M451.7 404.1h1.3M462.7 407.3h1.3M455.5 402.1h1.3M462.7 405.2h1.3M454.3 408.6h1.3M459.1 403.2h1.3M456.4 404.6h1.3M452.6 404.6h1.3M457.9 408.6h1.3M459.1 404.6h1.3M457.1 407.2h1.3M455.4 411.4h1.3M472.3 393.5h1.3M480.9 393.3h1.3M473.0 388.9h1.3M469.8 390.9h1.3M473.8 391.1h1.3M421.7 391.2h1.3M469.1 393.9h1.3M428.2 382.6h1.3M446.8 364.5h1.3M462.5 333.5h1.3M429.3 414.1h1.3M467.2 315.1h1.3M429.0 309.9h1.3M454.5 327.7h1.3M420.0 335.3h1.3M404.2 325.7h1.3M465.3 368.8h1.3M428.3 368.8h1.3M453.7 334.6h1.3M417.3 397.7h1.3M448.3 397.9h1.3M404.0 329.5h1.3M463.2 355.2h1.3M456.4 356.3h1.3M423.1 345.6h1.3M406.4 377.9h1.3M414.4 308.8h1.3M418.0 376.4h1.3M441.4 410.4h1.3M444.8 303.3h1.3M445.5 324.5h1.3M425.2 315.4h1.3M468.4 337.1h1.3M408.4 399.9h1.3M440.0 373.3h1.3M406.0 333.0h1.3M422.0 352.6h1.3M408.9 376.9h1.3M440.6 402.3h1.3M467.7 322.0h1.3M409.3 341.7h1.3M412.0 362.1h1.3M402.0 396.7h1.3M457.5 397.0h1.3M418.1 394.8h1.3M463.8 343.0h1.3M433.8 334.2h1.3M417.2 336.7h1.3M456.5 305.9h1.3M432.0 396.7h1.3M424.6 378.2h1.3M407.0 314.6h1.3M401.7 318.9h1.3M413.9 352.2h1.3M459.8 397.7h1.3M466.7 343.3h1.3M449.5 335.6h1.3M448.0 392.9h1.3M409.2 307.0h1.3M435.6 363.7h1.3M425.0 382.3h1.3M450.8 340.3h1.3M442.3 389.8h1.3" stroke="#3446a8" stroke-width="1.3"/>
<path d="M456.2 307.1h1.3M450.1 313.3h1.3M456.7 305.6h1.3M457.7 303.0h1.3M449.5 310.0h1.3M453.5 313.1h1.3M457.6 306.8h1.3M450.1 318.2h1.3M456.8 304.8h1.3M452.5 303.0h1.3M450.5 308.1h1.3M457.9 309.8h1.3M455.7 305.2h1.3M457.0 312.6h1.3M452.7 316.2h1.3M453.6 307.3h1.3M449.2 312.0h1.3M457.3 313.2h1.3M452.9 311.9h1.3M452.1 313.1h1.3M454.8 318.8h1.3M452.4 309.8h1.3M459.1 307.7h1.3M457.9 308.2h1.3M433.5 319.1h1.3M428.9 317.0h1.3M426.9 358.2h1.3M405.8 351.5h1.3M412.8 352.8h1.3M413.9 352.7h1.3M416.2 357.0h1.3M414.0 334.5h1.3M411.9 349.0h1.3M417.8 357.2h1.3M410.9 357.9h1.3M406.3 349.4h1.3M422.2 354.5h1.3M417.5 350.5h1.3M419.1 351.2h1.3M402.7 346.6h1.3M415.1 347.0h1.3M415.2 354.3h1.3M416.3 346.9h1.3M404.4 336.0h1.3M413.5 350.5h1.3M413.2 340.2h1.3M413.4 360.1h1.3M403.7 346.3h1.3M409.1 356.5h1.3M427.8 352.5h1.3M406.1 358.4h1.3M418.9 349.3h1.3M427.7 361.6h1.3M417.9 335.5h1.3M408.7 355.4h1.3M412.0 351.5h1.3M411.8 355.1h1.3M417.3 349.9h1.3M417.7 346.6h1.3M418.1 357.6h1.3M416.5 344.9h1.3M403.6 350.7h1.3M408.6 341.5h1.3M404.8 349.2h1.3M418.9 355.6h1.3M418.0 353.8h1.3M431.0 355.6h1.3M427.7 354.2h1.3M413.9 347.8h1.3M412.5 362.1h1.3M413.6 352.4h1.3M417.5 354.1h1.3M413.4 354.4h1.3M420.5 347.9h1.3M409.8 341.4h1.3M422.8 348.1h1.3M424.0 345.4h1.3M418.6 352.2h1.3M413.2 352.8h1.3M412.7 347.8h1.3M406.1 346.1h1.3M424.7 363.0h1.3M425.3 360.1h1.3M414.2 356.2h1.3M414.6 355.5h1.3M416.4 356.0h1.3M425.1 347.9h1.3M416.1 345.6h1.3M449.9 355.2h1.3M458.4 358.4h1.3M453.9 354.9h1.3M454.1 356.8h1.3M452.9 360.6h1.3M454.0 358.1h1.3M449.3 356.1h1.3M444.7 357.9h1.3M455.9 358.8h1.3M450.1 359.2h1.3M458.3 357.0h1.3M460.3 358.2h1.3M431.1 396.2h1.3M432.0 398.1h1.3M434.0 392.1h1.3M426.6 392.2h1.3M426.1 392.5h1.3M442.7 403.4h1.3M443.9 395.1h1.3M428.9 389.0h1.3M434.4 389.6h1.3M435.6 402.6h1.3M422.7 390.1h1.3M429.2 400.1h1.3M434.7 392.0h1.3M428.7 390.7h1.3M445.0 398.3h1.3M431.6 389.4h1.3M446.3 404.9h1.3M423.2 385.8h1.3M437.3 396.8h1.3M438.3 407.5h1.3M446.0 399.4h1.3M437.0 392.1h1.3M430.3 387.6h1.3M433.7 403.8h1.3M430.7 390.1h1.3M433.9 395.7h1.3M433.6 391.4h1.3M439.5 403.7h1.3M441.4 394.7h1.3M426.1 385.1h1.3M428.1 385.5h1.3M457.5 406.0h1.3M462.8 405.5h1.3M454.3 402.3h1.3M456.5 413.3h1.3M460.5 403.4h1.3M457.0 404.8h1.3M460.9 405.9h1.3M457.4 402.2h1.3M455.3 401.9h1.3M454.1 410.4h1.3M460.4 402.6h1.3M454.3 400.0h1.3M475.4 391.2h1.3M473.1 395.4h1.3M474.3 387.8h1.3M475.3 386.9h1.3M476.4 388.4h1.3M474.6 397.3h1.3M470.1 391.8h1.3M473.6 392.2h1.3M473.5 392.4h1.3M471.7 392.0h1.3M422.8 393.2h1.3M469.4 405.0h1.3M462.4 372.1h1.3M408.5 411.5h1.3M468.1 395.3h1.3M445.8 413.5h1.3M451.4 349.6h1.3M403.9 324.8h1.3M451.6 375.4h1.3M403.2 359.6h1.3M435.6 370.3h1.3M430.4 415.2h1.3M417.7 417.3h1.3" stroke="#3651ad" stroke-width="1.3"/>
<path d="M454.4 311.6h1.3M467.9 314.2h1.3M471.7 298.7h1.3M468.0 301.7h1.3M470.2 305.4h1.3M472.7 306.6h1.3M465.8 303.1h1.3M468.9 300.5h1.3M471.4 295.2h1.3M461.5 306.8h1.3M467.3 293.5h1.3M462.4 308.8h1.3M461.7 306.5h1.3M472.6 324.6h1.3M469.3 325.2h1.3M469.6 328.3h1.3M462.6 324.5h1.3M469.9 323.5h1.3M477.7 329.2h1.3M428.1 358.4h1.3M419.3 363.1h1.3M428.5 356.3h1.3M419.8 362.9h1.3M418.4 370.4h1.3M429.6 360.0h1.3M421.9 374.8h1.3M447.0 393.5h1.3M442.6 388.4h1.3M429.8 372.4h1.3M431.8 378.2h1.3M434.0 386.2h1.3M441.7 388.5h1.3M429.5 385.3h1.3M438.6 387.4h1.3M431.2 375.2h1.3M438.0 387.8h1.3M433.7 386.3h1.3M426.4 374.6h1.3M424.8 380.6h1.3M434.1 385.3h1.3M438.2 389.0h1.3M425.0 376.9h1.3M433.6 387.9h1.3M425.5 375.0h1.3M428.3 379.8h1.3M436.7 388.3h1.3M438.8 381.7h1.3M444.4 391.7h1.3M434.1 387.8h1.3M432.6 384.4h1.3M435.0 387.4h1.3M496.1 384.9h1.3M492.7 388.6h1.3M505.2 378.0h1.3M501.2 376.9h1.3M500.6 387.1h1.3M499.7 379.6h1.3M493.8 393.3h1.3M500.6 382.5h1.3M494.7 389.5h1.3M493.8 388.8h1.3M497.9 383.5h1.3M507.9 373.4h1.3M496.2 388.8h1.3M496.1 395.2h1.3M490.7 388.6h1.3M482.0 406.9h1.3M484.4 405.7h1.3M479.7 397.6h1.3M481.9 407.1h1.3M481.9 394.9h1.3M479.6 395.4h1.3M487.0 410.7h1.3M485.1 404.4h1.3M486.0 397.2h1.3M485.3 400.1h1.3M485.9 397.3h1.3M475.7 401.8h1.3M488.7 403.2h1.3M473.5 396.8h1.3M484.1 397.2h1.3M478.0 402.3h1.3M479.8 401.4h1.3M482.3 399.7h1.3M475.4 394.2h1.3M478.1 399.7h1.3M486.0 401.8h1.3M481.7 396.2h1.3M485.2 397.9h1.3M482.5 402.2h1.3M483.1 399.8h1.3M479.8 398.5h1.3M477.2 402.7h1.3M480.5 394.2h1.3M481.9 395.6h1.3M482.7 400.1h1.3M484.8 400.6h1.3M480.4 330.3h1.3M487.8 360.6h1.3M470.8 364.1h1.3M475.4 295.3h1.3M482.4 342.8h1.3M484.2 293.9h1.3M492.9 360.6h1.3M514.2 364.3h1.3M497.9 329.0h1.3M468.2 350.4h1.3M499.7 359.5h1.3M462.6 370.1h1.3M513.7 345.6h1.3M464.8 302.6h1.3M466.7 418.3h1.3M429.9 358.0h1.3M404.2 331.1h1.3M446.2 392.7h1.3M418.3 415.3h1.3M443.7 405.4h1.3M432.7 333.9h1.3M452.8 398.0h1.3M467.4 337.5h1.3M437.5 318.5h1.3M404.2 312.8h1.3M441.5 399.1h1.3M439.6 331.7h1.3M427.1 363.8h1.3M464.7 346.8h1.3M434.8 371.2h1.3M445.7 345.6h1.3M452.9 307.3h1.3M452.5 417.4h1.3M420.8 380.9h1.3M465.6 355.2h1.3" stroke="#80d0a8" stroke-width="1.3"/>
<path d="M453.2 309.0h1.3M453.1 316.6h1.3M454.4 319.1h1.3M455.8 311.1h1.3M456.0 308.3h1.3M454.3 308.8h1.3M452.3 317.6h1.3M453.1 306.3h1.3M455.4 308.1h1.3M431.8 318.5h1.3M433.7 317.7h1.3M429.7 320.0h1.3M436.7 319.4h1.3M416.1 353.4h1.3M419.5 349.3h1.3M417.2 365.7h1.3M423.6 354.1h1.3M423.3 340.6h1.3M408.2 363.6h1.3M415.2 349.0h1.3M414.4 362.2h1.3M415.3 362.9h1.3M417.5 359.9h1.3M419.7 351.5h1.3M413.5 365.9h1.3M412.5 342.8h1.3M417.1 351.4h1.3M415.1 334.0h1.3M421.6 344.8h1.3M413.6 344.8h1.3M410.7 350.5h1.3M421.0 352.8h1.3M416.7 340.7h1.3M409.4 357.8h1.3M419.4 357.5h1.3M407.7 346.0h1.3M416.1 347.3h1.3M426.2 388.9h1.3M427.4 387.2h1.3M438.9 400.2h1.3M420.0 382.5h1.3M444.2 401.9h1.3M428.8 389.4h1.3M422.6 384.3h1.3M443.6 401.3h1.3M444.8 398.4h1.3M432.6 389.4h1.3M420.2 383.5h1.3M435.6 395.8h1.3M430.8 395.2h1.3M446.0 400.2h1.3M428.8 387.5h1.3M436.8 393.2h1.3M431.3 394.7h1.3M435.0 396.3h1.3M430.0 389.9h1.3M419.4 381.3h1.3M441.8 394.0h1.3M428.5 393.5h1.3M446.3 406.9h1.3M433.6 398.9h1.3M435.3 397.4h1.3M434.4 395.2h1.3M443.8 398.6h1.3M444.3 403.5h1.3M446.6 409.7h1.3M456.2 397.9h1.3M456.1 408.1h1.3" stroke="#3030a0" stroke-width="1.3"/>
<path d="M452.7 320.2h1.3M456.3 302.6h1.3M457.0 302.4h1.3M453.2 310.5h1.3M451.2 319.2h1.3M453.0 318.6h1.3M451.7 304.8h1.3M451.2 307.2h1.3M453.3 302.6h1.3M455.2 304.6h1.3M459.2 302.4h1.3M454.1 312.0h1.3M468.4 305.7h1.3M466.2 298.7h1.3M460.8 297.1h1.3M467.6 306.3h1.3M466.5 306.8h1.3M465.1 311.9h1.3M461.9 310.9h1.3M468.0 312.4h1.3M468.8 314.3h1.3M467.7 292.7h1.3M461.2 294.0h1.3M468.2 294.7h1.3M435.8 317.8h1.3M461.7 330.5h1.3M470.1 327.0h1.3M465.4 330.3h1.3M467.7 329.7h1.3M470.3 326.3h1.3M469.1 323.8h1.3M467.3 329.3h1.3M471.0 327.1h1.3M466.5 327.3h1.3M410.2 346.9h1.3M425.0 357.6h1.3M422.0 370.1h1.3M426.9 356.7h1.3M415.1 351.2h1.3M421.4 356.0h1.3M415.6 350.6h1.3M426.5 341.4h1.3M419.8 336.8h1.3M419.4 352.0h1.3M412.3 346.8h1.3M412.9 343.5h1.3M428.1 353.1h1.3M421.4 334.5h1.3M434.5 382.6h1.3M438.9 394.0h1.3M431.6 389.5h1.3M438.0 394.6h1.3M438.8 395.9h1.3M433.2 390.1h1.3M429.5 377.6h1.3M431.2 395.3h1.3M427.3 389.3h1.3M432.9 392.0h1.3M438.5 400.4h1.3M437.2 400.9h1.3M431.3 397.3h1.3M442.2 401.7h1.3M426.8 389.1h1.3M454.2 406.2h1.3M460.6 402.0h1.3M454.5 404.7h1.3M455.5 402.1h1.3M460.0 408.2h1.3M454.8 401.8h1.3M454.2 401.0h1.3M455.3 404.0h1.3M469.6 389.8h1.3M472.4 389.8h1.3M479.5 397.0h1.3M473.2 392.5h1.3M475.4 388.3h1.3M473.0 392.3h1.3M474.2 396.1h1.3M471.7 395.1h1.3M474.9 388.8h1.3M474.7 391.0h1.3M472.2 392.5h1.3M472.7 394.4h1.3" stroke="#3c6ab6" stroke-width="1.3"/>
<path d="M454.0 306.4h1.3M455.1 308.5h1.3M456.3 299.9h1.3M459.5 303.6h1.3M449.2 315.3h1.3M454.7 307.5h1.3M456.2 315.9h1.3M452.7 314.9h1.3M454.1 314.1h1.3M468.1 310.8h1.3M470.1 311.0h1.3M464.4 305.1h1.3M465.7 300.2h1.3M468.3 308.1h1.3M469.4 303.9h1.3M462.2 307.8h1.3M467.6 301.3h1.3M465.9 314.1h1.3M467.1 311.8h1.3M470.6 299.7h1.3M468.2 299.4h1.3M469.8 304.3h1.3M461.3 304.7h1.3M464.9 307.5h1.3M463.3 295.3h1.3M468.6 328.3h1.3M467.6 331.3h1.3M465.9 330.4h1.3M469.8 325.5h1.3M462.9 328.7h1.3M473.4 328.5h1.3M464.6 326.3h1.3M416.7 366.9h1.3M413.0 370.8h1.3M412.7 368.9h1.3M420.3 364.6h1.3M428.9 356.1h1.3M421.2 364.9h1.3M476.0 356.2h1.3M472.8 362.3h1.3M474.9 353.9h1.3M472.3 358.7h1.3M477.6 361.3h1.3M474.6 365.0h1.3M475.2 351.3h1.3M477.8 355.0h1.3M430.7 375.2h1.3M433.8 385.8h1.3M436.4 389.9h1.3M428.1 385.3h1.3M433.2 381.7h1.3M426.9 383.4h1.3M432.2 373.8h1.3M426.5 380.9h1.3M431.6 383.3h1.3M419.9 380.0h1.3M436.3 388.3h1.3M431.1 382.0h1.3M425.2 374.0h1.3M438.7 390.4h1.3M439.4 390.6h1.3M437.2 388.8h1.3M442.5 392.6h1.3M436.9 381.6h1.3M434.1 387.6h1.3M440.6 388.6h1.3M419.1 376.1h1.3M504.7 374.3h1.3M495.5 383.6h1.3M492.7 384.8h1.3M495.0 385.9h1.3M496.7 378.6h1.3M496.7 386.7h1.3M496.4 382.3h1.3M507.9 373.7h1.3M497.3 384.8h1.3M495.4 381.3h1.3M491.9 381.7h1.3M497.3 385.2h1.3M498.3 379.3h1.3M491.9 382.7h1.3M496.3 383.0h1.3M496.9 377.7h1.3M498.0 379.1h1.3M490.7 382.9h1.3M494.9 378.6h1.3M491.8 384.2h1.3M490.8 388.1h1.3M492.9 386.5h1.3M503.4 378.4h1.3M500.0 376.8h1.3M490.5 389.1h1.3M494.0 389.5h1.3M502.0 377.0h1.3M504.3 376.8h1.3M496.7 382.7h1.3M490.7 386.7h1.3M492.5 389.0h1.3M497.8 383.6h1.3M494.7 381.2h1.3M498.2 379.1h1.3M490.7 389.6h1.3M505.3 376.1h1.3M470.9 390.1h1.3M471.6 394.6h1.3M473.3 388.0h1.3M472.8 390.2h1.3M473.1 390.8h1.3M477.6 403.4h1.3M483.9 397.7h1.3M474.5 388.2h1.3M481.6 400.9h1.3M475.2 397.7h1.3M474.4 400.4h1.3M473.9 397.5h1.3M476.9 396.2h1.3M472.8 393.6h1.3M476.0 389.0h1.3M473.8 399.3h1.3M477.5 394.1h1.3M483.1 295.3h1.3M478.0 343.9h1.3M498.2 320.7h1.3M471.1 295.8h1.3M525.2 329.9h1.3M521.4 333.7h1.3M533.0 295.1h1.3M520.0 296.3h1.3M520.5 339.2h1.3M471.4 307.5h1.3M494.9 367.0h1.3M496.2 369.4h1.3" stroke="#64bac2" stroke-width="1.3"/>
<path d="M453.3 307.4h1.3M466.4 330.1h1.3M471.4 328.9h1.3M468.4 324.9h1.3M465.7 330.9h1.3M476.3 327.6h1.3M418.3 369.4h1.3M424.1 359.0h1.3M436.0 388.6h1.3M436.1 386.9h1.3M438.3 389.7h1.3M422.4 370.6h1.3M424.7 374.2h1.3M441.7 392.5h1.3M435.8 387.8h1.3M439.4 387.6h1.3M432.7 378.8h1.3M424.9 372.1h1.3M426.7 384.0h1.3M442.1 393.0h1.3M434.5 382.0h1.3M437.7 390.6h1.3M429.9 376.5h1.3M434.3 385.3h1.3M438.7 384.3h1.3M429.6 378.3h1.3M503.5 377.4h1.3M493.5 389.3h1.3M493.2 394.0h1.3M507.4 373.8h1.3M512.6 372.3h1.3M504.4 382.8h1.3M503.0 379.4h1.3M506.4 394.1h1.3M491.8 395.4h1.3M499.6 381.1h1.3M501.2 384.0h1.3M495.8 390.0h1.3M496.4 389.8h1.3M499.3 388.6h1.3M499.6 384.0h1.3M507.2 376.4h1.3M493.2 397.4h1.3M509.2 372.7h1.3M503.8 379.0h1.3M486.0 406.4h1.3M488.6 401.6h1.3M482.7 406.6h1.3M482.5 405.7h1.3M484.8 397.9h1.3M486.4 401.2h1.3M481.7 406.6h1.3M477.5 403.6h1.3M483.4 407.7h1.3M478.8 392.5h1.3M476.4 396.9h1.3M484.6 400.2h1.3M483.1 408.0h1.3M479.0 401.7h1.3M477.2 395.2h1.3M480.4 404.5h1.3M489.5 402.4h1.3M483.2 406.1h1.3M480.3 405.2h1.3M486.1 401.4h1.3M480.6 406.7h1.3M482.7 394.9h1.3M488.8 401.1h1.3M480.8 397.5h1.3M484.5 409.4h1.3M504.3 295.8h1.3M510.1 319.1h1.3M477.8 357.7h1.3M472.2 296.6h1.3M483.7 368.1h1.3M466.9 302.6h1.3M513.6 291.9h1.3M483.5 322.4h1.3M477.9 329.4h1.3M522.5 308.3h1.3M480.1 342.0h1.3M499.2 340.8h1.3" stroke="#94d07f" stroke-width="1.3"/>
<path d="M466.4 304.9h1.3M474.9 304.1h1.3M469.1 295.3h1.3M466.0 311.5h1.3M469.4 300.9h1.3M466.4 302.1h1.3M464.0 296.6h1.3M461.6 306.4h1.3M470.8 360.4h1.3M472.1 361.5h1.3M469.4 357.4h1.3M472.5 352.8h1.3M468.7 352.3h1.3M434.4 382.3h1.3M435.6 382.6h1.3M434.3 380.4h1.3M434.7 383.6h1.3M438.3 383.6h1.3M433.5 387.2h1.3M428.9 384.5h1.3M424.4 369.8h1.3M426.5 376.4h1.3M434.4 384.0h1.3M492.0 390.6h1.3M500.1 391.5h1.3M492.3 393.6h1.3M501.8 380.5h1.3M500.9 384.7h1.3M502.1 381.2h1.3M497.8 381.6h1.3M508.7 374.7h1.3M492.0 394.2h1.3M502.3 382.7h1.3M492.1 395.6h1.3M491.7 392.6h1.3M497.6 387.7h1.3M505.7 381.6h1.3M508.8 374.2h1.3M496.7 393.3h1.3M485.8 408.6h1.3M488.9 401.4h1.3M477.9 403.0h1.3M483.5 406.9h1.3M481.0 402.3h1.3M485.2 398.8h1.3M485.1 405.3h1.3M486.7 405.8h1.3M484.3 400.6h1.3M480.5 402.6h1.3M484.1 407.1h1.3M484.2 398.9h1.3M483.1 396.8h1.3M489.5 403.9h1.3M482.9 405.2h1.3M484.4 397.3h1.3M484.6 409.7h1.3" stroke="#b0d461" stroke-width="1.3"/>
<path d="M473.5 353.3h1.3M476.8 350.1h1.3M471.5 356.2h1.3M470.7 358.9h1.3M471.4 359.3h1.3M518.3 370.2h1.3M517.9 370.1h1.3M503.6 397.5h1.3M506.8 385.9h1.3M511.9 382.6h1.3M518.5 368.5h1.3M501.1 397.2h1.3M504.6 394.6h1.3M502.1 395.6h1.3M513.9 376.5h1.3M508.1 380.9h1.3M507.5 391.5h1.3M511.1 380.8h1.3M514.5 376.1h1.3M513.5 376.4h1.3M515.7 377.6h1.3M498.5 396.9h1.3M502.6 385.6h1.3M498.3 401.9h1.3M514.9 376.2h1.3" stroke="#d03420" stroke-width="1.3"/>
<path d="M475.7 352.1h1.3M473.9 359.2h1.3M478.6 356.2h1.3M478.3 355.4h1.3M479.6 353.8h1.3M475.7 352.4h1.3M470.8 360.6h1.3M495.8 396.7h1.3M504.7 381.1h1.3M505.3 393.7h1.3M499.0 395.8h1.3M516.2 371.7h1.3M497.3 391.3h1.3M506.8 390.0h1.3M504.5 387.2h1.3M502.4 384.2h1.3M511.5 378.2h1.3M495.9 398.9h1.3M505.2 392.1h1.3M507.6 391.4h1.3M510.2 374.1h1.3M510.6 385.5h1.3M507.8 377.8h1.3M505.5 387.6h1.3M509.8 376.5h1.3M506.6 390.1h1.3M520.7 367.6h1.3M496.8 396.3h1.3M502.3 388.4h1.3M504.9 394.4h1.3M513.8 377.8h1.3M499.3 392.4h1.3M494.3 397.8h1.3M494.8 398.2h1.3M493.7 396.8h1.3M505.5 389.5h1.3M511.6 374.0h1.3M512.4 371.4h1.3M510.3 376.7h1.3M511.1 377.9h1.3M503.4 398.2h1.3M506.1 393.9h1.3M502.3 353.5h1.3M528.6 319.4h1.3M502.3 350.7h1.3M463.9 323.7h1.3M515.4 317.4h1.3M494.7 301.0h1.3M480.7 349.4h1.3M464.8 319.6h1.3M464.4 363.8h1.3M476.4 335.8h1.3M517.2 345.2h1.3" stroke="#f08830" stroke-width="1.3"/>
<path d="M477.9 359.7h1.3M471.4 362.8h1.3M473.3 361.3h1.3M474.7 354.1h1.3M479.3 355.5h1.3M476.2 362.3h1.3M480.2 359.3h1.3M476.4 359.5h1.3M479.0 351.9h1.3M494.7 394.8h1.3M508.8 381.5h1.3M511.3 375.8h1.3M505.4 393.0h1.3M507.0 374.7h1.3M505.8 385.1h1.3M503.3 386.1h1.3M507.2 380.9h1.3M505.4 385.9h1.3M500.0 397.1h1.3M496.3 390.5h1.3M498.8 394.0h1.3M504.2 382.6h1.3M511.1 378.1h1.3M497.3 396.0h1.3M504.3 387.4h1.3M497.4 359.2h1.3M474.4 366.1h1.3M482.0 343.4h1.3M487.7 365.0h1.3M504.5 317.6h1.3M483.5 337.7h1.3M521.6 343.6h1.3M479.8 360.2h1.3M467.1 315.1h1.3M511.2 292.2h1.3M496.4 326.5h1.3M462.9 314.0h1.3M468.1 369.6h1.3M465.0 331.5h1.3M480.4 367.3h1.3" stroke="#e9d242" stroke-width="1.3"/>
<path d="M501.2 397.9h1.3M499.6 398.0h1.3M510.1 383.1h1.3M498.6 400.6h1.3M508.6 384.8h1.3M518.3 371.4h1.3M512.2 381.4h1.3M512.3 381.4h1.3M512.4 380.0h1.3M503.2 395.9h1.3M513.1 375.9h1.3M504.5 393.1h1.3" stroke="#c02820" stroke-width="1.3"/>
<path d="M512.9 377.2h1.3M499.2 397.4h1.3M504.8 392.0h1.3M501.7 389.9h1.3M514.8 373.2h1.3M504.4 391.1h1.3M505.8 394.3h1.3M510.1 381.6h1.3M518.0 368.6h1.3M507.3 380.9h1.3M511.4 385.0h1.3M516.1 376.8h1.3M513.8 373.8h1.3M510.3 384.3h1.3M516.4 375.2h1.3M502.7 399.7h1.3M505.1 387.4h1.3M500.7 394.9h1.3M512.8 374.5h1.3M504.0 398.3h1.3M503.5 397.4h1.3M510.4 381.5h1.3M518.7 327.7h1.3M503.3 344.0h1.3M476.4 318.4h1.3M498.8 347.8h1.3M487.0 345.1h1.3M472.3 311.4h1.3M516.7 367.7h1.3M473.8 309.7h1.3M520.5 310.0h1.3M484.3 298.6h1.3M471.5 297.0h1.3M485.3 350.6h1.3M498.4 369.9h1.3" stroke="#e04020" stroke-width="1.3"/>
<path d="M501.0 387.6h1.3M497.2 395.8h1.3M511.0 377.9h1.3M498.4 395.8h1.3M510.2 372.5h1.3M496.1 398.6h1.3M503.4 384.3h1.3M513.8 371.7h1.3M511.3 377.1h1.3M506.4 386.3h1.3M498.0 395.1h1.3M509.0 380.9h1.3M505.9 393.4h1.3M508.6 374.5h1.3M500.4 387.9h1.3M506.5 380.2h1.3M501.5 400.7h1.3M510.2 380.9h1.3M503.2 399.6h1.3M496.9 400.4h1.3M503.6 385.1h1.3M499.9 391.3h1.3M508.9 375.0h1.3M499.0 379.9h1.3M504.1 394.1h1.3M502.0 388.9h1.3M505.9 376.5h1.3M503.2 386.1h1.3M509.4 378.3h1.3M506.0 384.7h1.3M504.5 391.6h1.3M501.8 391.0h1.3M514.2 371.5h1.3" stroke="#f6bd36" stroke-width="1.3"/>
<path d="M499.3 400.3h1.3M513.3 372.5h1.3M514.1 377.6h1.3M516.0 372.1h1.3M511.5 381.8h1.3M500.6 392.5h1.3M504.7 383.7h1.3M510.5 379.1h1.3M504.3 390.8h1.3M509.7 379.2h1.3M510.4 387.7h1.3M509.1 379.5h1.3M506.1 383.8h1.3M506.3 387.0h1.3M512.7 375.3h1.3M499.6 397.8h1.3M507.5 381.4h1.3M500.8 395.4h1.3M513.1 381.9h1.3M503.7 395.8h1.3M508.8 381.5h1.3M495.5 396.2h1.3M508.9 376.9h1.3M506.3 385.4h1.3M517.4 371.2h1.3M506.1 390.6h1.3M502.3 398.6h1.3M506.3 392.1h1.3M504.0 387.9h1.3M507.4 387.6h1.3M496.4 399.8h1.3M487.2 305.0h1.3M467.8 340.4h1.3M511.2 343.4h1.3M516.6 303.4h1.3M516.2 340.2h1.3M516.1 359.8h1.3M470.9 317.6h1.3M511.6 338.9h1.3M487.4 329.7h1.3M518.0 334.2h1.3M494.7 345.3h1.3M532.3 296.1h1.3M475.6 346.3h1.3M488.2 343.2h1.3" stroke="#e86428" stroke-width="1.3"/>
<path d="M500.6 387.2h1.3M497.5 394.3h1.3M502.7 381.5h1.3M503.7 375.7h1.3M504.8 382.2h1.3M494.5 396.7h1.3M502.3 382.6h1.3M508.7 377.9h1.3M506.9 374.5h1.3M494.6 397.6h1.3M493.8 395.3h1.3M513.8 376.1h1.3M494.0 396.1h1.3M502.3 380.6h1.3M497.1 390.9h1.3M502.5 390.8h1.3M501.3 382.9h1.3M504.6 384.3h1.3M508.6 375.6h1.3M498.3 384.9h1.3M485.0 407.6h1.3M484.6 408.7h1.3M481.5 405.2h1.3M490.2 409.1h1.3M486.5 410.1h1.3M478.2 404.7h1.3M484.0 400.5h1.3M489.6 403.7h1.3M489.0 403.3h1.3M489.8 411.9h1.3M488.4 406.9h1.3M486.4 402.0h1.3M482.9 408.9h1.3M489.4 406.5h1.3M486.6 409.1h1.3M489.2 411.5h1.3M489.2 402.6h1.3M484.8 406.3h1.3M489.2 405.3h1.3M477.9 402.1h1.3M485.5 409.3h1.3M488.6 405.4h1.3M490.1 409.5h1.3M487.6 409.9h1.3M486.0 411.3h1.3M487.0 409.3h1.3M487.9 404.4h1.3M486.0 404.2h1.3M487.2 405.4h1.3M488.8 407.7h1.3M489.0 407.3h1.3M484.4 411.5h1.3M484.1 404.7h1.3M482.0 408.0h1.3M488.2 411.9h1.3M489.4 406.9h1.3M488.0 409.4h1.3M485.0 400.8h1.3M486.0 407.9h1.3M488.7 402.2h1.3M485.8 408.4h1.3M483.1 408.6h1.3M489.7 409.6h1.3M487.9 405.5h1.3M488.8 402.8h1.3M489.9 410.7h1.3M490.4 404.9h1.3M487.3 402.4h1.3M489.6 411.2h1.3M489.5 403.2h1.3M484.4 409.3h1.3M483.8 406.9h1.3M482.2 408.4h1.3M520.3 356.0h1.3M505.3 307.0h1.3M504.4 316.2h1.3M515.0 345.9h1.3M534.5 306.3h1.3M511.5 365.3h1.3M517.5 371.9h1.3M506.9 342.7h1.3M479.4 322.1h1.3M505.9 352.9h1.3M501.3 355.8h1.3M509.0 363.6h1.3" stroke="#d8e050" stroke-width="1.3"/>
<path d="M501.8 390.4h1.3M507.3 387.6h1.3M504.9 395.4h1.3M504.8 391.3h1.3M500.3 399.7h1.3M504.0 391.7h1.3M513.1 379.6h1.3M514.9 376.9h1.3M512.4 380.9h1.3M504.5 390.3h1.3M511.3 381.8h1.3M509.4 383.6h1.3" stroke="#a5211d" stroke-width="1.3"/>
<ellipse cx="508.4" cy="383" rx="22.6" ry="15.6" transform="rotate(-45 508.4 383)" fill="none" stroke="#e03020" stroke-width="1.7"/>
<ellipse cx="478.9" cy="400.7" rx="13.3" ry="15.4" transform="rotate(-22 478.9 400.7)" fill="none" stroke="#3060b0" stroke-width="1.7"/>
<path d="M490.2 364.2 L494.6 371.4 L485 371.9" fill="none" stroke="#e03020" stroke-width="2.1"/>
<path d="M465.2 379.8 L470.4 386 L461.4 388.2" fill="none" stroke="#111" stroke-width="2.3"/>
<g>
<path d="M64.6 93.8L65.1 109.0M65.1 109.0L70.8 121.2M70.8 121.2L60.7 126.8M70.8 121.2L75.6 133.4M60.7 126.8L49.5 119.9M75.6 133.4L83.1 145.3M83.1 145.3L78.9 158.6M78.9 158.6L68.8 148.7M78.9 158.6L93.6 162.2M93.6 162.2L106.5 164.3M106.5 164.3L116.8 172.0M106.5 164.3L99.1 175.4M99.1 175.4L90.7 186.1M90.7 186.1L101.6 194.2M101.6 194.2L112.6 186.5M112.6 186.5L116.5 197.9M101.6 194.2L92.0 204.6M92.0 204.6L104.4 211.7M104.4 211.7L106.1 226.1M116.8 172.0L130.3 177.6M130.3 177.6L141.8 182.2M141.8 182.2L152.8 185.5M152.8 185.5L161.8 186.0M161.8 186.0L173.2 185.7M173.2 185.7L184.8 184.2M184.8 184.2L195.5 181.7M195.5 181.7L207.2 177.0M207.2 177.0L217.8 171.5M217.8 171.5L228.7 164.0M228.7 164.0L238.7 156.2M130.3 177.6L135.4 165.0M238.7 156.2L246.1 167.7M184.8 184.2L185.9 170.2M185.9 170.2L173.2 169.0M185.9 170.2L198.0 163.6M198.0 163.6L205.4 156.2M205.4 156.2L210.1 149.8M184.8 184.2L184.2 198.5M78.9 158.6L80.5 173.8M210.1 149.8L225.3 148.1M225.3 148.1L232.7 136.5M232.7 136.5L222.0 126.8M222.0 126.8L226.2 112.9M226.2 112.9L231.6 100.8M232.7 136.5L248.0 136.3M248.0 136.3L250.2 146.1M248.0 136.3L247.1 123.2M152.8 185.5L146.3 199.5M146.3 199.5L137.9 199.0M146.3 199.5L161.4 202.5M75.6 133.4L89.9 127.5M89.9 127.5L98.3 139.8M98.3 139.8L109.2 147.3M80.5 173.8L71.5 186.6M71.5 186.6L65.8 197.9M65.8 197.9L62.4 209.2M65.8 197.9L54.5 191.1M62.4 209.2L59.2 223.6M247.1 123.2L263.2 124.3M263.2 124.3L261.8 114.6M261.8 114.6L263.8 103.2M263.2 124.3L274.7 126.0M263.8 103.2L268.5 91.9M263.2 124.3L266.5 136.3M274.7 126.0L283.0 136.3M283.0 136.3L294.8 135.6M294.8 135.6L293.4 123.0M274.7 126.0L281.6 113.5M281.6 113.5L284.5 101.6M293.4 123.0L302.8 111.9M228.7 164.0L233.3 179.5M302.8 111.9L318.6 106.7M318.6 106.7L306.9 94.7M116.5 197.9L122.7 215.0M205.4 156.2L189.5 140.0M189.5 140.0L179.1 136.2M179.1 136.2L170.6 130.0M170.6 130.0L165.1 118.9M165.1 118.9L155.7 114.0M155.7 114.0L162.8 104.9M189.5 140.0L197.1 130.2M197.1 130.2L189.0 122.9M189.0 122.9L198.5 116.3M198.5 116.3L188.9 106.6M188.9 106.6L180.5 101.5M180.5 101.5L172.1 92.6M172.1 92.6L169.1 80.8M180.5 101.5L189.8 88.1M189.8 88.1L206.2 84.6M206.2 84.6L207.5 70.0M207.5 70.0L218.3 75.0M189.8 88.1L188.4 69.1M188.4 69.1L187.6 54.4M187.6 54.4L187.6 40.9" stroke="#b0e4a0" stroke-width="0.75" fill="none"/>
<circle cx="64.6" cy="93.8" r="5.00" fill="#b0d858"/>
<circle cx="65.1" cy="109.0" r="5.90" fill="#e0e050"/>
<circle cx="49.5" cy="119.9" r="4.50" fill="#80d0b8"/>
<circle cx="70.8" cy="121.2" r="5.90" fill="#f09030"/>
<circle cx="60.7" cy="126.8" r="5.60" fill="#f8c030"/>
<circle cx="75.6" cy="133.4" r="5.40" fill="#e03020"/>
<circle cx="89.9" cy="127.5" r="5.05" fill="#e04828"/>
<circle cx="98.3" cy="139.8" r="5.40" fill="#8c1c1c"/>
<circle cx="83.1" cy="145.3" r="6.00" fill="#e04020"/>
<circle cx="68.8" cy="148.7" r="5.40" fill="#98e070"/>
<circle cx="109.2" cy="147.3" r="4.50" fill="#e85830"/>
<circle cx="78.9" cy="158.6" r="3.90" fill="#80d0b8"/>
<circle cx="93.6" cy="162.2" r="6.20" fill="#e03020"/>
<circle cx="106.5" cy="164.3" r="5.40" fill="#8c1c1c"/>
<circle cx="116.8" cy="172.0" r="5.90" fill="#f09030"/>
<circle cx="80.5" cy="173.8" r="5.40" fill="#e85830"/>
<circle cx="99.1" cy="175.4" r="5.40" fill="#8c1c1c"/>
<circle cx="71.5" cy="186.6" r="4.00" fill="#8c1c1c"/>
<circle cx="54.5" cy="191.1" r="4.70" fill="#8c1c1c"/>
<circle cx="65.8" cy="197.9" r="4.70" fill="#d83020"/>
<circle cx="62.4" cy="209.2" r="3.90" fill="#e03828"/>
<circle cx="59.2" cy="223.6" r="3.90" fill="#a8d850"/>
<circle cx="90.7" cy="186.1" r="4.50" fill="#e03020"/>
<circle cx="101.6" cy="194.2" r="5.20" fill="#e03828"/>
<circle cx="112.6" cy="186.5" r="5.20" fill="#8c1c1c"/>
<circle cx="116.5" cy="197.9" r="4.50" fill="#8c1c1c"/>
<circle cx="92.0" cy="204.6" r="4.90" fill="#f09030"/>
<circle cx="104.4" cy="211.7" r="6.00" fill="#e04828"/>
<circle cx="106.1" cy="226.1" r="4.90" fill="#e0d848"/>
<circle cx="122.7" cy="215.0" r="5.00" fill="#8c1c1c"/>
<circle cx="135.4" cy="165.0" r="3.70" fill="#80d0b8"/>
<circle cx="130.3" cy="177.6" r="4.50" fill="#b0e060"/>
<circle cx="141.8" cy="182.2" r="5.70" fill="#c8e050"/>
<circle cx="152.8" cy="185.5" r="5.00" fill="#3b44a6"/>
<circle cx="161.8" cy="186.0" r="5.40" fill="#3b44a6"/>
<circle cx="137.9" cy="199.0" r="3.00" fill="#3b44a6"/>
<circle cx="146.3" cy="199.5" r="3.00" fill="#3b44a6"/>
<circle cx="161.4" cy="202.5" r="5.20" fill="#3b44a6"/>
<circle cx="173.2" cy="185.7" r="4.50" fill="#3c58b0"/>
<circle cx="184.8" cy="184.2" r="5.90" fill="#3b44a6"/>
<circle cx="184.2" cy="198.5" r="5.00" fill="#4888c8"/>
<circle cx="173.2" cy="169.0" r="4.70" fill="#3b44a6"/>
<circle cx="185.9" cy="170.2" r="5.90" fill="#3b44a6"/>
<circle cx="195.5" cy="181.7" r="5.00" fill="#4470c0"/>
<circle cx="198.0" cy="163.6" r="5.20" fill="#3b44a6"/>
<circle cx="179.1" cy="136.2" r="5.90" fill="#3b44a6"/>
<circle cx="189.5" cy="140.0" r="5.40" fill="#3b44a6"/>
<circle cx="170.6" cy="130.0" r="4.70" fill="#3b44a6"/>
<circle cx="197.1" cy="130.2" r="5.40" fill="#3b44a6"/>
<circle cx="187.6" cy="40.9" r="3.00" fill="#3b44a6"/>
<circle cx="187.6" cy="54.4" r="3.00" fill="#3b44a6"/>
<circle cx="188.4" cy="69.1" r="4.50" fill="#3c50b0"/>
<circle cx="207.5" cy="70.0" r="5.00" fill="#3b44a6"/>
<circle cx="218.3" cy="75.0" r="4.50" fill="#4070c0"/>
<circle cx="206.2" cy="84.6" r="5.00" fill="#3c50b0"/>
<circle cx="169.1" cy="80.8" r="5.90" fill="#3a3ca0"/>
<circle cx="189.8" cy="88.1" r="6.20" fill="#3b44a6"/>
<circle cx="172.1" cy="92.6" r="5.20" fill="#3b44a6"/>
<circle cx="180.5" cy="101.5" r="5.20" fill="#3b44a6"/>
<circle cx="188.9" cy="106.6" r="5.90" fill="#3b44a6"/>
<circle cx="162.8" cy="104.9" r="4.50" fill="#3b44a6"/>
<circle cx="155.7" cy="114.0" r="4.20" fill="#4898c8"/>
<circle cx="165.1" cy="118.9" r="5.00" fill="#4060b8"/>
<circle cx="198.5" cy="116.3" r="4.70" fill="#3b44a6"/>
<circle cx="189.0" cy="122.9" r="5.90" fill="#3b44a6"/>
<circle cx="222.0" cy="126.8" r="5.20" fill="#3b44a6"/>
<circle cx="226.2" cy="112.9" r="4.50" fill="#3b44a6"/>
<circle cx="268.5" cy="91.9" r="5.40" fill="#3a3ca0"/>
<circle cx="231.6" cy="100.8" r="4.50" fill="#3b44a6"/>
<circle cx="263.8" cy="103.2" r="5.40" fill="#3b44a6"/>
<circle cx="284.5" cy="101.6" r="3.00" fill="#80d0b8"/>
<circle cx="261.8" cy="114.6" r="4.50" fill="#3b44a6"/>
<circle cx="281.6" cy="113.5" r="4.00" fill="#4898c8"/>
<circle cx="302.8" cy="111.9" r="5.40" fill="#3b44a6"/>
<circle cx="247.1" cy="123.2" r="4.50" fill="#3c5ab8"/>
<circle cx="263.2" cy="124.3" r="4.50" fill="#3b44a6"/>
<circle cx="274.7" cy="126.0" r="3.40" fill="#80d0b8"/>
<circle cx="293.4" cy="123.0" r="4.70" fill="#3b44a6"/>
<circle cx="232.7" cy="136.5" r="4.50" fill="#4898c8"/>
<circle cx="248.0" cy="136.3" r="4.50" fill="#3b44a6"/>
<circle cx="266.5" cy="136.3" r="4.70" fill="#3c5ab8"/>
<circle cx="283.0" cy="136.3" r="4.00" fill="#3b44a6"/>
<circle cx="294.8" cy="135.6" r="3.00" fill="#3b44a6"/>
<circle cx="250.2" cy="146.1" r="3.70" fill="#3b44a6"/>
<circle cx="225.3" cy="148.1" r="5.40" fill="#3b44a6"/>
<circle cx="210.1" cy="149.8" r="3.00" fill="#e02020"/>
<circle cx="205.4" cy="156.2" r="2.90" fill="#80d0b8"/>
<circle cx="238.7" cy="156.2" r="4.50" fill="#3b44a6"/>
<circle cx="228.7" cy="164.0" r="5.90" fill="#3b44a6"/>
<circle cx="246.1" cy="167.7" r="4.50" fill="#3b44a6"/>
<circle cx="217.8" cy="171.5" r="5.40" fill="#3b44a6"/>
<circle cx="207.2" cy="177.0" r="4.70" fill="#3b44a6"/>
<circle cx="233.3" cy="179.5" r="4.70" fill="#3b44a6"/>
<circle cx="306.9" cy="94.7" r="5.10" fill="#3a3ca0"/>
<circle cx="318.6" cy="106.7" r="4.70" fill="#3b44a6"/>
<path d="M142.9 206.6 m-2.7 0 a2.7 2.7 0 0 1 5.4 0z" fill="#3b44a6"/>
<path d="M80.6 109.5 L85.7 103.6 L99.1 103.2 L104.2 110.3 L104.2 116.2 L100.8 120.4 L102.5 125.5 L99.1 130.5 L90.7 132.2 L84 128.8 L83.1 115.4 L80.6 112.8Z" fill="none" stroke="#555" stroke-width="0.8"/>
<rect x="88.6" y="110.6" width="6.4" height="6.2" fill="#f08030" stroke="#333" stroke-width="0.8" stroke-dasharray="1.2,1"/>
<path d="M86.5 124.5 h1 M93.5 124.5 h1 M86.5 131 h1 M93.5 131 h1" stroke="#222" stroke-width="0.8"/>
<path d="M119.5 236.3 L126.9 234.9 L132.3 235.6 L139.1 236.3 L140.4 242.3 L139.7 250.4 L135 253.1 L130.3 256.5 L125.6 253.8 L120.2 252.4 L117.5 248.4 L116.8 243.7 L118.9 241Z" fill="none" stroke="#777" stroke-width="0.8"/>
<path d="M131.6 230.2 v8.5 M132.3 235.6 h4.5" stroke="#80d8e0" stroke-width="0.8"/>
<rect x="126.6" y="241.7" width="6.3" height="6.6" fill="#a8d060" stroke="#222" stroke-width="0.8"/>
<text transform="translate(104.6,94.9) scale(0.95,1)" font-size="15.4" fill="#e03828">R1</text>
<text transform="translate(140.9,227.6) scale(1.08,1)" font-size="13.4" fill="#111">R2</text>
<text transform="translate(233,260.8) scale(0.88,1)" font-size="10" fill="#222">0.25</text>
<text transform="translate(303.3,260.8) scale(0.88,1)" font-size="10" fill="#222" text-anchor="end">3.29</text>
<rect x="238.6" y="261.6" width="53.7" height="13.1" fill="url(#cbh)" stroke="#222" stroke-width="0.8"/>
<path d="M94 118 L489 368" stroke="#e82818" stroke-width="2.0" stroke-dasharray="0,3.65" stroke-linecap="round" fill="none"/>
<path d="M152 253.4 L466 385.2" stroke="#111" stroke-width="2.1" stroke-dasharray="0,3.72" stroke-linecap="round" fill="none"/>
</g>
</svg></body></html>
